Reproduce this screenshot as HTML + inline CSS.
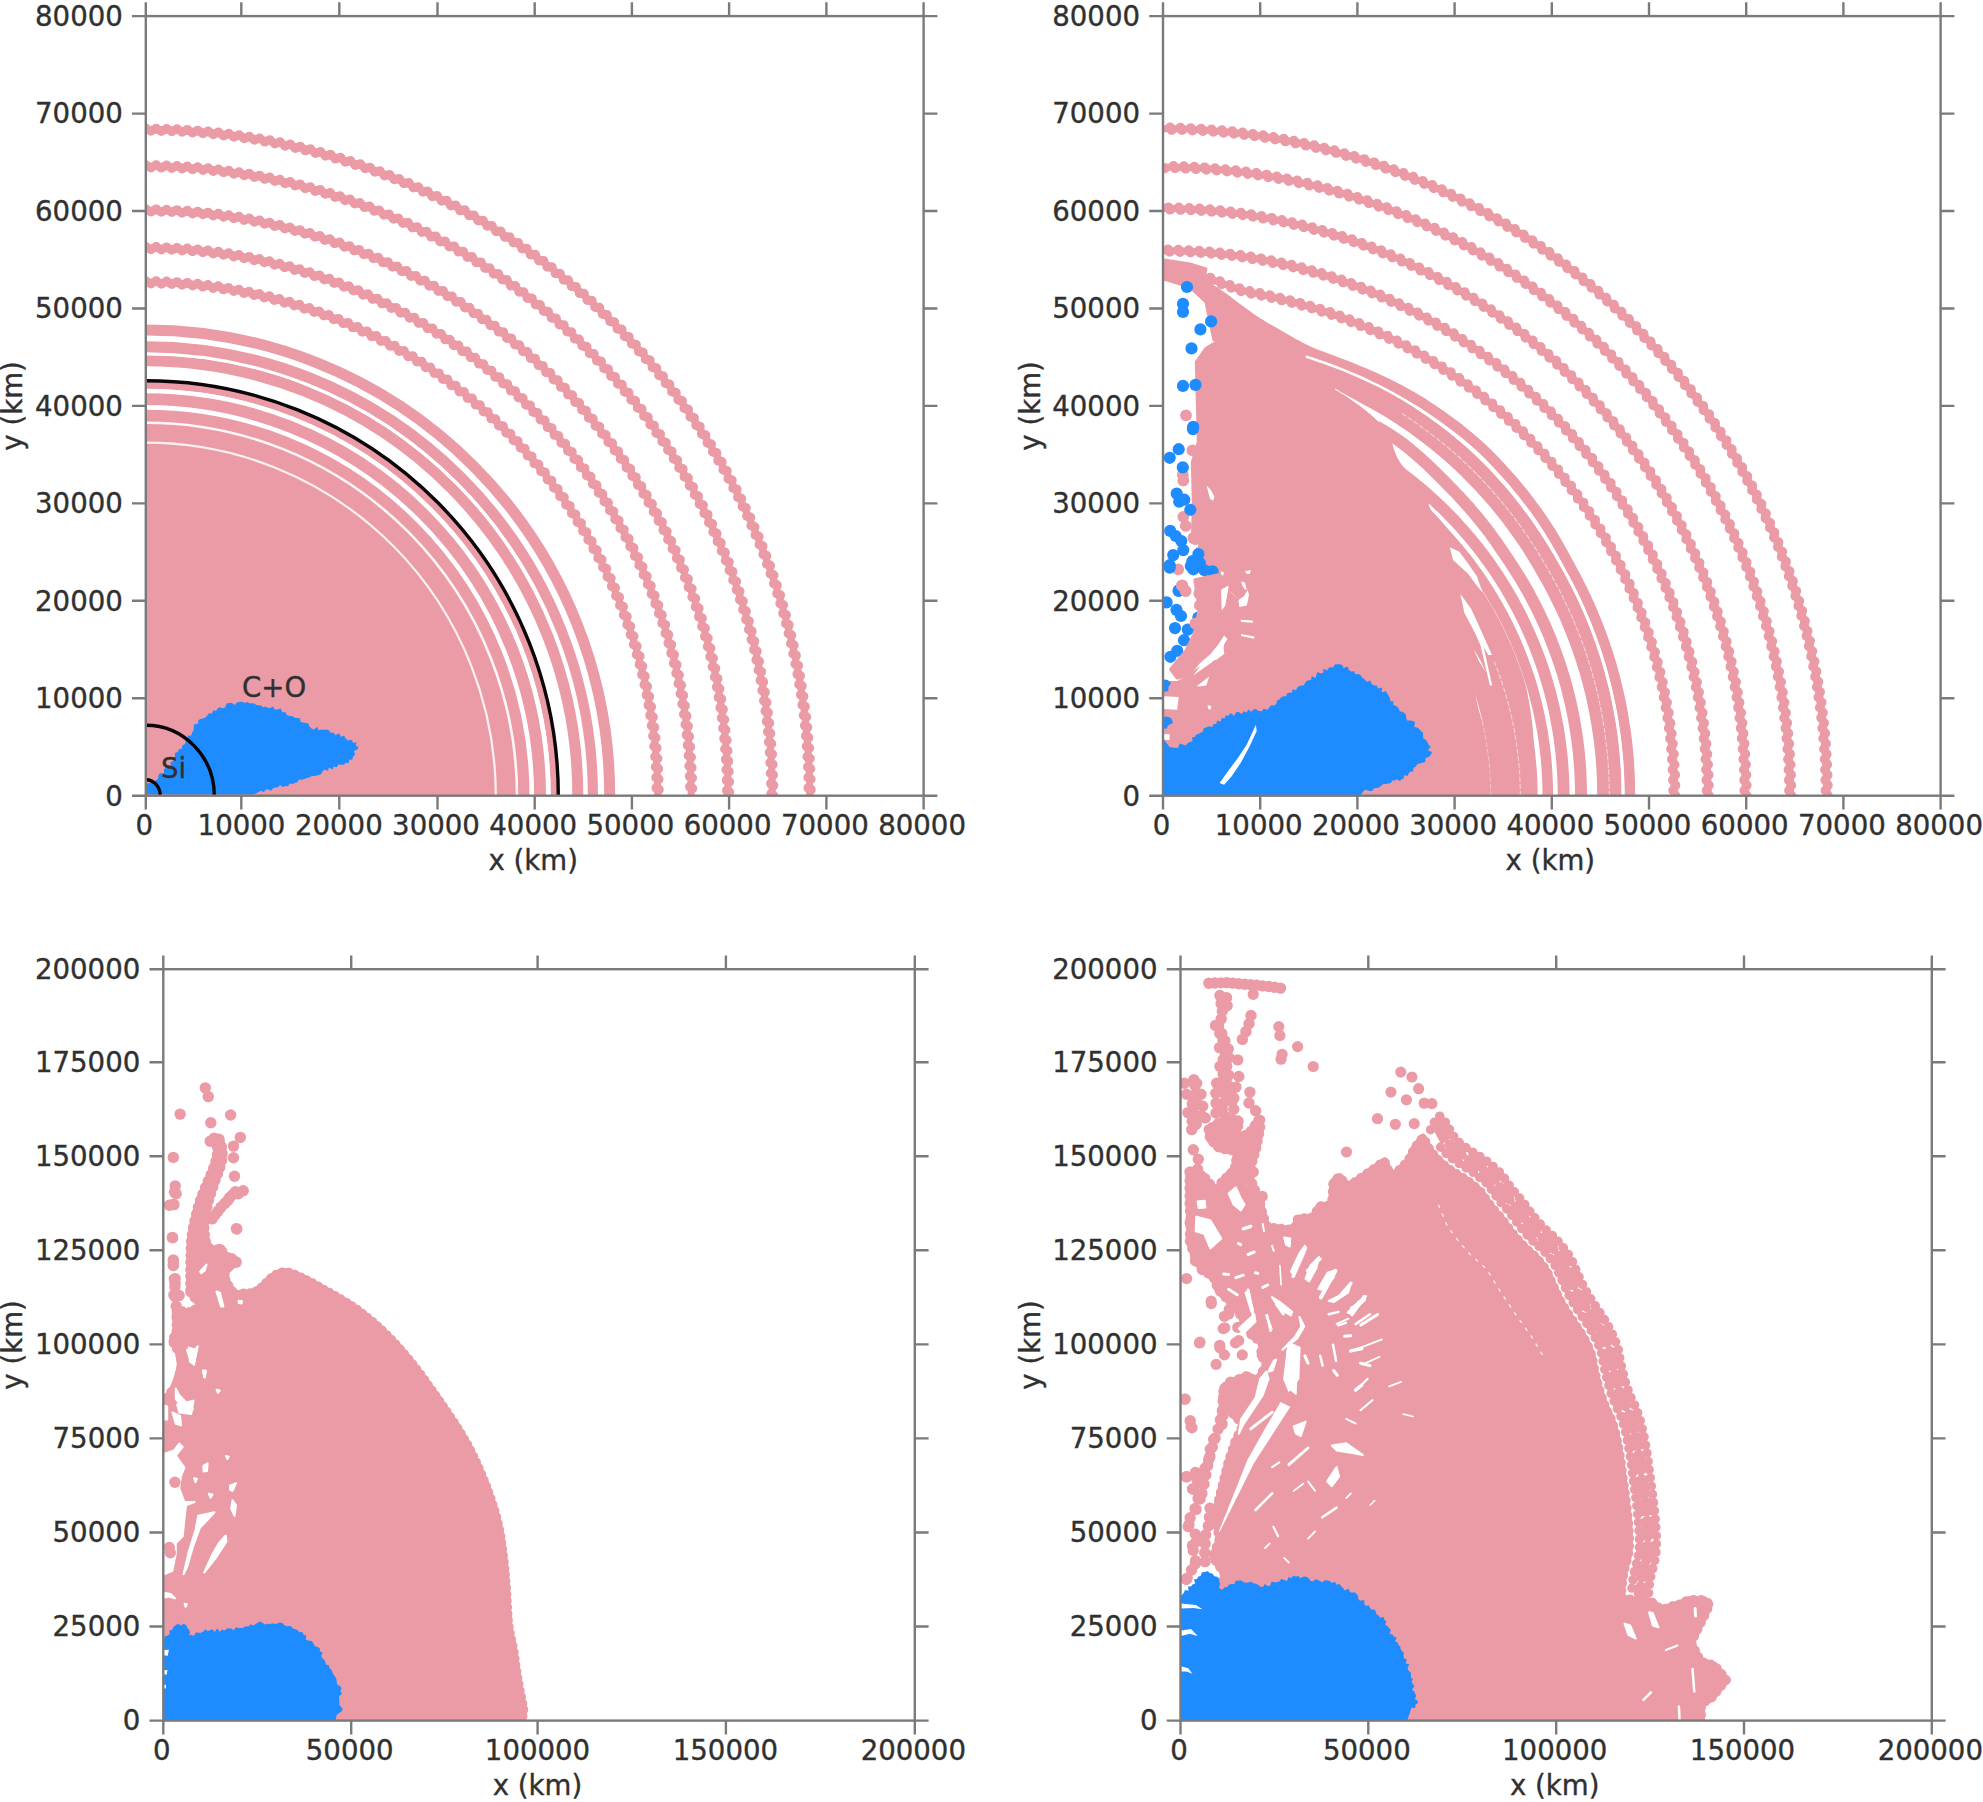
<!DOCTYPE html>
<html lang="en"><head><meta charset="utf-8"><title>Figure</title>
<style>
html,body{margin:0;padding:0;background:#fff;}
svg{display:block}
text{font-family:"DejaVu Sans","Liberation Sans",sans-serif;font-size:27.6px;fill:#303030;stroke:#303030;stroke-width:0.35px;}
</style></head><body>
<svg width="[[(1228.6080586080586, 1193.4310134310135), (1235.934065934066, 1187.3260073260074), (1240.8180708180707, 1198.3150183150183), (1244.4810744810745, 1204.4200244200244), (1240.8180708180707, 1210.5250305250306), (1233.4920634920636, 1204.4200244200244)], [(1197.4725274725274, 1201.3675213675215), (1204.7985347985348, 1200.7570207570207), (1205.4090354090354, 1207.4725274725274), (1198.6935286935286, 1208.083028083028)], [(1196.2515262515262, 1216.6300366300366), (1210.2930402930403, 1220.2930402930403), (1221.2820512820513, 1238.6080586080586), (1210.2930402930403, 1248.3760683760684), (1204.1880341880342, 1233.7240537240536), (1195.6410256410256, 1231.2820512820513)], [(1271.953601953602, 1297.2161172161173), (1279.89010989011, 1302.100122100122), (1292.100122100122, 1311.868131868132), (1290.8791208791208, 1315.5311355311355), (1279.89010989011, 1309.4261294261294)], [(1299.4261294261294, 1316.7521367521367), (1304.3101343101343, 1326.5201465201465), (1296.984126984127, 1338.7301587301588), (1282.3321123321123, 1349.7191697191697), (1294.5421245421246, 1337.5091575091576), (1301.2576312576311, 1326.5201465201465)], [(1284.163614163614, 1237.3870573870574), (1290.2686202686202, 1238.6080586080586), (1289.6581196581196, 1246.5445665445666), (1285.995115995116, 1244.7130647130648)], [(1290.8791208791208, 1271.5750915750916), (1299.4261294261294, 1253.2600732600733), (1304.920634920635, 1245.934065934066), (1301.868131868132, 1255.7020757020757), (1293.3211233211234, 1274.017094017094)], [(1305.5311355311355, 1278.901098901099), (1310.4151404151405, 1265.4700854700855), (1318.962148962149, 1256.923076923077), (1316.5201465201465, 1267.9120879120878), (1309.194139194139, 1281.3431013431014)], [(1318.3516483516482, 1288.6691086691087), (1327.5091575091576, 1272.7960927960928), (1334.835164835165, 1270.3540903540904), (1333.6141636141635, 1277.6800976800978), (1321.4041514041514, 1289.89010989011)], [(1328.7301587301588, 1300.8791208791208), (1340.940170940171, 1294.7741147741149), (1350.7081807081806, 1283.7851037851037), (1348.2661782661783, 1292.3321123321123), (1333.6141636141635, 1302.100122100122)], [(1347.6556776556777, 1312.4786324786326), (1358.034188034188, 1302.100122100122), (1365.970695970696, 1295.995115995116), (1364.1391941391942, 1300.8791208791208), (1350.7081807081806, 1313.6996336996338)], [(1268.2905982905984, 1371.6971916971918), (1273.7851037851037, 1360.7081807081806), (1276.2271062271063, 1359.4871794871794), (1272.5641025641025, 1370.4761904761904)], [(1287.2161172161173, 1350.940170940171), (1296.984126984127, 1348.4981684981685), (1295.7631257631258, 1393.6752136752136), (1288.4371184371184, 1387.5702075702075)], [(1288.8782816229118, 1342.9594272076372), (1299.618138424821, 1347.7326968973748), (1298.4248210023866, 1378.7589498806683), (1288.8782816229118, 1390.692124105012), (1284.1050119331742, 1378.7589498806683), (1286.4916467780429, 1359.6658711217183)], [(1260.2386634844868, 1378.7589498806683), (1266.2052505966587, 1371.599045346062), (1268.5918854415274, 1378.7589498806683), (1262.6252983293557, 1395.4653937947494), (1243.5322195704057, 1424.1050119331742), (1238.7589498806683, 1433.6515513126492), (1241.145584725537, 1419.3317422434368), (1255.4653937947494, 1397.852028639618)], [(1238.7589498806683, 1328.6396181384248), (1254.272076372315, 1314.3198090692124), (1255.4653937947494, 1321.4797136038187), (1243.5322195704057, 1333.4128878281622)], [(1331.837708830549, 1445.584725536993), (1346.1575178997614, 1443.198090692124), (1362.8639618138425, 1455.1312649164677), (1350.9307875894988, 1452.744630071599), (1336.6109785202864, 1450.3579952267303)], [(1327.0644391408114, 1481.3842482100238), (1336.6109785202864, 1467.0644391408114), (1338.997613365155, 1476.6109785202864), (1331.837708830549, 1486.1575178997614)], [(1293.6515513126492, 1426.4916467780429), (1305.584725536993, 1421.7183770883055), (1300.8114558472553, 1436.0381861575179), (1296.0381861575179, 1433.6515513126492)], [(1624.5283018867924, 1623.5849056603774), (1630.188679245283, 1625.4716981132076), (1635.8490566037735, 1638.6792452830189), (1628.301886792453, 1634.9056603773583)], [(1649.0566037735848, 1612.264150943396), (1652.8301886792453, 1613.0188679245284), (1658.4905660377358, 1627.3584905660377), (1652.8301886792453, 1625.4716981132076)]]" height="1802" viewBox="0 0 [[(1228.6080586080586, 1193.4310134310135), (1235.934065934066, 1187.3260073260074), (1240.8180708180707, 1198.3150183150183), (1244.4810744810745, 1204.4200244200244), (1240.8180708180707, 1210.5250305250306), (1233.4920634920636, 1204.4200244200244)], [(1197.4725274725274, 1201.3675213675215), (1204.7985347985348, 1200.7570207570207), (1205.4090354090354, 1207.4725274725274), (1198.6935286935286, 1208.083028083028)], [(1196.2515262515262, 1216.6300366300366), (1210.2930402930403, 1220.2930402930403), (1221.2820512820513, 1238.6080586080586), (1210.2930402930403, 1248.3760683760684), (1204.1880341880342, 1233.7240537240536), (1195.6410256410256, 1231.2820512820513)], [(1271.953601953602, 1297.2161172161173), (1279.89010989011, 1302.100122100122), (1292.100122100122, 1311.868131868132), (1290.8791208791208, 1315.5311355311355), (1279.89010989011, 1309.4261294261294)], [(1299.4261294261294, 1316.7521367521367), (1304.3101343101343, 1326.5201465201465), (1296.984126984127, 1338.7301587301588), (1282.3321123321123, 1349.7191697191697), (1294.5421245421246, 1337.5091575091576), (1301.2576312576311, 1326.5201465201465)], [(1284.163614163614, 1237.3870573870574), (1290.2686202686202, 1238.6080586080586), (1289.6581196581196, 1246.5445665445666), (1285.995115995116, 1244.7130647130648)], [(1290.8791208791208, 1271.5750915750916), (1299.4261294261294, 1253.2600732600733), (1304.920634920635, 1245.934065934066), (1301.868131868132, 1255.7020757020757), (1293.3211233211234, 1274.017094017094)], [(1305.5311355311355, 1278.901098901099), (1310.4151404151405, 1265.4700854700855), (1318.962148962149, 1256.923076923077), (1316.5201465201465, 1267.9120879120878), (1309.194139194139, 1281.3431013431014)], [(1318.3516483516482, 1288.6691086691087), (1327.5091575091576, 1272.7960927960928), (1334.835164835165, 1270.3540903540904), (1333.6141636141635, 1277.6800976800978), (1321.4041514041514, 1289.89010989011)], [(1328.7301587301588, 1300.8791208791208), (1340.940170940171, 1294.7741147741149), (1350.7081807081806, 1283.7851037851037), (1348.2661782661783, 1292.3321123321123), (1333.6141636141635, 1302.100122100122)], [(1347.6556776556777, 1312.4786324786326), (1358.034188034188, 1302.100122100122), (1365.970695970696, 1295.995115995116), (1364.1391941391942, 1300.8791208791208), (1350.7081807081806, 1313.6996336996338)], [(1268.2905982905984, 1371.6971916971918), (1273.7851037851037, 1360.7081807081806), (1276.2271062271063, 1359.4871794871794), (1272.5641025641025, 1370.4761904761904)], [(1287.2161172161173, 1350.940170940171), (1296.984126984127, 1348.4981684981685), (1295.7631257631258, 1393.6752136752136), (1288.4371184371184, 1387.5702075702075)], [(1288.8782816229118, 1342.9594272076372), (1299.618138424821, 1347.7326968973748), (1298.4248210023866, 1378.7589498806683), (1288.8782816229118, 1390.692124105012), (1284.1050119331742, 1378.7589498806683), (1286.4916467780429, 1359.6658711217183)], [(1260.2386634844868, 1378.7589498806683), (1266.2052505966587, 1371.599045346062), (1268.5918854415274, 1378.7589498806683), (1262.6252983293557, 1395.4653937947494), (1243.5322195704057, 1424.1050119331742), (1238.7589498806683, 1433.6515513126492), (1241.145584725537, 1419.3317422434368), (1255.4653937947494, 1397.852028639618)], [(1238.7589498806683, 1328.6396181384248), (1254.272076372315, 1314.3198090692124), (1255.4653937947494, 1321.4797136038187), (1243.5322195704057, 1333.4128878281622)], [(1331.837708830549, 1445.584725536993), (1346.1575178997614, 1443.198090692124), (1362.8639618138425, 1455.1312649164677), (1350.9307875894988, 1452.744630071599), (1336.6109785202864, 1450.3579952267303)], [(1327.0644391408114, 1481.3842482100238), (1336.6109785202864, 1467.0644391408114), (1338.997613365155, 1476.6109785202864), (1331.837708830549, 1486.1575178997614)], [(1293.6515513126492, 1426.4916467780429), (1305.584725536993, 1421.7183770883055), (1300.8114558472553, 1436.0381861575179), (1296.0381861575179, 1433.6515513126492)], [(1624.5283018867924, 1623.5849056603774), (1630.188679245283, 1625.4716981132076), (1635.8490566037735, 1638.6792452830189), (1628.301886792453, 1634.9056603773583)], [(1649.0566037735848, 1612.264150943396), (1652.8301886792453, 1613.0188679245284), (1658.4905660377358, 1627.3584905660377), (1652.8301886792453, 1625.4716981132076)]] 1802">
<rect width="[[(1228.6080586080586, 1193.4310134310135), (1235.934065934066, 1187.3260073260074), (1240.8180708180707, 1198.3150183150183), (1244.4810744810745, 1204.4200244200244), (1240.8180708180707, 1210.5250305250306), (1233.4920634920636, 1204.4200244200244)], [(1197.4725274725274, 1201.3675213675215), (1204.7985347985348, 1200.7570207570207), (1205.4090354090354, 1207.4725274725274), (1198.6935286935286, 1208.083028083028)], [(1196.2515262515262, 1216.6300366300366), (1210.2930402930403, 1220.2930402930403), (1221.2820512820513, 1238.6080586080586), (1210.2930402930403, 1248.3760683760684), (1204.1880341880342, 1233.7240537240536), (1195.6410256410256, 1231.2820512820513)], [(1271.953601953602, 1297.2161172161173), (1279.89010989011, 1302.100122100122), (1292.100122100122, 1311.868131868132), (1290.8791208791208, 1315.5311355311355), (1279.89010989011, 1309.4261294261294)], [(1299.4261294261294, 1316.7521367521367), (1304.3101343101343, 1326.5201465201465), (1296.984126984127, 1338.7301587301588), (1282.3321123321123, 1349.7191697191697), (1294.5421245421246, 1337.5091575091576), (1301.2576312576311, 1326.5201465201465)], [(1284.163614163614, 1237.3870573870574), (1290.2686202686202, 1238.6080586080586), (1289.6581196581196, 1246.5445665445666), (1285.995115995116, 1244.7130647130648)], [(1290.8791208791208, 1271.5750915750916), (1299.4261294261294, 1253.2600732600733), (1304.920634920635, 1245.934065934066), (1301.868131868132, 1255.7020757020757), (1293.3211233211234, 1274.017094017094)], [(1305.5311355311355, 1278.901098901099), (1310.4151404151405, 1265.4700854700855), (1318.962148962149, 1256.923076923077), (1316.5201465201465, 1267.9120879120878), (1309.194139194139, 1281.3431013431014)], [(1318.3516483516482, 1288.6691086691087), (1327.5091575091576, 1272.7960927960928), (1334.835164835165, 1270.3540903540904), (1333.6141636141635, 1277.6800976800978), (1321.4041514041514, 1289.89010989011)], [(1328.7301587301588, 1300.8791208791208), (1340.940170940171, 1294.7741147741149), (1350.7081807081806, 1283.7851037851037), (1348.2661782661783, 1292.3321123321123), (1333.6141636141635, 1302.100122100122)], [(1347.6556776556777, 1312.4786324786326), (1358.034188034188, 1302.100122100122), (1365.970695970696, 1295.995115995116), (1364.1391941391942, 1300.8791208791208), (1350.7081807081806, 1313.6996336996338)], [(1268.2905982905984, 1371.6971916971918), (1273.7851037851037, 1360.7081807081806), (1276.2271062271063, 1359.4871794871794), (1272.5641025641025, 1370.4761904761904)], [(1287.2161172161173, 1350.940170940171), (1296.984126984127, 1348.4981684981685), (1295.7631257631258, 1393.6752136752136), (1288.4371184371184, 1387.5702075702075)], [(1288.8782816229118, 1342.9594272076372), (1299.618138424821, 1347.7326968973748), (1298.4248210023866, 1378.7589498806683), (1288.8782816229118, 1390.692124105012), (1284.1050119331742, 1378.7589498806683), (1286.4916467780429, 1359.6658711217183)], [(1260.2386634844868, 1378.7589498806683), (1266.2052505966587, 1371.599045346062), (1268.5918854415274, 1378.7589498806683), (1262.6252983293557, 1395.4653937947494), (1243.5322195704057, 1424.1050119331742), (1238.7589498806683, 1433.6515513126492), (1241.145584725537, 1419.3317422434368), (1255.4653937947494, 1397.852028639618)], [(1238.7589498806683, 1328.6396181384248), (1254.272076372315, 1314.3198090692124), (1255.4653937947494, 1321.4797136038187), (1243.5322195704057, 1333.4128878281622)], [(1331.837708830549, 1445.584725536993), (1346.1575178997614, 1443.198090692124), (1362.8639618138425, 1455.1312649164677), (1350.9307875894988, 1452.744630071599), (1336.6109785202864, 1450.3579952267303)], [(1327.0644391408114, 1481.3842482100238), (1336.6109785202864, 1467.0644391408114), (1338.997613365155, 1476.6109785202864), (1331.837708830549, 1486.1575178997614)], [(1293.6515513126492, 1426.4916467780429), (1305.584725536993, 1421.7183770883055), (1300.8114558472553, 1436.0381861575179), (1296.0381861575179, 1433.6515513126492)], [(1624.5283018867924, 1623.5849056603774), (1630.188679245283, 1625.4716981132076), (1635.8490566037735, 1638.6792452830189), (1628.301886792453, 1634.9056603773583)], [(1649.0566037735848, 1612.264150943396), (1652.8301886792453, 1613.0188679245284), (1658.4905660377358, 1627.3584905660377), (1652.8301886792453, 1625.4716981132076)]]" height="1802" fill="#fff"/>
<g id="panel1">
<clipPath id="c1"><rect x="145.8" y="16.1" width="777.8" height="779.6"/></clipPath>
<g clip-path="url(#c1)"><path d="M145.8 795.7L145.8 391.20000000000005A402 404.5 0 0 1 547.8 795.7Z" fill="#EB9BA6"/>
<path d="M145.8 384.7A409.3 411.0 0 0 1 555.1 795.7" fill="none" stroke="#EB9BA6" stroke-width="8.8"/>
<path d="M145.8 360.7A432.0 435.0 0 0 1 577.8 795.7" fill="none" stroke="#EB9BA6" stroke-width="11"/>
<path d="M145.8 346.7A446.7 449.0 0 0 1 592.5 795.7" fill="none" stroke="#EB9BA6" stroke-width="11"/>
<path d="M145.8 329.9A463.9 465.8 0 0 1 609.7 795.7" fill="none" stroke="#EB9BA6" stroke-width="11"/>
<path d="M145.8 282.3A511.9 513.4 0 0 1 657.7 795.7" fill="none" stroke="#EB9BA6" stroke-width="7"/>
<path d="M145.8 281.2A513.0 514.5 0 0 1 658.8 795.7" fill="none" stroke="#EB9BA6" stroke-width="10" stroke-linecap="round" stroke-dasharray="0 10.4"/>
<path d="M145.8 283.4A510.8 512.3 0 0 1 656.6 795.7" fill="none" stroke="#EB9BA6" stroke-width="10" stroke-linecap="round" stroke-dasharray="0 10.4" stroke-dashoffset="5.2"/>
<path d="M145.8 248.1A545.4 547.6 0 0 1 691.2 795.7" fill="none" stroke="#EB9BA6" stroke-width="7"/>
<path d="M145.8 247.0A546.5 548.7 0 0 1 692.3 795.7" fill="none" stroke="#EB9BA6" stroke-width="10" stroke-linecap="round" stroke-dasharray="0 10.4"/>
<path d="M145.8 249.2A544.3 546.5 0 0 1 690.1 795.7" fill="none" stroke="#EB9BA6" stroke-width="10" stroke-linecap="round" stroke-dasharray="0 10.4" stroke-dashoffset="5.2"/>
<path d="M145.8 210.4A582.3 585.3 0 0 1 728.1 795.7" fill="none" stroke="#EB9BA6" stroke-width="7"/>
<path d="M145.8 209.3A583.4 586.4 0 0 1 729.2 795.7" fill="none" stroke="#EB9BA6" stroke-width="10" stroke-linecap="round" stroke-dasharray="0 10.4"/>
<path d="M145.8 211.5A581.2 584.2 0 0 1 727.0 795.7" fill="none" stroke="#EB9BA6" stroke-width="10" stroke-linecap="round" stroke-dasharray="0 10.4" stroke-dashoffset="5.2"/>
<path d="M145.8 166.3A626.5 629.4 0 0 1 772.3 795.7" fill="none" stroke="#EB9BA6" stroke-width="7"/>
<path d="M145.8 165.2A627.6 630.5 0 0 1 773.4 795.7" fill="none" stroke="#EB9BA6" stroke-width="10" stroke-linecap="round" stroke-dasharray="0 10.4"/>
<path d="M145.8 167.4A625.4 628.3 0 0 1 771.2 795.7" fill="none" stroke="#EB9BA6" stroke-width="10" stroke-linecap="round" stroke-dasharray="0 10.4" stroke-dashoffset="5.2"/>
<path d="M145.8 129.7A663.9 666.0 0 0 1 809.7 795.7" fill="none" stroke="#EB9BA6" stroke-width="7"/>
<path d="M145.8 128.6A665.0 667.1 0 0 1 810.8 795.7" fill="none" stroke="#EB9BA6" stroke-width="10" stroke-linecap="round" stroke-dasharray="0 10.4"/>
<path d="M145.8 130.8A662.8 664.9 0 0 1 808.6 795.7" fill="none" stroke="#EB9BA6" stroke-width="10" stroke-linecap="round" stroke-dasharray="0 10.4" stroke-dashoffset="5.2"/>
<path d="M145.8 442.7A350.0 353.0 0 0 1 495.8 795.7" fill="none" stroke="#fff" stroke-width="2.2" stroke-opacity="0.85"/>
<path d="M145.8 422.7A371.2 373.0 0 0 1 517.0 795.7" fill="none" stroke="#fff" stroke-width="2.6" stroke-opacity="0.9"/>
<path d="M145.8 407.4A386.0 388.3 0 0 1 531.8 795.7" fill="none" stroke="#fff" stroke-width="4.6" stroke-opacity="1"/>
<path d="M145.8 391.0A402.5 404.7 0 0 1 548.3 795.7" fill="none" stroke="#fff" stroke-width="4.6" stroke-opacity="1"/>
<path d="M145.8 354.2A441.0 441.5 0 0 1 586.8 795.7" fill="none" stroke="#fff" stroke-width="2.2" stroke-opacity="0.9"/>
<path d="M145.4 794.6L145.4 785.3L147.1 783.2L149.8 783.2L151.5 781.5L154.1 781.2L156.3 780.2L158.2 778.6L158.3 775.5L159.8 773.3L164.1 773.4L163.8 769.9L165.4 767.8L167.8 766.5L170.9 765.5L170.5 762.2L173.1 760.9L173.2 758.0L175.1 756.2L174.8 753.0L177.8 752.0L178.7 749.6L181.7 748.4L182.4 745.4L184.9 743.9L186.0 741.1L188.1 739.4L187.5 735.8L191.4 735.4L192.0 732.6L193.6 730.4L193.7 727.4L193.9 724.5L198.3 723.6L198.1 720.5L200.2 719.0L203.0 718.4L205.5 717.5L207.3 715.5L209.0 713.3L212.0 713.6L213.1 710.4L216.1 710.7L217.6 708.2L219.9 707.2L222.8 708.3L225.1 707.4L226.7 703.6L229.2 703.1L231.7 702.8L234.9 705.1L236.8 702.6L240.5 701.8L242.8 701.9L244.9 703.1L247.5 702.1L249.6 703.4L252.0 703.3L254.3 703.6L256.4 704.9L258.7 705.3L261.0 705.4L263.3 707.3L265.8 706.6L268.1 707.9L270.6 707.8L273.1 706.6L274.7 709.6L277.7 709.4L281.0 708.6L282.2 712.3L285.2 712.0L286.8 715.0L289.3 716.0L292.4 715.9L294.5 717.7L297.3 718.1L300.1 718.5L300.6 722.1L303.2 722.6L305.9 723.0L308.5 723.7L309.4 726.6L311.5 728.6L313.8 729.8L317.1 726.7L318.8 730.2L321.5 729.6L324.1 729.8L326.7 729.4L329.0 730.6L331.0 733.1L333.6 732.6L335.4 735.2L339.3 733.3L340.7 736.7L344.2 735.7L345.7 738.7L348.2 740.4L351.4 739.8L353.4 742.9L356.6 742.3L355.7 745.4L358.5 747.1L357.1 749.6L353.9 751.0L355.1 754.8L353.0 756.8L352.3 759.7L349.1 759.5L348.8 762.9L345.7 762.9L343.7 764.8L341.0 764.7L338.4 764.6L336.5 767.2L333.6 766.5L332.6 769.4L328.8 767.6L328.0 770.8L324.6 769.7L322.7 771.1L321.5 773.8L319.3 775.0L316.7 775.4L314.3 775.9L311.7 776.1L309.4 777.4L306.9 778.0L304.5 779.1L302.0 779.8L299.1 779.6L297.3 782.2L294.9 782.9L292.6 784.0L289.8 783.5L288.0 786.2L285.2 785.9L283.0 787.2L280.0 784.9L278.0 787.2L275.5 787.6L273.1 788.3L271.1 790.8L268.4 789.6L265.8 789.4L263.8 792.2L261.0 790.7L253.8 794.6Z" fill="#1E8CFF"/>
<path d="M145.8 380.7A412.5 415.0 0 0 1 558.3 795.7" fill="none" stroke="#0a0508" stroke-width="3.4"/>
<path d="M145.8 725.2A68.5 70.5 0 0 1 214.3 795.7" fill="none" stroke="#0a0508" stroke-width="3.4"/>
<path d="M145.8 779.7A14.5 16.0 0 0 1 160.3 795.7" fill="none" stroke="#0a0508" stroke-width="3.4"/>
<text x="242" y="696.9">C+O</text><text x="161" y="778.3">Si</text></g>
<rect x="145.8" y="16.1" width="777.8" height="779.6" fill="none" stroke="#7a7a7a" stroke-width="2.4"/>
<text x="144.3" y="834.6" text-anchor="middle">0</text>
<text x="241.5" y="834.6" text-anchor="middle">10000</text>
<text x="338.8" y="834.6" text-anchor="middle">20000</text>
<text x="436.0" y="834.6" text-anchor="middle">30000</text>
<text x="533.2" y="834.6" text-anchor="middle">40000</text>
<text x="630.4" y="834.6" text-anchor="middle">50000</text>
<text x="727.6" y="834.6" text-anchor="middle">60000</text>
<text x="824.9" y="834.6" text-anchor="middle">70000</text>
<text x="922.1" y="834.6" text-anchor="middle">80000</text>
<text x="122.8" y="805.5" text-anchor="end">0</text>
<text x="122.8" y="708.0" text-anchor="end">10000</text>
<text x="122.8" y="610.6" text-anchor="end">20000</text>
<text x="122.8" y="513.1" text-anchor="end">30000</text>
<text x="122.8" y="415.7" text-anchor="end">40000</text>
<text x="122.8" y="318.3" text-anchor="end">50000</text>
<text x="122.8" y="220.8" text-anchor="end">60000</text>
<text x="122.8" y="123.4" text-anchor="end">70000</text>
<text x="122.8" y="25.9" text-anchor="end">80000</text>
<path d="M145.8 795.7v13.8M145.8 16.1v-13.8M241.3 795.7v13.8M241.3 16.1v-13.8M339.3 795.7v13.8M339.3 16.1v-13.8M437.5 795.7v13.8M437.5 16.1v-13.8M534.7 795.7v13.8M534.7 16.1v-13.8M631.9 795.7v13.8M631.9 16.1v-13.8M729.1 795.7v13.8M729.1 16.1v-13.8M826.4 795.7v13.8M826.4 16.1v-13.8M923.6 795.7v13.8M923.6 16.1v-13.8M145.8 795.7h-13.8M923.6 795.7h13.8M145.8 698.2h-13.8M923.6 698.2h13.8M145.8 600.8h-13.8M923.6 600.8h13.8M145.8 503.4h-13.8M923.6 503.4h13.8M145.8 405.9h-13.8M923.6 405.9h13.8M145.8 308.5h-13.8M923.6 308.5h13.8M145.8 211.0h-13.8M923.6 211.0h13.8M145.8 113.6h-13.8M923.6 113.6h13.8M145.8 16.1h-13.8M923.6 16.1h13.8" fill="none" stroke="#7a7a7a" stroke-width="2.4"/>
<text x="533.2" y="869.6" text-anchor="middle">x (km)</text>
<text transform="translate(22.1,405.9) rotate(-90)" text-anchor="middle">y (km)</text>
</g>
<g id="panel2">
<clipPath id="c2"><rect x="1163.0" y="16.1" width="777.6" height="779.6"/></clipPath>
<g clip-path="url(#c2)"><path d="M1707.8 795.7L1707.8 790.9L1707.7 786.1L1707.6 781.3L1707.5 776.6L1707.3 771.8L1707.0 767.0L1706.8 762.2L1706.4 757.4L1706.1 752.7L1705.7 747.9L1705.2 743.1L1704.8 738.4L1704.2 733.6L1703.7 728.9L1703.1 724.1L1702.4 719.4L1701.7 714.6L1701.0 709.9L1700.2 705.2L1699.4 700.5L1698.5 695.8L1697.6 691.1L1696.7 686.4L1695.7 681.7L1694.7 677.0L1693.6 672.3L1692.5 667.7L1691.4 663.0L1690.2 658.4L1689.0 653.8L1687.7 649.2L1686.4 644.6L1685.1 640.0L1683.7 635.4L1682.2 630.8L1680.8 626.3L1679.3 621.7L1677.7 617.2L1676.1 612.7L1674.5 608.2L1672.9 603.7L1671.1 599.2L1669.4 594.8L1667.6 590.3L1665.8 585.9L1663.9 581.5L1662.0 577.1L1660.1 572.7L1658.1 568.4L1656.1 564.0L1654.1 559.7L1652.0 555.4L1649.9 551.1L1647.7 546.9L1645.5 542.6L1643.3 538.4L1641.0 534.2L1638.7 530.0L1636.3 525.8L1633.9 521.7L1631.5 517.5L1629.1 513.4L1626.6 509.4L1624.0 505.3L1621.5 501.3L1618.9 497.3L1616.2 493.3L1613.6 489.3L1610.9 485.3L1608.1 481.4L1605.4 477.5L1602.6 473.7L1599.7 469.8L1596.8 466.0L1593.9 462.2L1591.0 458.4L1588.0 454.7L1585.0 451.0L1582.0 447.3L1578.9 443.6L1575.8 440.0L1572.7 436.3L1569.5 432.8L1566.3 429.2L1563.1 425.7L1559.8 422.2L1556.5 418.7L1553.2 415.3L1549.9 411.9L1546.5 408.5L1543.1 405.1L1539.6 401.8L1536.2 398.5L1532.7 395.3L1529.2 392.0L1525.6 388.8L1522.0 385.7L1518.4 382.5L1514.8 379.4L1511.1 376.3L1507.4 373.3L1503.7 370.3L1500.0 367.3L1496.2 364.4L1492.4 361.5L1488.6 358.6L1484.8 355.8L1480.9 353.0L1477.0 350.2L1473.1 347.4L1469.1 344.7L1465.2 342.1L1461.2 339.4L1457.2 336.8L1453.1 334.3L1449.1 331.7L1445.0 329.3L1440.9 326.8L1436.8 324.4L1432.7 322.0L1428.5 319.6L1424.3 317.3L1420.1 315.1L1415.9 312.8L1411.6 310.6L1407.4 308.5L1403.1 306.3L1398.8 304.3L1394.5 302.2L1390.2 300.2L1385.8 298.2L1381.4 296.3L1377.1 294.4L1372.7 292.5L1368.2 290.7L1363.8 288.9L1359.4 287.2L1354.9 285.5L1350.4 283.8L1345.9 282.2L1341.4 280.6L1336.9 279.1L1332.4 277.6L1327.8 276.1L1323.3 274.7L1318.7 273.3L1314.1 272.0L1309.5 270.7L1304.9 269.4L1300.3 268.2L1295.7 267.0L1291.0 265.8L1286.4 264.7L1281.7 263.7L1277.1 262.7L1272.4 261.7L1267.7 260.8L1263.0 259.9L1258.3 259.0L1253.6 258.2L1248.9 257.4L1244.2 256.7L1239.4 256.0L1234.7 255.4L1230.0 254.8L1225.2 254.2L1220.5 253.7L1215.7 253.2L1211.0 252.7L1206.2 252.4L1201.5 252.0L1196.7 251.7L1191.9 251.4L1187.2 251.2L1182.4 251.0L1177.6 250.9L1172.8 250.8L1168.1 250.7L1163.3 250.7" fill="none" stroke="#EB9BA6" stroke-width="7" stroke-linejoin="round"/><path d="M1708.9 795.7L1708.9 790.9L1708.8 786.1L1708.7 781.3L1708.6 776.5L1708.4 771.7L1708.1 766.9L1707.9 762.2L1707.5 757.4L1707.2 752.6L1706.8 747.8L1706.3 743.0L1705.9 738.3L1705.3 733.5L1704.8 728.7L1704.1 724.0L1703.5 719.2L1702.8 714.5L1702.1 709.7L1701.3 705.0L1700.5 700.3L1699.6 695.6L1698.7 690.9L1697.8 686.1L1696.8 681.5L1695.8 676.8L1694.7 672.1L1693.6 667.4L1692.5 662.8L1691.3 658.1L1690.0 653.5L1688.8 648.9L1687.5 644.3L1686.1 639.7L1684.7 635.1L1683.3 630.5L1681.8 625.9L1680.3 621.4L1678.8 616.8L1677.2 612.3L1675.5 607.8L1673.9 603.3L1672.2 598.8L1670.4 594.4L1668.6 589.9L1666.8 585.5L1665.0 581.1L1663.1 576.7L1661.1 572.3L1659.1 567.9L1657.1 563.6L1655.1 559.2L1653.0 554.9L1650.8 550.6L1648.7 546.4L1646.5 542.1L1644.2 537.9L1641.9 533.6L1639.6 529.5L1637.3 525.3L1634.9 521.1L1632.5 517.0L1630.0 512.9L1627.5 508.8L1625.0 504.7L1622.4 500.7L1619.8 496.6L1617.2 492.6L1614.5 488.7L1611.8 484.7L1609.0 480.8L1606.3 476.9L1603.4 473.0L1600.6 469.1L1597.7 465.3L1594.8 461.5L1591.9 457.7L1588.9 454.0L1585.9 450.3L1582.8 446.6L1579.7 442.9L1576.6 439.2L1573.5 435.6L1570.3 432.0L1567.1 428.5L1563.9 424.9L1560.6 421.4L1557.3 418.0L1554.0 414.5L1550.6 411.1L1547.3 407.7L1543.8 404.3L1540.4 401.0L1536.9 397.7L1533.4 394.4L1529.9 391.2L1526.3 388.0L1522.7 384.8L1519.1 381.7L1515.5 378.6L1511.8 375.5L1508.1 372.5L1504.4 369.4L1500.7 366.5L1496.9 363.5L1493.1 360.6L1489.3 357.7L1485.4 354.9L1481.5 352.1L1477.6 349.3L1473.7 346.5L1469.8 343.8L1465.8 341.2L1461.8 338.5L1457.8 335.9L1453.7 333.3L1449.7 330.8L1445.6 328.3L1441.5 325.9L1437.3 323.4L1433.2 321.0L1429.0 318.7L1424.8 316.4L1420.6 314.1L1416.4 311.8L1412.1 309.6L1407.9 307.5L1403.6 305.3L1399.3 303.3L1395.0 301.2L1390.6 299.2L1386.3 297.2L1381.9 295.3L1377.5 293.4L1373.1 291.5L1368.7 289.7L1364.2 287.9L1359.8 286.2L1355.3 284.5L1350.8 282.8L1346.3 281.2L1341.8 279.6L1337.3 278.0L1332.7 276.5L1328.2 275.1L1323.6 273.6L1319.0 272.2L1314.4 270.9L1309.8 269.6L1305.2 268.3L1300.6 267.1L1295.9 265.9L1291.3 264.8L1286.6 263.7L1282.0 262.6L1277.3 261.6L1272.6 260.6L1267.9 259.7L1263.2 258.8L1258.5 257.9L1253.8 257.1L1249.1 256.3L1244.3 255.6L1239.6 254.9L1234.9 254.3L1230.1 253.7L1225.4 253.1L1220.6 252.6L1215.8 252.1L1211.1 251.7L1206.3 251.3L1201.5 250.9L1196.8 250.6L1192.0 250.3L1187.2 250.1L1182.4 249.9L1177.7 249.8L1172.9 249.7L1168.1 249.6L1163.3 249.6" fill="none" stroke="#EB9BA6" stroke-width="10" stroke-linecap="round" stroke-dasharray="0 10.4" stroke-dashoffset="0"/><path d="M1706.7 795.7L1706.7 790.9L1706.6 786.1L1706.5 781.4L1706.4 776.6L1706.2 771.8L1705.9 767.1L1705.7 762.3L1705.3 757.5L1705.0 752.8L1704.6 748.0L1704.1 743.2L1703.7 738.5L1703.1 733.7L1702.6 729.0L1702.0 724.3L1701.3 719.5L1700.6 714.8L1699.9 710.1L1699.1 705.4L1698.3 700.7L1697.5 696.0L1696.6 691.3L1695.6 686.6L1694.6 681.9L1693.6 677.3L1692.6 672.6L1691.5 667.9L1690.3 663.3L1689.1 658.7L1687.9 654.1L1686.6 649.5L1685.3 644.9L1684.0 640.3L1682.6 635.7L1681.2 631.2L1679.7 626.6L1678.2 622.1L1676.7 617.6L1675.1 613.1L1673.5 608.6L1671.8 604.1L1670.1 599.6L1668.4 595.2L1666.6 590.7L1664.8 586.3L1662.9 581.9L1661.0 577.6L1659.1 573.2L1657.1 568.8L1655.1 564.5L1653.1 560.2L1651.0 555.9L1648.9 551.6L1646.7 547.4L1644.5 543.1L1642.3 538.9L1640.0 534.7L1637.7 530.5L1635.4 526.4L1633.0 522.2L1630.6 518.1L1628.1 514.0L1625.6 509.9L1623.1 505.9L1620.5 501.9L1618.0 497.9L1615.3 493.9L1612.7 489.9L1610.0 486.0L1607.2 482.1L1604.5 478.2L1601.7 474.3L1598.8 470.5L1596.0 466.7L1593.1 462.9L1590.1 459.1L1587.2 455.4L1584.2 451.7L1581.1 448.0L1578.1 444.3L1575.0 440.7L1571.8 437.1L1568.7 433.5L1565.5 429.9L1562.3 426.4L1559.0 422.9L1555.7 419.5L1552.4 416.0L1549.1 412.6L1545.7 409.3L1542.3 405.9L1538.9 402.6L1535.4 399.3L1531.9 396.1L1528.4 392.8L1524.9 389.6L1521.3 386.5L1517.7 383.4L1514.1 380.3L1510.4 377.2L1506.7 374.2L1503.0 371.2L1499.3 368.2L1495.5 365.3L1491.7 362.4L1487.9 359.5L1484.1 356.7L1480.2 353.9L1476.4 351.1L1472.4 348.4L1468.5 345.7L1464.6 343.0L1460.6 340.4L1456.6 337.8L1452.6 335.2L1448.5 332.7L1444.4 330.2L1440.4 327.7L1436.2 325.3L1432.1 323.0L1428.0 320.6L1423.8 318.3L1419.6 316.0L1415.4 313.8L1411.1 311.6L1406.9 309.4L1402.6 307.3L1398.3 305.2L1394.0 303.2L1389.7 301.2L1385.4 299.2L1381.0 297.3L1376.6 295.4L1372.2 293.5L1367.8 291.7L1363.4 290.0L1359.0 288.2L1354.5 286.5L1350.0 284.9L1345.6 283.2L1341.1 281.7L1336.6 280.1L1332.0 278.6L1327.5 277.2L1322.9 275.7L1318.4 274.4L1313.8 273.0L1309.2 271.7L1304.6 270.5L1300.0 269.2L1295.4 268.1L1290.8 266.9L1286.1 265.8L1281.5 264.8L1276.8 263.7L1272.2 262.8L1267.5 261.8L1262.8 260.9L1258.1 260.1L1253.4 259.3L1248.7 258.5L1244.0 257.8L1239.3 257.1L1234.6 256.4L1229.8 255.8L1225.1 255.3L1220.4 254.8L1215.6 254.3L1210.9 253.8L1206.1 253.5L1201.4 253.1L1196.6 252.8L1191.9 252.5L1187.1 252.3L1182.4 252.1L1177.6 252.0L1172.8 251.9L1168.1 251.8L1163.3 251.8" fill="none" stroke="#EB9BA6" stroke-width="10" stroke-linecap="round" stroke-dasharray="0 10.4" stroke-dashoffset="5.2"/>
<path d="M1745.5 795.7L1745.5 790.6L1745.5 785.5L1745.4 780.3L1745.2 775.2L1745.1 770.1L1744.8 765.0L1744.6 759.9L1744.2 754.8L1743.9 749.7L1743.5 744.6L1743.0 739.5L1742.5 734.4L1742.0 729.3L1741.4 724.2L1740.8 719.1L1740.1 714.0L1739.4 709.0L1738.7 703.9L1737.9 698.8L1737.0 693.8L1736.1 688.7L1735.2 683.7L1734.2 678.7L1733.2 673.7L1732.1 668.7L1731.0 663.7L1729.8 658.7L1728.6 653.7L1727.4 648.7L1726.1 643.8L1724.8 638.8L1723.4 633.9L1722.0 628.9L1720.5 624.0L1719.0 619.1L1717.5 614.3L1715.9 609.4L1714.3 604.5L1712.6 599.7L1710.9 594.9L1709.1 590.0L1707.3 585.2L1705.5 580.5L1703.6 575.7L1701.6 570.9L1699.7 566.2L1697.7 561.5L1695.6 556.8L1693.5 552.1L1691.4 547.5L1689.2 542.8L1687.0 538.2L1684.7 533.6L1682.4 529.0L1680.1 524.4L1677.7 519.9L1675.3 515.4L1672.9 510.9L1670.4 506.4L1667.8 501.9L1665.3 497.5L1662.6 493.1L1660.0 488.7L1657.3 484.3L1654.6 480.0L1651.8 475.7L1649.0 471.4L1646.2 467.1L1643.3 462.9L1640.4 458.6L1637.4 454.4L1634.4 450.3L1631.4 446.1L1628.3 442.0L1625.3 437.9L1622.1 433.9L1618.9 429.8L1615.7 425.8L1612.5 421.9L1609.2 417.9L1605.9 414.0L1602.6 410.1L1599.2 406.2L1595.8 402.4L1592.3 398.6L1588.9 394.8L1585.3 391.1L1581.8 387.4L1578.2 383.7L1574.6 380.1L1571.0 376.4L1567.3 372.9L1563.6 369.3L1559.9 365.8L1556.1 362.3L1552.3 358.8L1548.5 355.4L1544.6 352.0L1540.7 348.7L1536.8 345.4L1532.9 342.1L1528.9 338.8L1524.9 335.6L1520.9 332.4L1516.8 329.3L1512.7 326.2L1508.6 323.1L1504.5 320.1L1500.3 317.1L1496.1 314.1L1491.9 311.2L1487.6 308.3L1483.4 305.5L1479.1 302.6L1474.8 299.9L1470.4 297.1L1466.0 294.4L1461.7 291.8L1457.2 289.1L1452.8 286.6L1448.3 284.0L1443.9 281.5L1439.4 279.0L1434.8 276.6L1430.3 274.2L1425.7 271.9L1421.1 269.6L1416.5 267.3L1411.9 265.1L1407.2 262.9L1402.6 260.7L1397.9 258.6L1393.2 256.6L1388.5 254.6L1383.7 252.6L1379.0 250.6L1374.2 248.7L1369.4 246.9L1364.6 245.1L1359.8 243.3L1354.9 241.6L1350.1 239.9L1345.2 238.3L1340.3 236.7L1335.4 235.1L1330.5 233.6L1325.6 232.1L1320.6 230.7L1315.7 229.3L1310.7 228.0L1305.8 226.7L1300.8 225.4L1295.8 224.2L1290.8 223.0L1285.8 221.9L1280.7 220.8L1275.7 219.8L1270.6 218.8L1265.6 217.9L1260.5 217.0L1255.5 216.1L1250.4 215.3L1245.3 214.5L1240.2 213.8L1235.1 213.1L1230.0 212.5L1224.9 211.9L1219.8 211.4L1214.7 210.9L1209.5 210.4L1204.4 210.0L1199.3 209.7L1194.1 209.4L1189.0 209.1L1183.9 208.9L1178.7 208.7L1173.6 208.5L1168.4 208.5L1163.3 208.4" fill="none" stroke="#EB9BA6" stroke-width="7" stroke-linejoin="round"/><path d="M1746.6 795.7L1746.6 790.6L1746.6 785.4L1746.5 780.3L1746.3 775.2L1746.2 770.1L1745.9 764.9L1745.7 759.8L1745.3 754.7L1745.0 749.6L1744.6 744.5L1744.1 739.4L1743.6 734.3L1743.1 729.2L1742.5 724.1L1741.9 719.0L1741.2 713.9L1740.5 708.8L1739.7 703.7L1738.9 698.7L1738.1 693.6L1737.2 688.5L1736.3 683.5L1735.3 678.5L1734.2 673.4L1733.2 668.4L1732.1 663.4L1730.9 658.4L1729.7 653.4L1728.5 648.4L1727.2 643.5L1725.8 638.5L1724.5 633.6L1723.0 628.6L1721.6 623.7L1720.1 618.8L1718.5 613.9L1716.9 609.0L1715.3 604.2L1713.6 599.3L1711.9 594.5L1710.1 589.7L1708.3 584.8L1706.5 580.1L1704.6 575.3L1702.7 570.5L1700.7 565.8L1698.7 561.1L1696.6 556.3L1694.5 551.7L1692.4 547.0L1690.2 542.3L1688.0 537.7L1685.7 533.1L1683.4 528.5L1681.1 523.9L1678.7 519.4L1676.3 514.8L1673.8 510.3L1671.3 505.8L1668.8 501.4L1666.2 496.9L1663.6 492.5L1660.9 488.1L1658.2 483.7L1655.5 479.4L1652.7 475.1L1649.9 470.8L1647.1 466.5L1644.2 462.2L1641.3 458.0L1638.3 453.8L1635.3 449.6L1632.3 445.5L1629.2 441.4L1626.1 437.3L1623.0 433.2L1619.8 429.2L1616.6 425.1L1613.3 421.2L1610.1 417.2L1606.8 413.3L1603.4 409.4L1600.0 405.5L1596.6 401.7L1593.1 397.9L1589.7 394.1L1586.1 390.3L1582.6 386.6L1579.0 382.9L1575.4 379.3L1571.7 375.6L1568.1 372.1L1564.4 368.5L1560.6 365.0L1556.8 361.5L1553.0 358.0L1549.2 354.6L1545.3 351.2L1541.4 347.8L1537.5 344.5L1533.6 341.2L1529.6 338.0L1525.6 334.8L1521.5 331.6L1517.5 328.4L1513.4 325.3L1509.3 322.2L1505.1 319.2L1500.9 316.2L1496.7 313.2L1492.5 310.3L1488.3 307.4L1484.0 304.5L1479.7 301.7L1475.3 298.9L1471.0 296.2L1466.6 293.5L1462.2 290.8L1457.8 288.2L1453.4 285.6L1448.9 283.0L1444.4 280.5L1439.9 278.1L1435.3 275.6L1430.8 273.2L1426.2 270.9L1421.6 268.6L1417.0 266.3L1412.4 264.1L1407.7 261.9L1403.0 259.7L1398.3 257.6L1393.6 255.6L1388.9 253.5L1384.1 251.6L1379.4 249.6L1374.6 247.7L1369.8 245.9L1365.0 244.0L1360.1 242.3L1355.3 240.5L1350.4 238.8L1345.5 237.2L1340.6 235.6L1335.7 234.0L1330.8 232.5L1325.9 231.1L1320.9 229.6L1316.0 228.2L1311.0 226.9L1306.0 225.6L1301.0 224.3L1296.0 223.1L1291.0 222.0L1286.0 220.8L1280.9 219.8L1275.9 218.7L1270.8 217.7L1265.8 216.8L1260.7 215.9L1255.6 215.0L1250.5 214.2L1245.5 213.5L1240.4 212.7L1235.2 212.1L1230.1 211.4L1225.0 210.8L1219.9 210.3L1214.8 209.8L1209.6 209.3L1204.5 208.9L1199.4 208.6L1194.2 208.3L1189.1 208.0L1183.9 207.8L1178.8 207.6L1173.6 207.4L1168.5 207.4L1163.3 207.3" fill="none" stroke="#EB9BA6" stroke-width="10" stroke-linecap="round" stroke-dasharray="0 10.4" stroke-dashoffset="0"/><path d="M1744.4 795.7L1744.4 790.6L1744.4 785.5L1744.3 780.4L1744.1 775.3L1744.0 770.2L1743.7 765.1L1743.5 760.0L1743.2 754.9L1742.8 749.8L1742.4 744.7L1741.9 739.6L1741.5 734.5L1740.9 729.4L1740.3 724.3L1739.7 719.3L1739.0 714.2L1738.3 709.1L1737.6 704.1L1736.8 699.0L1735.9 694.0L1735.0 688.9L1734.1 683.9L1733.1 678.9L1732.1 673.9L1731.0 668.9L1729.9 663.9L1728.8 658.9L1727.6 654.0L1726.3 649.0L1725.0 644.0L1723.7 639.1L1722.3 634.2L1720.9 629.3L1719.5 624.4L1718.0 619.5L1716.4 614.6L1714.8 609.7L1713.2 604.9L1711.5 600.1L1709.8 595.2L1708.1 590.4L1706.3 585.6L1704.4 580.9L1702.6 576.1L1700.6 571.4L1698.7 566.6L1696.7 561.9L1694.6 557.2L1692.5 552.6L1690.4 547.9L1688.2 543.3L1686.0 538.7L1683.8 534.1L1681.5 529.5L1679.1 525.0L1676.8 520.4L1674.4 515.9L1671.9 511.4L1669.4 506.9L1666.9 502.5L1664.3 498.1L1661.7 493.7L1659.1 489.3L1656.4 484.9L1653.7 480.6L1650.9 476.3L1648.1 472.0L1645.3 467.7L1642.4 463.5L1639.5 459.3L1636.5 455.1L1633.5 450.9L1630.5 446.8L1627.5 442.7L1624.4 438.6L1621.3 434.6L1618.1 430.5L1614.9 426.5L1611.7 422.6L1608.4 418.6L1605.1 414.7L1601.7 410.8L1598.4 407.0L1595.0 403.1L1591.5 399.3L1588.1 395.6L1584.6 391.8L1581.0 388.1L1577.4 384.5L1573.8 380.8L1570.2 377.2L1566.5 373.6L1562.8 370.1L1559.1 366.6L1555.4 363.1L1551.6 359.7L1547.8 356.2L1543.9 352.9L1540.0 349.5L1536.1 346.2L1532.2 342.9L1528.2 339.7L1524.2 336.5L1520.2 333.3L1516.1 330.2L1512.1 327.1L1508.0 324.0L1503.8 321.0L1499.7 318.0L1495.5 315.0L1491.3 312.1L1487.0 309.2L1482.8 306.4L1478.5 303.6L1474.2 300.8L1469.8 298.1L1465.5 295.4L1461.1 292.7L1456.7 290.1L1452.3 287.5L1447.8 285.0L1443.3 282.5L1438.8 280.0L1434.3 277.6L1429.8 275.2L1425.2 272.9L1420.6 270.6L1416.0 268.3L1411.4 266.1L1406.8 263.9L1402.1 261.7L1397.4 259.6L1392.7 257.6L1388.0 255.6L1383.3 253.6L1378.6 251.7L1373.8 249.8L1369.0 247.9L1364.2 246.1L1359.4 244.3L1354.6 242.6L1349.7 240.9L1344.9 239.3L1340.0 237.7L1335.1 236.1L1330.2 234.6L1325.3 233.2L1320.3 231.7L1315.4 230.4L1310.5 229.0L1305.5 227.7L1300.5 226.5L1295.5 225.3L1290.5 224.1L1285.5 223.0L1280.5 221.9L1275.5 220.9L1270.4 219.9L1265.4 219.0L1260.3 218.1L1255.3 217.2L1250.2 216.4L1245.1 215.6L1240.1 214.9L1235.0 214.2L1229.9 213.6L1224.8 213.0L1219.7 212.5L1214.6 212.0L1209.5 211.5L1204.3 211.1L1199.2 210.8L1194.1 210.5L1189.0 210.2L1183.8 210.0L1178.7 209.8L1173.6 209.6L1168.4 209.6L1163.3 209.5" fill="none" stroke="#EB9BA6" stroke-width="10" stroke-linecap="round" stroke-dasharray="0 10.4" stroke-dashoffset="5.2"/>
<path d="M1790.2 795.7L1790.2 790.2L1790.1 784.7L1790.0 779.2L1789.8 773.7L1789.6 768.2L1789.4 762.7L1789.0 757.1L1788.7 751.6L1788.3 746.2L1787.8 740.7L1787.3 735.2L1786.8 729.7L1786.2 724.2L1785.5 718.7L1784.8 713.3L1784.1 707.8L1783.3 702.4L1782.5 696.9L1781.6 691.5L1780.6 686.0L1779.7 680.6L1778.6 675.2L1777.5 669.8L1776.4 664.4L1775.3 659.0L1774.0 653.6L1772.8 648.3L1771.5 642.9L1770.1 637.6L1768.7 632.3L1767.2 626.9L1765.7 621.6L1764.2 616.3L1762.6 611.1L1761.0 605.8L1759.3 600.6L1757.6 595.3L1755.8 590.1L1754.0 584.9L1752.1 579.7L1750.2 574.6L1748.2 569.4L1746.2 564.3L1744.2 559.2L1742.1 554.1L1740.0 549.0L1737.8 543.9L1735.6 538.9L1733.3 533.9L1731.0 528.9L1728.6 523.9L1726.2 518.9L1723.8 514.0L1721.3 509.1L1718.8 504.2L1716.2 499.3L1713.6 494.4L1710.9 489.6L1708.2 484.8L1705.5 480.0L1702.7 475.3L1699.9 470.5L1697.0 465.8L1694.1 461.2L1691.1 456.5L1688.1 451.9L1685.1 447.3L1682.0 442.7L1678.9 438.1L1675.8 433.6L1672.6 429.1L1669.4 424.7L1666.1 420.2L1662.8 415.8L1659.5 411.4L1656.1 407.1L1652.7 402.8L1649.2 398.5L1645.7 394.2L1642.2 390.0L1638.6 385.8L1635.0 381.6L1631.3 377.5L1627.7 373.4L1623.9 369.3L1620.2 365.3L1616.4 361.3L1612.6 357.3L1608.7 353.4L1604.8 349.5L1600.9 345.6L1597.0 341.8L1593.0 338.0L1589.0 334.2L1584.9 330.5L1580.8 326.8L1576.7 323.2L1572.5 319.6L1568.3 316.0L1564.1 312.4L1559.9 308.9L1555.6 305.5L1551.3 302.0L1547.0 298.6L1542.6 295.3L1538.2 292.0L1533.8 288.7L1529.3 285.4L1524.8 282.2L1520.3 279.1L1515.8 276.0L1511.2 272.9L1506.6 269.8L1502.0 266.8L1497.4 263.9L1492.7 261.0L1488.0 258.1L1483.3 255.2L1478.5 252.4L1473.8 249.7L1469.0 247.0L1464.2 244.3L1459.3 241.7L1454.5 239.1L1449.6 236.6L1444.7 234.1L1439.7 231.6L1434.8 229.2L1429.8 226.8L1424.8 224.5L1419.8 222.2L1414.8 220.0L1409.7 217.8L1404.6 215.6L1399.6 213.5L1394.4 211.5L1389.3 209.5L1384.2 207.5L1379.0 205.6L1373.8 203.7L1368.7 201.9L1363.4 200.1L1358.2 198.4L1353.0 196.7L1347.7 195.0L1342.5 193.4L1337.2 191.9L1331.9 190.3L1326.6 188.9L1321.2 187.5L1315.9 186.1L1310.6 184.8L1305.2 183.5L1299.8 182.3L1294.5 181.1L1289.1 180.0L1283.7 178.9L1278.3 177.8L1272.9 176.9L1267.4 175.9L1262.0 175.0L1256.6 174.2L1251.1 173.4L1245.7 172.6L1240.2 171.9L1234.7 171.3L1229.3 170.7L1223.8 170.1L1218.3 169.6L1212.8 169.1L1207.3 168.7L1201.8 168.3L1196.3 168.0L1190.8 167.8L1185.3 167.5L1179.8 167.4L1174.3 167.2L1168.8 167.2L1163.3 167.1" fill="none" stroke="#EB9BA6" stroke-width="7" stroke-linejoin="round"/><path d="M1791.3 795.7L1791.3 790.2L1791.2 784.7L1791.1 779.1L1790.9 773.6L1790.7 768.1L1790.4 762.6L1790.1 757.1L1789.8 751.6L1789.4 746.1L1788.9 740.6L1788.4 735.1L1787.9 729.6L1787.3 724.1L1786.6 718.6L1785.9 713.1L1785.2 707.7L1784.4 702.2L1783.5 696.7L1782.7 691.3L1781.7 685.8L1780.7 680.4L1779.7 675.0L1778.6 669.6L1777.5 664.2L1776.3 658.8L1775.1 653.4L1773.8 648.0L1772.5 642.7L1771.2 637.3L1769.8 632.0L1768.3 626.6L1766.8 621.3L1765.3 616.0L1763.7 610.7L1762.0 605.5L1760.3 600.2L1758.6 595.0L1756.8 589.8L1755.0 584.5L1753.1 579.3L1751.2 574.2L1749.3 569.0L1747.3 563.9L1745.2 558.7L1743.1 553.6L1741.0 548.5L1738.8 543.5L1736.6 538.4L1734.3 533.4L1732.0 528.4L1729.6 523.4L1727.2 518.4L1724.8 513.5L1722.3 508.6L1719.7 503.6L1717.1 498.8L1714.5 493.9L1711.9 489.1L1709.2 484.3L1706.4 479.5L1703.6 474.7L1700.8 470.0L1697.9 465.3L1695.0 460.6L1692.1 455.9L1689.1 451.3L1686.0 446.7L1683.0 442.1L1679.8 437.5L1676.7 433.0L1673.5 428.5L1670.3 424.0L1667.0 419.6L1663.7 415.2L1660.3 410.8L1656.9 406.4L1653.5 402.1L1650.0 397.8L1646.5 393.5L1643.0 389.3L1639.4 385.1L1635.8 380.9L1632.2 376.8L1628.5 372.7L1624.8 368.6L1621.0 364.6L1617.2 360.5L1613.4 356.6L1609.5 352.6L1605.6 348.7L1601.7 344.8L1597.7 341.0L1593.7 337.2L1589.7 333.4L1585.6 329.7L1581.5 326.0L1577.4 322.3L1573.3 318.7L1569.1 315.1L1564.8 311.6L1560.6 308.1L1556.3 304.6L1552.0 301.2L1547.6 297.8L1543.3 294.4L1538.9 291.1L1534.4 287.8L1530.0 284.5L1525.5 281.3L1521.0 278.2L1516.4 275.0L1511.8 272.0L1507.2 268.9L1502.6 265.9L1498.0 262.9L1493.3 260.0L1488.6 257.1L1483.8 254.3L1479.1 251.5L1474.3 248.7L1469.5 246.0L1464.7 243.3L1459.8 240.7L1455.0 238.1L1450.1 235.6L1445.2 233.1L1440.2 230.6L1435.3 228.2L1430.3 225.8L1425.3 223.5L1420.3 221.2L1415.2 219.0L1410.2 216.8L1405.1 214.6L1400.0 212.5L1394.9 210.5L1389.7 208.4L1384.6 206.5L1379.4 204.6L1374.2 202.7L1369.0 200.8L1363.8 199.0L1358.6 197.3L1353.3 195.6L1348.0 194.0L1342.8 192.4L1337.5 190.8L1332.2 189.3L1326.9 187.8L1321.5 186.4L1316.2 185.0L1310.8 183.7L1305.5 182.4L1300.1 181.2L1294.7 180.0L1289.3 178.9L1283.9 177.8L1278.5 176.8L1273.0 175.8L1267.6 174.8L1262.2 173.9L1256.7 173.1L1251.3 172.3L1245.8 171.5L1240.3 170.8L1234.9 170.2L1229.4 169.6L1223.9 169.0L1218.4 168.5L1212.9 168.0L1207.4 167.6L1201.9 167.2L1196.4 166.9L1190.9 166.7L1185.4 166.4L1179.8 166.3L1174.3 166.1L1168.8 166.1L1163.3 166.0" fill="none" stroke="#EB9BA6" stroke-width="10" stroke-linecap="round" stroke-dasharray="0 10.4" stroke-dashoffset="0"/><path d="M1789.1 795.7L1789.1 790.2L1789.0 784.7L1788.9 779.2L1788.7 773.7L1788.5 768.2L1788.3 762.7L1787.9 757.2L1787.6 751.7L1787.2 746.2L1786.7 740.8L1786.2 735.3L1785.7 729.8L1785.1 724.3L1784.4 718.9L1783.7 713.4L1783.0 708.0L1782.2 702.5L1781.4 697.1L1780.5 691.7L1779.6 686.2L1778.6 680.8L1777.5 675.4L1776.5 670.0L1775.4 664.6L1774.2 659.3L1773.0 653.9L1771.7 648.5L1770.4 643.2L1769.0 637.9L1767.6 632.5L1766.2 627.2L1764.7 621.9L1763.1 616.7L1761.6 611.4L1759.9 606.1L1758.2 600.9L1756.5 595.7L1754.7 590.5L1752.9 585.3L1751.1 580.1L1749.2 574.9L1747.2 569.8L1745.2 564.7L1743.2 559.6L1741.1 554.5L1738.9 549.4L1736.8 544.4L1734.5 539.3L1732.3 534.3L1730.0 529.3L1727.6 524.3L1725.2 519.4L1722.8 514.5L1720.3 509.6L1717.8 504.7L1715.2 499.8L1712.6 495.0L1709.9 490.1L1707.3 485.4L1704.5 480.6L1701.7 475.8L1698.9 471.1L1696.1 466.4L1693.2 461.7L1690.2 457.1L1687.2 452.5L1684.2 447.9L1681.1 443.3L1678.0 438.8L1674.9 434.3L1671.7 429.8L1668.5 425.3L1665.2 420.9L1661.9 416.5L1658.6 412.1L1655.2 407.8L1651.8 403.5L1648.3 399.2L1644.8 394.9L1641.3 390.7L1637.8 386.5L1634.2 382.4L1630.5 378.2L1626.8 374.2L1623.1 370.1L1619.4 366.1L1615.6 362.1L1611.8 358.1L1608.0 354.2L1604.1 350.3L1600.2 346.4L1596.2 342.6L1592.2 338.8L1588.2 335.1L1584.2 331.3L1580.1 327.7L1576.0 324.0L1571.8 320.4L1567.6 316.8L1563.4 313.3L1559.2 309.8L1554.9 306.3L1550.6 302.9L1546.3 299.5L1541.9 296.1L1537.5 292.8L1533.1 289.6L1528.7 286.3L1524.2 283.1L1519.7 280.0L1515.2 276.9L1510.6 273.8L1506.0 270.8L1501.4 267.8L1496.8 264.8L1492.1 261.9L1487.4 259.0L1482.7 256.2L1478.0 253.4L1473.2 250.6L1468.4 247.9L1463.6 245.3L1458.8 242.7L1453.9 240.1L1449.1 237.5L1444.2 235.0L1439.2 232.6L1434.3 230.2L1429.3 227.8L1424.4 225.5L1419.4 223.2L1414.3 221.0L1409.3 218.8L1404.2 216.7L1399.1 214.6L1394.0 212.5L1388.9 210.5L1383.8 208.5L1378.6 206.6L1373.5 204.7L1368.3 202.9L1363.1 201.1L1357.9 199.4L1352.6 197.7L1347.4 196.1L1342.1 194.5L1336.9 192.9L1331.6 191.4L1326.3 190.0L1321.0 188.5L1315.6 187.2L1310.3 185.9L1305.0 184.6L1299.6 183.4L1294.2 182.2L1288.9 181.0L1283.5 180.0L1278.1 178.9L1272.7 177.9L1267.2 177.0L1261.8 176.1L1256.4 175.3L1251.0 174.5L1245.5 173.7L1240.1 173.0L1234.6 172.4L1229.1 171.8L1223.7 171.2L1218.2 170.7L1212.7 170.2L1207.2 169.8L1201.8 169.4L1196.3 169.1L1190.8 168.9L1185.3 168.6L1179.8 168.5L1174.3 168.3L1168.8 168.3L1163.3 168.2" fill="none" stroke="#EB9BA6" stroke-width="10" stroke-linecap="round" stroke-dasharray="0 10.4" stroke-dashoffset="5.2"/>
<path d="M1826.7 795.7L1826.7 789.9L1826.6 784.0L1826.5 778.2L1826.3 772.4L1826.1 766.5L1825.9 760.7L1825.5 754.9L1825.2 749.1L1824.8 743.3L1824.3 737.4L1823.8 731.6L1823.2 725.8L1822.6 720.0L1821.9 714.2L1821.2 708.5L1820.4 702.7L1819.6 696.9L1818.7 691.1L1817.8 685.4L1816.8 679.6L1815.8 673.9L1814.7 668.1L1813.5 662.4L1812.4 656.7L1811.1 651.0L1809.9 645.3L1808.5 639.6L1807.2 634.0L1805.7 628.3L1804.2 622.7L1802.7 617.0L1801.1 611.4L1799.5 605.8L1797.8 600.2L1796.1 594.6L1794.3 589.1L1792.5 583.5L1790.7 578.0L1788.7 572.5L1786.8 567.0L1784.8 561.5L1782.7 556.1L1780.6 550.6L1778.4 545.2L1776.2 539.8L1774.0 534.4L1771.7 529.1L1769.3 523.7L1766.9 518.4L1764.5 513.1L1762.0 507.8L1759.5 502.6L1756.9 497.3L1754.3 492.1L1751.6 486.9L1748.9 481.8L1746.1 476.6L1743.3 471.5L1740.5 466.4L1737.6 461.3L1734.6 456.3L1731.7 451.3L1728.6 446.3L1725.6 441.3L1722.4 436.4L1719.3 431.5L1716.1 426.6L1712.8 421.7L1709.6 416.9L1706.2 412.1L1702.9 407.4L1699.4 402.6L1696.0 397.9L1692.5 393.2L1689.0 388.6L1685.4 384.0L1681.8 379.4L1678.1 374.8L1674.4 370.3L1670.7 365.8L1666.9 361.4L1663.1 357.0L1659.2 352.6L1655.3 348.2L1651.4 343.9L1647.5 339.6L1643.4 335.4L1639.4 331.2L1635.3 327.0L1631.2 322.9L1627.1 318.8L1622.9 314.7L1618.7 310.7L1614.4 306.7L1610.1 302.7L1605.8 298.8L1601.4 294.9L1597.0 291.1L1592.6 287.3L1588.1 283.5L1583.6 279.8L1579.1 276.1L1574.6 272.4L1570.0 268.8L1565.3 265.3L1560.7 261.7L1556.0 258.3L1551.3 254.8L1546.5 251.4L1541.8 248.0L1537.0 244.7L1532.1 241.5L1527.3 238.2L1522.4 235.0L1517.5 231.9L1512.5 228.8L1507.5 225.7L1502.5 222.7L1497.5 219.7L1492.5 216.8L1487.4 213.9L1482.3 211.1L1477.2 208.3L1472.0 205.5L1466.8 202.8L1461.6 200.2L1456.4 197.6L1451.2 195.0L1445.9 192.5L1440.6 190.0L1435.3 187.6L1430.0 185.2L1424.6 182.9L1419.2 180.6L1413.8 178.3L1408.4 176.2L1403.0 174.0L1397.5 171.9L1392.1 169.9L1386.6 167.9L1381.1 165.9L1375.6 164.0L1370.0 162.2L1364.5 160.4L1358.9 158.6L1353.3 156.9L1347.7 155.2L1342.1 153.6L1336.5 152.1L1330.8 150.5L1325.2 149.1L1319.5 147.7L1313.8 146.3L1308.1 145.0L1302.4 143.7L1296.7 142.5L1291.0 141.4L1285.3 140.3L1279.5 139.2L1273.8 138.2L1268.0 137.2L1262.2 136.3L1256.5 135.5L1250.7 134.6L1244.9 133.9L1239.1 133.2L1233.3 132.5L1227.5 131.9L1221.6 131.4L1215.8 130.9L1210.0 130.4L1204.2 130.0L1198.3 129.7L1192.5 129.4L1186.7 129.1L1180.8 128.9L1175.0 128.8L1169.1 128.7L1163.3 128.7" fill="none" stroke="#EB9BA6" stroke-width="7" stroke-linejoin="round"/><path d="M1827.8 795.7L1827.8 789.9L1827.7 784.0L1827.6 778.2L1827.4 772.3L1827.2 766.5L1827.0 760.7L1826.6 754.8L1826.3 749.0L1825.9 743.2L1825.4 737.4L1824.9 731.5L1824.3 725.7L1823.7 719.9L1823.0 714.1L1822.3 708.3L1821.5 702.5L1820.7 696.7L1819.8 691.0L1818.8 685.2L1817.9 679.4L1816.8 673.7L1815.8 667.9L1814.6 662.2L1813.4 656.5L1812.2 650.8L1810.9 645.1L1809.6 639.4L1808.2 633.7L1806.8 628.0L1805.3 622.4L1803.8 616.7L1802.2 611.1L1800.6 605.5L1798.9 599.9L1797.2 594.3L1795.4 588.7L1793.6 583.2L1791.7 577.7L1789.8 572.1L1787.8 566.6L1785.8 561.1L1783.7 555.7L1781.6 550.2L1779.4 544.8L1777.2 539.4L1775.0 534.0L1772.7 528.6L1770.3 523.3L1767.9 517.9L1765.5 512.6L1763.0 507.3L1760.5 502.1L1757.9 496.8L1755.2 491.6L1752.6 486.4L1749.9 481.2L1747.1 476.1L1744.3 471.0L1741.4 465.9L1738.5 460.8L1735.6 455.7L1732.6 450.7L1729.6 445.7L1726.5 440.7L1723.4 435.8L1720.2 430.9L1717.0 426.0L1713.7 421.1L1710.5 416.3L1707.1 411.5L1703.7 406.7L1700.3 402.0L1696.9 397.3L1693.4 392.6L1689.8 387.9L1686.2 383.3L1682.6 378.7L1679.0 374.2L1675.3 369.6L1671.5 365.1L1667.7 360.7L1663.9 356.2L1660.1 351.9L1656.2 347.5L1652.2 343.2L1648.3 338.9L1644.2 334.6L1640.2 330.4L1636.1 326.2L1632.0 322.1L1627.8 318.0L1623.6 313.9L1619.4 309.8L1615.1 305.8L1610.8 301.9L1606.5 298.0L1602.1 294.1L1597.7 290.2L1593.3 286.4L1588.8 282.6L1584.3 278.9L1579.8 275.2L1575.2 271.6L1570.6 268.0L1566.0 264.4L1561.3 260.9L1556.7 257.4L1551.9 253.9L1547.2 250.5L1542.4 247.1L1537.6 243.8L1532.7 240.5L1527.9 237.3L1523.0 234.1L1518.0 231.0L1513.1 227.8L1508.1 224.8L1503.1 221.8L1498.1 218.8L1493.0 215.9L1487.9 213.0L1482.8 210.1L1477.7 207.3L1472.5 204.6L1467.3 201.9L1462.1 199.2L1456.9 196.6L1451.6 194.0L1446.4 191.5L1441.1 189.0L1435.7 186.6L1430.4 184.2L1425.0 181.9L1419.7 179.6L1414.3 177.3L1408.8 175.1L1403.4 173.0L1397.9 170.9L1392.5 168.8L1387.0 166.8L1381.4 164.9L1375.9 163.0L1370.4 161.1L1364.8 159.3L1359.2 157.5L1353.6 155.8L1348.0 154.2L1342.4 152.6L1336.8 151.0L1331.1 149.5L1325.5 148.0L1319.8 146.6L1314.1 145.2L1308.4 143.9L1302.7 142.7L1296.9 141.4L1291.2 140.3L1285.5 139.2L1279.7 138.1L1274.0 137.1L1268.2 136.1L1262.4 135.2L1256.6 134.4L1250.8 133.6L1245.0 132.8L1239.2 132.1L1233.4 131.4L1227.6 130.8L1221.7 130.3L1215.9 129.8L1210.1 129.3L1204.2 128.9L1198.4 128.6L1192.6 128.3L1186.7 128.0L1180.9 127.8L1175.0 127.7L1169.2 127.6L1163.3 127.6" fill="none" stroke="#EB9BA6" stroke-width="10" stroke-linecap="round" stroke-dasharray="0 10.4" stroke-dashoffset="0"/><path d="M1825.6 795.7L1825.6 789.9L1825.5 784.1L1825.4 778.2L1825.2 772.4L1825.0 766.6L1824.8 760.8L1824.4 755.0L1824.1 749.2L1823.7 743.3L1823.2 737.5L1822.7 731.7L1822.1 725.9L1821.5 720.2L1820.8 714.4L1820.1 708.6L1819.3 702.8L1818.5 697.1L1817.6 691.3L1816.7 685.6L1815.7 679.8L1814.7 674.1L1813.6 668.4L1812.5 662.6L1811.3 656.9L1810.1 651.2L1808.8 645.6L1807.5 639.9L1806.1 634.2L1804.7 628.6L1803.2 622.9L1801.7 617.3L1800.1 611.7L1798.5 606.1L1796.8 600.5L1795.1 595.0L1793.3 589.4L1791.5 583.9L1789.6 578.4L1787.7 572.9L1785.7 567.4L1783.7 561.9L1781.7 556.5L1779.6 551.0L1777.4 545.6L1775.2 540.2L1773.0 534.9L1770.7 529.5L1768.3 524.2L1765.9 518.9L1763.5 513.6L1761.0 508.3L1758.5 503.0L1755.9 497.8L1753.3 492.6L1750.6 487.4L1747.9 482.3L1745.2 477.1L1742.4 472.0L1739.5 466.9L1736.6 461.9L1733.7 456.9L1730.7 451.8L1727.7 446.9L1724.6 441.9L1721.5 437.0L1718.4 432.1L1715.2 427.2L1711.9 422.4L1708.6 417.5L1705.3 412.8L1702.0 408.0L1698.6 403.3L1695.1 398.6L1691.6 393.9L1688.1 389.3L1684.5 384.7L1680.9 380.1L1677.3 375.5L1673.6 371.0L1669.8 366.6L1666.1 362.1L1662.3 357.7L1658.4 353.3L1654.5 349.0L1650.6 344.7L1646.7 340.4L1642.7 336.1L1638.6 331.9L1634.5 327.8L1630.4 323.6L1626.3 319.5L1622.1 315.5L1617.9 311.5L1613.7 307.5L1609.4 303.5L1605.0 299.6L1600.7 295.7L1596.3 291.9L1591.9 288.1L1587.4 284.3L1582.9 280.6L1578.4 276.9L1573.9 273.3L1569.3 269.7L1564.7 266.1L1560.0 262.6L1555.4 259.1L1550.6 255.7L1545.9 252.3L1541.1 249.0L1536.3 245.6L1531.5 242.4L1526.7 239.1L1521.8 236.0L1516.9 232.8L1511.9 229.7L1507.0 226.7L1502.0 223.7L1497.0 220.7L1491.9 217.8L1486.8 214.9L1481.8 212.1L1476.6 209.3L1471.5 206.5L1466.3 203.8L1461.1 201.2L1455.9 198.6L1450.7 196.0L1445.4 193.5L1440.1 191.0L1434.8 188.6L1429.5 186.2L1424.2 183.9L1418.8 181.6L1413.4 179.4L1408.0 177.2L1402.6 175.0L1397.2 172.9L1391.7 170.9L1386.2 168.9L1380.7 167.0L1375.2 165.1L1369.7 163.2L1364.1 161.4L1358.6 159.6L1353.0 157.9L1347.4 156.3L1341.8 154.7L1336.2 153.1L1330.6 151.6L1324.9 150.2L1319.3 148.7L1313.6 147.4L1307.9 146.1L1302.2 144.8L1296.5 143.6L1290.8 142.4L1285.1 141.3L1279.3 140.3L1273.6 139.3L1267.8 138.3L1262.1 137.4L1256.3 136.5L1250.5 135.7L1244.7 135.0L1239.0 134.3L1233.2 133.6L1227.4 133.0L1221.6 132.5L1215.7 132.0L1209.9 131.5L1204.1 131.1L1198.3 130.8L1192.5 130.5L1186.6 130.2L1180.8 130.0L1175.0 129.9L1169.1 129.8L1163.3 129.8" fill="none" stroke="#EB9BA6" stroke-width="10" stroke-linecap="round" stroke-dasharray="0 10.4" stroke-dashoffset="5.2"/>
<path d="M1674.4 795.7L1674.4 791.2L1674.3 786.7L1674.2 782.2L1674.1 777.7L1673.9 773.2L1673.7 768.8L1673.4 764.3L1673.1 759.8L1672.8 755.3L1672.4 750.8L1672.0 746.4L1671.5 741.9L1671.1 737.4L1670.5 733.0L1670.0 728.5L1669.3 724.1L1668.7 719.6L1668.0 715.2L1667.3 710.7L1666.5 706.3L1665.7 701.9L1664.9 697.5L1664.0 693.1L1663.1 688.7L1662.1 684.3L1661.1 679.9L1660.1 675.5L1659.0 671.2L1657.9 666.8L1656.7 662.5L1655.6 658.2L1654.3 653.8L1653.1 649.5L1651.8 645.2L1650.4 640.9L1649.0 636.7L1647.6 632.4L1646.2 628.1L1644.7 623.9L1643.2 619.7L1641.6 615.5L1640.0 611.3L1638.4 607.1L1636.7 602.9L1635.0 598.8L1633.3 594.6L1631.5 590.5L1629.7 586.4L1627.8 582.3L1625.9 578.2L1624.0 574.2L1622.0 570.1L1620.0 566.1L1618.0 562.1L1615.9 558.1L1613.8 554.2L1611.7 550.2L1609.5 546.3L1607.3 542.4L1605.1 538.5L1602.8 534.6L1600.5 530.8L1598.1 526.9L1595.7 523.1L1593.3 519.4L1590.9 515.6L1588.4 511.9L1585.9 508.1L1583.3 504.4L1580.7 500.8L1578.1 497.1L1575.5 493.5L1572.8 489.9L1570.1 486.3L1567.4 482.8L1564.6 479.2L1561.8 475.7L1559.0 472.3L1556.1 468.8L1553.2 465.4L1550.3 462.0L1547.3 458.6L1544.4 455.2L1541.3 451.9L1538.3 448.6L1535.2 445.3L1532.1 442.1L1529.0 438.9L1525.9 435.7L1522.7 432.5L1519.5 429.4L1516.2 426.3L1513.0 423.2L1509.7 420.2L1506.4 417.2L1503.0 414.2L1499.7 411.2L1496.3 408.3L1492.9 405.4L1489.4 402.5L1486.0 399.7L1482.5 396.9L1478.9 394.1L1475.4 391.3L1471.8 388.6L1468.3 385.9L1464.6 383.3L1461.0 380.7L1457.3 378.1L1453.7 375.5L1450.0 373.0L1446.2 370.5L1442.5 368.1L1438.7 365.6L1434.9 363.2L1431.1 360.9L1427.3 358.6L1423.5 356.3L1419.6 354.0L1415.7 351.8L1411.8 349.6L1407.9 347.5L1403.9 345.3L1400.0 343.3L1396.0 341.2L1392.0 339.2L1388.0 337.2L1383.9 335.3L1379.9 333.4L1375.8 331.5L1371.8 329.7L1367.7 327.9L1363.5 326.1L1359.4 324.4L1355.3 322.7L1351.1 321.0L1346.9 319.4L1342.8 317.8L1338.6 316.3L1334.3 314.8L1330.1 313.3L1325.9 311.9L1321.6 310.5L1317.4 309.1L1313.1 307.8L1308.8 306.5L1304.5 305.3L1300.2 304.1L1295.9 302.9L1291.6 301.7L1287.2 300.6L1282.9 299.5L1278.6 298.5L1274.2 297.4L1269.9 296.4L1265.5 295.5L1261.1 294.5L1256.7 293.6L1252.3 292.8L1248.0 291.8L1243.6 290.7L1239.3 289.4L1234.9 287.9L1230.6 286.4L1226.3 284.8L1221.9 283.2L1217.6 281.6L1213.2 279.9L1208.8 278.2L1204.3 276.5L1199.9 274.8L1195.4 273.3L1190.9 271.8L1186.3 270.5L1181.8 269.3L1177.2 268.3L1172.6 267.2L1167.9 266.4L1163.3 265.9" fill="none" stroke="#EB9BA6" stroke-width="7" stroke-linejoin="round"/><path d="M1675.5 795.7L1675.5 791.2L1675.4 786.7L1675.3 782.2L1675.2 777.7L1675.0 773.2L1674.8 768.7L1674.5 764.2L1674.2 759.7L1673.9 755.2L1673.5 750.7L1673.1 746.3L1672.6 741.8L1672.1 737.3L1671.6 732.8L1671.0 728.4L1670.4 723.9L1669.8 719.4L1669.1 715.0L1668.4 710.6L1667.6 706.1L1666.8 701.7L1665.9 697.3L1665.1 692.9L1664.1 688.4L1663.2 684.0L1662.2 679.7L1661.1 675.3L1660.1 670.9L1659.0 666.5L1657.8 662.2L1656.6 657.9L1655.4 653.5L1654.1 649.2L1652.8 644.9L1651.5 640.6L1650.1 636.3L1648.7 632.0L1647.2 627.8L1645.7 623.5L1644.2 619.3L1642.6 615.1L1641.0 610.9L1639.4 606.7L1637.7 602.5L1636.0 598.3L1634.3 594.2L1632.5 590.1L1630.7 586.0L1628.8 581.9L1626.9 577.8L1625.0 573.7L1623.0 569.7L1621.0 565.6L1619.0 561.6L1616.9 557.6L1614.8 553.6L1612.7 549.7L1610.5 545.7L1608.3 541.8L1606.0 537.9L1603.7 534.0L1601.4 530.2L1599.1 526.4L1596.7 522.5L1594.3 518.8L1591.8 515.0L1589.3 511.2L1586.8 507.5L1584.2 503.8L1581.6 500.1L1579.0 496.5L1576.4 492.9L1573.7 489.2L1571.0 485.7L1568.2 482.1L1565.5 478.6L1562.6 475.0L1559.8 471.6L1556.9 468.1L1554.0 464.7L1551.1 461.2L1548.2 457.9L1545.2 454.5L1542.2 451.2L1539.1 447.9L1536.0 444.6L1532.9 441.3L1529.8 438.1L1526.6 434.9L1523.5 431.7L1520.2 428.6L1517.0 425.5L1513.7 422.4L1510.4 419.4L1507.1 416.3L1503.8 413.3L1500.4 410.4L1497.0 407.4L1493.6 404.5L1490.1 401.7L1486.6 398.8L1483.1 396.0L1479.6 393.2L1476.1 390.5L1472.5 387.7L1468.9 385.1L1465.3 382.4L1461.6 379.8L1458.0 377.2L1454.3 374.6L1450.6 372.1L1446.9 369.6L1443.1 367.1L1439.3 364.7L1435.5 362.3L1431.7 360.0L1427.9 357.6L1424.0 355.3L1420.1 353.1L1416.3 350.8L1412.3 348.6L1408.4 346.5L1404.5 344.4L1400.5 342.3L1396.5 340.2L1392.5 338.2L1388.5 336.2L1384.4 334.3L1380.4 332.4L1376.3 330.5L1372.2 328.6L1368.1 326.8L1364.0 325.1L1359.8 323.3L1355.7 321.7L1351.5 320.0L1347.3 318.4L1343.1 316.8L1338.9 315.2L1334.7 313.7L1330.5 312.3L1326.2 310.8L1322.0 309.4L1317.7 308.1L1313.4 306.7L1309.1 305.5L1304.8 304.2L1300.5 303.0L1296.2 301.8L1291.9 300.7L1287.5 299.6L1283.2 298.5L1278.8 297.4L1274.5 296.4L1270.1 295.3L1265.7 294.4L1261.3 293.4L1256.9 292.6L1252.5 291.7L1248.1 290.7L1243.8 289.6L1239.4 288.3L1235.1 286.9L1230.8 285.3L1226.4 283.7L1222.0 282.1L1217.7 280.5L1213.3 278.8L1208.8 277.1L1204.4 275.4L1199.9 273.7L1195.4 272.2L1190.9 270.7L1186.4 269.4L1181.8 268.2L1177.2 267.2L1172.6 266.1L1167.9 265.3L1163.3 264.8" fill="none" stroke="#EB9BA6" stroke-width="10" stroke-linecap="round" stroke-dasharray="0 10.4" stroke-dashoffset="0"/><path d="M1673.3 795.7L1673.3 791.2L1673.2 786.7L1673.1 782.3L1673.0 777.8L1672.8 773.3L1672.6 768.8L1672.3 764.3L1672.0 759.9L1671.7 755.4L1671.3 750.9L1670.9 746.5L1670.5 742.0L1670.0 737.5L1669.4 733.1L1668.9 728.7L1668.3 724.2L1667.6 719.8L1666.9 715.3L1666.2 710.9L1665.4 706.5L1664.6 702.1L1663.8 697.7L1662.9 693.3L1662.0 688.9L1661.0 684.5L1660.0 680.2L1659.0 675.8L1657.9 671.4L1656.8 667.1L1655.7 662.8L1654.5 658.4L1653.3 654.1L1652.0 649.8L1650.7 645.5L1649.4 641.3L1648.0 637.0L1646.6 632.7L1645.1 628.5L1643.7 624.3L1642.1 620.1L1640.6 615.9L1639.0 611.7L1637.4 607.5L1635.7 603.3L1634.0 599.2L1632.2 595.1L1630.5 591.0L1628.6 586.9L1626.8 582.8L1624.9 578.7L1623.0 574.7L1621.0 570.6L1619.0 566.6L1617.0 562.6L1615.0 558.6L1612.9 554.7L1610.7 550.7L1608.6 546.8L1606.4 542.9L1604.1 539.0L1601.9 535.2L1599.5 531.3L1597.2 527.5L1594.8 523.7L1592.4 519.9L1590.0 516.2L1587.5 512.5L1585.0 508.8L1582.4 505.1L1579.8 501.4L1577.2 497.8L1574.6 494.2L1571.9 490.6L1569.2 487.0L1566.5 483.4L1563.7 479.9L1560.9 476.4L1558.1 473.0L1555.3 469.5L1552.4 466.1L1549.4 462.7L1546.5 459.3L1543.5 456.0L1540.5 452.7L1537.5 449.4L1534.4 446.1L1531.3 442.9L1528.2 439.7L1525.1 436.5L1521.9 433.3L1518.7 430.2L1515.5 427.1L1512.2 424.0L1508.9 421.0L1505.6 418.0L1502.3 415.0L1498.9 412.0L1495.6 409.1L1492.2 406.2L1488.7 403.4L1485.3 400.5L1481.8 397.7L1478.3 394.9L1474.7 392.2L1471.2 389.5L1467.6 386.8L1464.0 384.2L1460.4 381.6L1456.7 379.0L1453.0 376.4L1449.3 373.9L1445.6 371.4L1441.9 369.0L1438.1 366.6L1434.4 364.2L1430.6 361.8L1426.7 359.5L1422.9 357.2L1419.0 355.0L1415.2 352.8L1411.3 350.6L1407.3 348.4L1403.4 346.3L1399.5 344.2L1395.5 342.2L1391.5 340.2L1387.5 338.2L1383.5 336.3L1379.4 334.4L1375.4 332.5L1371.3 330.7L1367.2 328.9L1363.1 327.1L1359.0 325.4L1354.9 323.7L1350.7 322.0L1346.5 320.4L1342.4 318.8L1338.2 317.3L1334.0 315.8L1329.8 314.3L1325.5 312.9L1321.3 311.5L1317.0 310.2L1312.8 308.8L1308.5 307.6L1304.2 306.3L1299.9 305.1L1295.6 303.9L1291.3 302.8L1287.0 301.7L1282.6 300.6L1278.3 299.5L1274.0 298.5L1269.6 297.5L1265.3 296.5L1260.9 295.6L1256.5 294.7L1252.1 293.9L1247.8 292.9L1243.4 291.8L1239.1 290.5L1234.8 289.0L1230.5 287.4L1226.1 285.9L1221.8 284.3L1217.4 282.7L1213.1 281.0L1208.7 279.3L1204.2 277.6L1199.8 275.9L1195.3 274.4L1190.8 272.9L1186.3 271.6L1181.7 270.4L1177.1 269.4L1172.5 268.3L1167.9 267.5L1163.3 267.0" fill="none" stroke="#EB9BA6" stroke-width="10" stroke-linecap="round" stroke-dasharray="0 10.4" stroke-dashoffset="5.2"/>
<path d="M1537.6 795.7L1537.6 793.5L1537.6 791.3L1537.5 789.1L1537.5 786.9L1537.4 784.7L1537.4 782.5L1537.3 780.3L1537.2 778.1L1537.1 775.9L1537.0 773.7L1536.8 771.5L1536.7 769.3L1536.5 767.1L1536.3 764.9L1536.1 762.7L1535.9 760.5L1535.7 758.3L1535.5 756.1L1535.3 753.9L1535.0 751.7L1534.8 749.5L1534.5 747.4L1534.2 745.2L1534.0 743.0L1533.8 740.8L1533.6 738.6L1533.4 736.4L1533.3 734.2L1533.1 732.0L1532.9 729.8L1532.6 727.6L1532.4 725.3L1532.1 723.1L1531.9 720.9L1531.6 718.7L1531.3 716.5L1531.0 714.3L1530.7 712.1L1530.4 709.9L1530.0 707.7L1529.7 705.5L1529.3 703.3L1528.9 701.1L1528.5 698.9L1528.1 696.7L1527.7 694.6L1527.3 692.4L1526.8 690.2L1526.3 688.0L1525.8 685.8L1525.2 683.7L1524.6 681.5L1524.0 679.4L1523.3 677.3L1522.6 675.2L1521.9 673.0L1521.1 670.9L1520.4 668.8L1519.7 666.7L1518.9 664.6L1518.1 662.5L1517.3 660.5L1516.5 658.4L1515.7 656.3L1514.9 654.2L1514.1 652.2L1513.2 650.1L1512.4 648.0L1511.5 646.0L1510.6 643.9L1509.7 641.9L1508.8 639.9L1507.9 637.8L1506.9 635.8L1506.0 633.8L1505.0 631.8L1504.1 629.8L1503.1 627.8L1502.1 625.8L1501.1 623.8L1500.1 621.8L1499.1 619.8L1498.0 617.8L1497.0 615.9L1495.9 613.9L1494.8 612.0L1493.8 610.0L1492.7 608.1L1491.6 606.1L1490.4 604.2L1489.3 602.3L1488.2 600.4L1487.0 598.5L1485.9 596.6L1484.7 594.7L1483.5 592.8L1482.3 590.9L1481.1 589.0L1479.9 587.1L1478.6 585.3L1477.4 583.4L1476.2 581.6L1474.9 579.8L1473.6 577.9L1472.3 576.1L1471.0 574.3L1469.7 572.5L1468.4 570.7L1467.1 568.9L1465.8 567.1L1464.4 565.3L1463.1 563.6L1461.7 561.8L1460.3 560.0L1458.9 558.3L1457.5 556.6L1456.1 554.8L1454.8 553.1L1453.4 551.3L1452.2 549.4L1450.9 547.6L1449.9 545.5L1449.1 543.2L1448.6 540.6L1448.4 537.8L1448.3 534.8L1447.9 532.1L1447.2 529.6L1446.3 527.4L1445.0 525.4L1443.5 523.7L1441.9 522.0L1440.4 520.3L1438.9 518.5L1437.3 516.8L1435.8 515.2L1434.2 513.5L1432.6 511.8L1431.0 510.1L1429.8 508.1L1429.0 505.5L1428.6 502.5L1428.6 499.1L1428.8 495.3L1428.5 492.0L1427.8 489.2L1426.7 486.9L1425.1 485.0L1423.3 483.5L1421.5 481.9L1419.7 480.4L1417.8 478.8L1416.0 477.3L1414.2 475.8L1412.3 474.3L1410.4 472.8L1408.5 471.4L1406.7 469.9L1404.8 468.3L1403.2 466.6L1401.6 464.7L1400.1 462.6L1398.8 460.3L1397.5 457.9L1396.3 455.5L1395.2 452.8L1394.2 449.9L1393.3 446.9L1392.4 443.6L1391.7 440.3L1390.7 437.2L1389.5 434.3L1388.1 431.8L1386.5 429.6L1384.7 427.7L1382.9 425.9L1381.0 424.1L1379.1 422.4L1377.2 420.6L1375.3 418.8L1373.4 417.1L1371.4 415.3L1369.4 413.6L1367.5 411.9L1365.4 410.3L1363.4 408.7L1361.3 407.1L1359.2 405.5L1357.1 404.0L1355.0 402.4L1352.9 400.9L1350.8 399.4L1348.6 397.9L1346.5 396.5L1344.3 395.1L1342.0 393.7L1339.8 392.4L1337.6 391.1L1335.3 389.9L1333.2 360.9L1326.5 358.5L1319.9 356.1L1313.3 353.5L1306.8 350.6L1300.4 347.5L1294.0 344.0L1287.6 340.3L1281.2 336.7L1274.7 332.9L1268.1 329.2L1261.6 325.3L1255.0 321.1L1248.3 316.6L1241.7 311.7L1234.9 306.7L1228.0 301.4L1221.0 296.3L1213.9 291.5L1206.5 287.6L1199.0 284.7L1213.0 300.9L1213.0 313.0L1215.0 341.2L1204.9 347.3L1194.8 361.4L1195.8 401.7L1196.8 442.1L1190.8 462.2L1191.8 502.6L1190.8 542.9L1195.9 546.1L1196.4 556.2L1190.3 561.2L1202.4 566.2L1215.6 571.3L1220.6 581.4L1238.8 600.0L1201.4 564.5L1213.5 575.1L1222.6 587.2L1225.6 609.9L1228.7 632.6L1213.5 653.8L1199.9 662.9L1187.8 675.0L1177.2 681.0L1163.3 681.0L1163.3 794.9Z" fill="#EB9BA6"/>
<path d="M1547.8 795.7L1547.8 791.9L1547.7 788.1L1547.6 784.4L1547.5 780.6L1547.3 776.8L1547.1 773.1L1546.9 769.3L1546.6 765.5L1546.3 761.8L1546.0 758.0L1545.6 754.2L1545.1 750.5L1544.7 746.7L1544.2 743.0L1543.6 739.3L1543.1 735.5L1542.5 731.8L1541.8 728.1L1541.1 724.4L1540.4 720.7L1539.7 717.0L1538.9 713.3L1538.1 709.6L1537.2 705.9L1536.3 702.2L1535.4 698.6L1534.4 694.9L1533.4 691.3L1532.4 687.7L1531.3 684.0L1530.2 680.4L1529.0 676.8L1527.8 673.2L1526.6 669.7L1525.4 666.1L1524.1 662.6L1522.8 659.0L1521.4 655.5L1520.0 652.0L1518.6 648.5L1517.1 645.0L1515.7 641.5L1514.1 638.1L1512.6 634.6L1511.0 631.2L1509.3 627.8L1507.7 624.4L1506.0 621.0L1504.3 617.7L1502.5 614.3L1500.7 611.0L1498.9 607.7L1497.0 604.4L1495.1 601.2L1493.2 597.9L1491.3 594.7L1489.3 591.5L1487.3 588.3L1485.2 585.1L1483.2 582.0L1481.0 578.8L1478.9 575.7L1476.7 572.6L1474.5 569.6L1472.3 566.5L1470.1 563.5L1467.8 560.5L1465.5 557.5L1463.1 554.5L1460.7 551.6L1458.3 548.7L1455.9 545.8L1453.4 543.0L1450.9 540.1L1448.4 537.3L1445.9 534.5L1443.3 531.8L1440.7 529.0L1438.1 526.3L1435.4 523.6L1432.8 521.0L1430.1 518.3L1427.3 515.7L1424.6 513.1L1421.8 510.6L1419.0 508.1L1416.2 505.6L1413.3 503.1L1410.5 500.7" fill="none" stroke="#EB9BA6" stroke-width="10.6" stroke-linejoin="round"/>
<path d="M1563.6 795.7L1563.6 791.3L1563.5 786.9L1563.4 782.5L1563.2 778.1L1563.0 773.7L1562.7 769.3L1562.4 764.9L1562.1 760.5L1561.6 756.1L1561.2 751.8L1560.7 747.4L1560.1 743.0L1559.5 738.6L1558.9 734.3L1558.2 729.9L1557.4 725.6L1556.6 721.3L1555.8 717.0L1554.9 712.6L1554.0 708.3L1553.0 704.0L1552.0 699.8L1550.9 695.5L1549.8 691.2L1548.6 687.0L1547.4 682.8L1546.1 678.5L1544.8 674.3L1543.5 670.1L1542.1 666.0L1540.6 661.8L1539.1 657.7L1537.6 653.5L1536.0 649.4L1534.4 645.3L1532.7 641.3L1531.0 637.2L1529.2 633.2L1527.4 629.2L1525.6 625.2L1523.7 621.2L1521.8 617.2L1519.8 613.3L1517.8 609.4L1515.7 605.5L1513.6 601.6L1511.5 597.8L1509.3 594.0L1507.0 590.2L1504.8 586.4L1502.4 582.7L1500.1 579.0L1497.7 575.3L1495.3 571.6L1492.8 568.0L1490.3 564.4L1487.7 560.8L1485.1 557.2L1482.5 553.7L1479.8 550.2L1477.1 546.7L1474.3 543.3L1471.6 539.9L1468.7 536.5L1465.9 533.2L1463.0 529.9L1460.0 526.6L1457.1 523.3L1454.1 520.1L1451.0 516.9L1448.0 513.8L1444.9 510.7L1441.7 507.6L1438.5 504.5L1435.3 501.5L1432.1 498.6L1428.8 495.6L1425.5 492.7L1422.2 489.8L1418.8 487.0L1415.4 484.2L1412.0 481.5L1408.5 478.8L1405.0 476.1L1401.5 473.4L1398.0 470.8L1394.4 468.3L1390.8 465.8L1387.1 463.3" fill="none" stroke="#EB9BA6" stroke-width="11.8" stroke-linejoin="round"/>
<path d="M1581.0 795.7L1581.0 790.8L1580.9 785.9L1580.7 780.9L1580.5 776.0L1580.3 771.1L1580.0 766.2L1579.6 761.3L1579.2 756.4L1578.7 751.5L1578.1 746.6L1577.5 741.7L1576.8 736.8L1576.1 731.9L1575.3 727.1L1574.5 722.2L1573.6 717.4L1572.7 712.6L1571.7 707.7L1570.6 702.9L1569.5 698.1L1568.3 693.4L1567.1 688.6L1565.8 683.8L1564.5 679.1L1563.1 674.4L1561.6 669.7L1560.1 665.0L1558.5 660.3L1556.9 655.7L1555.2 651.1L1553.5 646.4L1551.7 641.9L1549.9 637.3L1548.0 632.7L1546.1 628.2L1544.1 623.7L1542.0 619.2L1539.9 614.8L1537.8 610.4L1535.6 606.0L1533.3 601.6L1531.0 597.2L1528.7 592.9L1526.3 588.6L1523.8 584.4L1521.3 580.1L1518.7 575.9L1516.1 571.8L1513.5 567.6L1510.8 563.5L1508.1 559.4L1505.3 555.3L1502.6 551.2L1499.8 547.2L1497.0 543.1L1494.1 539.1L1491.2 535.1L1488.3 531.1L1485.3 527.2L1482.2 523.3L1479.2 519.5L1476.0 515.6L1472.8 511.9L1469.6 508.1L1466.3 504.4L1463.0 500.7L1459.7 497.1L1456.3 493.5L1452.8 489.9L1449.3 486.4L1445.9 482.8L1442.4 479.3L1438.8 475.8L1435.3 472.3L1431.7 468.8L1428.1 465.3L1424.5 461.9L1420.8 458.6L1417.0 455.3L1413.2 452.0L1409.4 448.7L1405.5 445.6L1401.5 442.6L1397.4 439.7L1393.3 436.9L1389.0 434.2L1384.8 431.5L1380.5 428.9L1376.2 426.4" fill="none" stroke="#EB9BA6" stroke-width="12" stroke-linejoin="round"/>
<path d="M1603.3 795.7L1603.2 788.6L1603.1 781.5L1602.8 774.4L1602.4 767.4L1601.9 760.3L1601.3 753.2L1600.5 746.2L1599.7 739.2L1598.7 732.1L1597.6 725.1L1596.4 718.1L1595.1 711.2L1593.7 704.2L1592.2 697.3L1590.6 690.4L1588.8 683.5L1587.0 676.7L1585.0 669.9L1582.9 663.1L1580.7 656.4L1578.4 649.7L1576.1 643.0L1573.5 636.4L1570.9 629.8L1568.2 623.2L1565.4 616.7L1562.5 610.3L1559.4 603.9L1556.3 597.5L1553.1 591.2L1549.8 585.0L1546.4 578.7L1542.9 572.6L1539.4 566.4L1535.7 560.3L1532.1 554.3L1528.3 548.3L1524.4 542.3L1520.4 536.5L1516.3 530.7L1512.1 524.9L1507.8 519.2L1503.5 513.6L1499.0 508.1L1494.5 502.6L1489.8 497.2L1485.1 491.9L1480.3 486.6L1475.4 481.5L1470.4 476.4L1465.4 471.3L1460.2 466.4L1455.0 461.6L1449.7 456.8L1444.3 452.1L1438.8 447.5L1433.3 443.0L1427.7 438.6L1422.0 434.3L1416.2 430.1L1410.4 425.9L1404.5 421.9L1398.5 418.0L1392.5 414.1L1386.4 410.4L1380.2 406.8L1374.0 403.3L1367.7 399.8L1361.4 396.4L1355.1 393.0L1348.8 389.5L1342.6 385.9L1336.4 382.1L1330.2 378.2L1324.0 374.1L1317.8 369.9L1311.6 365.7L1305.3 361.4L1299.0 357.1L1292.6 352.6L1286.1 348.2L1279.6 343.7L1273.0 339.1L1266.3 334.6L1259.5 329.9L1252.6 325.3L1245.6 320.6L1238.4 316.7L1230.9 313.6" fill="none" stroke="#EB9BA6" stroke-width="12.2" stroke-linejoin="round"/>
<path d="M1615.3 795.7L1615.2 788.4L1615.1 781.1L1614.8 773.9L1614.4 766.6L1613.8 759.3L1613.2 752.1L1612.4 744.8L1611.6 737.6L1610.6 730.4L1609.5 723.2L1608.2 716.0L1606.9 708.9L1605.5 701.7L1603.9 694.6L1602.2 687.5L1600.4 680.5L1598.5 673.5L1596.5 666.5L1594.4 659.5L1592.1 652.6L1589.8 645.7L1587.3 638.8L1584.7 632.0L1582.1 625.3L1579.3 618.5L1576.4 611.9L1573.4 605.2L1570.3 598.7L1567.0 592.1L1563.7 585.7L1560.3 579.2L1556.8 572.8L1553.3 566.5L1549.6 560.2L1545.9 553.9L1542.1 547.7L1538.2 541.5L1534.3 535.4L1530.2 529.4L1526.0 523.4L1521.7 517.5L1517.3 511.6L1512.8 505.9L1508.3 500.2L1503.6 494.5L1498.9 489.0L1494.0 483.5L1489.1 478.1L1484.1 472.8L1478.9 467.5L1473.7 462.4L1468.4 457.3L1463.0 452.4L1457.5 447.6L1451.9 442.9L1446.2 438.2L1440.4 433.7L1434.6 429.3L1428.7 424.9L1422.7 420.7L1416.7 416.6L1410.6 412.5L1404.5 408.4L1398.3 404.5L1392.1 400.5L1385.8 396.7L1379.5 392.9L1373.1 389.3L1366.7 385.7L1360.2 382.3L1353.7 378.9L1347.1 375.5L1340.5 372.2L1333.9 368.8L1327.3 365.5L1320.6 362.3L1313.9 358.9L1307.3 355.4L1300.6 351.9L1293.9 348.2L1287.2 344.4L1280.4 340.5L1273.6 336.4L1266.8 332.0L1260.0 327.3L1253.1 322.4L1246.1 317.4L1238.9 313.2L1231.5 309.9" fill="none" stroke="#EB9BA6" stroke-width="12.4" stroke-linejoin="round"/>
<path d="M1629.9 795.7L1629.8 788.6L1629.7 781.5L1629.4 774.4L1629.0 767.4L1628.6 760.3L1628.0 753.2L1627.3 746.2L1626.5 739.1L1625.6 732.1L1624.5 725.1L1623.4 718.1L1622.2 711.1L1620.9 704.2L1619.4 697.2L1617.9 690.3L1616.2 683.4L1614.5 676.6L1612.6 669.7L1610.7 662.9L1608.6 656.1L1606.4 649.4L1604.2 642.7L1601.8 636.0L1599.3 629.4L1596.8 622.8L1594.1 616.2L1591.3 609.7L1588.5 603.2L1585.5 596.8L1582.5 590.4L1579.3 584.0L1576.1 577.7L1572.7 571.5L1569.4 565.2L1566.0 559.0L1562.6 552.8L1559.1 546.6L1555.6 540.4L1551.9 534.3L1548.2 528.3L1544.3 522.3L1540.3 516.4L1536.2 510.6L1531.9 504.9L1527.6 499.2L1523.2 493.6L1518.7 488.1L1514.2 482.6L1509.5 477.2L1504.8 471.9L1499.9 466.6L1495.0 461.4L1490.1 456.3L1485.0 451.3L1479.8 446.4L1474.4 441.6L1469.0 437.0L1463.5 432.5L1457.9 428.0L1452.2 423.7L1446.4 419.5L1440.6 415.3L1434.8 411.3L1428.8 407.3L1422.9 403.4L1416.8 399.7L1410.7 396.1L1404.4 392.6L1398.2 389.2L1391.8 386.0L1385.4 382.8L1379.0 379.8L1372.6 376.9L1366.1 374.0L1359.5 371.3L1353.0 368.6L1346.4 365.9L1339.8 363.4L1333.2 360.9L1326.5 358.5L1319.9 356.1L1313.3 353.5L1306.8 350.6L1300.4 347.5L1294.0 344.0L1287.6 340.3L1281.2 336.7L1274.7 332.9L1268.1 329.2L1261.6 325.3L1255.0 321.1L1248.3 316.6L1241.7 311.7L1234.9 306.7L1228.0 301.4L1221.0 296.3L1213.9 291.5L1206.5 287.6L1199.0 284.7" fill="none" stroke="#EB9BA6" stroke-width="10.6" stroke-linejoin="round"/>
<path d="M1164.0 260.0L1190.0 264.0L1205.9 269.0L1203.9 278.0L1215.9 292.0L1219.9 309.9L1214.9 319.9L1213.9 339.9L1205.9 301.9L1193.0 290.0L1180.0 284.0L1164.0 279.0Z" fill="#EB9BA6" stroke="#EB9BA6" stroke-width="3" stroke-linejoin="round"/>
<path d="M1449.8 547.2L1459.3 551.7L1468.1 563.6L1476.9 576.2L1482.6 592.6L1476.9 585.7L1468.1 573.7L1453.0 560.0Z" fill="#fff"/>
<path d="M1460.5 593.9L1471.2 609.0L1479.4 626.7L1492.0 655.0L1488.3 655.0L1474.4 631.7L1464.3 612.8Z" fill="#fff"/>
<path d="M1459.7 594.8L1472.5 619.8L1483.1 644.7L1492.2 685.6L1489.9 685.6L1480.5 645.5L1470.3 622.0Z" fill="#fff"/>
<path d="M1473.6 649.3L1480.1 659.8L1486.1 672.7L1478.6 660.6Z" fill="#fff"/>
<path d="M1475.1 693.1L1479.6 709.8L1484.2 726.4L1478.6 709.8Z" fill="#fff"/>
<path d="M1623.1 795.7L1623.1 789.2L1622.9 782.7L1622.7 776.2L1622.4 769.7L1622.0 763.2L1621.5 756.7L1620.9 750.3L1620.2 743.8L1619.4 737.3L1618.5 730.9L1617.6 724.5L1616.5 718.0L1615.4 711.6L1614.1 705.2L1612.8 698.9L1611.4 692.5L1609.9 686.2L1608.3 679.9L1606.7 673.6L1604.9 667.4L1603.0 661.1L1601.1 654.9L1599.1 648.7L1597.0 642.6L1594.8 636.5L1592.5 630.4L1590.1 624.3L1587.6 618.3L1585.1 612.3L1582.5 606.4L1579.8 600.5L1577.0 594.6L1574.1 588.8L1571.1 583.0L1568.1 577.2L1565.0 571.5L1561.8 565.8L1558.6 560.2L1555.4 554.5L1552.1 548.9L1548.7 543.4L1545.3 537.9L1541.7 532.4L1538.1 527.0L1534.4 521.6L1530.6 516.3L1526.8 511.0L1522.9 505.8L1518.9 500.6L1514.8 495.5L1510.6 490.5L1506.4 485.5L1502.1 480.6L1497.8 475.7L1493.4 470.9L1488.9 466.1L1484.3 461.4L1479.6 456.8L1474.9 452.3L1470.1 447.9L1465.1 443.6L1460.1 439.4L1455.1 435.2L1449.9 431.2L1444.7 427.2L1439.5 423.2L1434.2 419.4L1428.9 415.6L1423.5 411.9L1418.0 408.3L1412.5 404.8L1406.9 401.4L1401.3 398.1L1395.6 394.8L1389.9 391.7L1384.1 388.7L1378.3 385.7L1372.4 382.8L1366.5 380.0L1360.6 377.3L1354.6 374.7L1348.6 372.1L1342.6 369.6L1336.5 367.3L1330.4 365.0L1324.3 362.8L1318.1 360.7L1311.9 358.6L1305.7 356.6" fill="none" stroke="#fff" stroke-width="2.6" stroke-opacity="0.95" stroke-dasharray="none"/>
<path d="M1609.3 795.7L1609.3 790.6L1609.2 785.5L1609.0 780.5L1608.8 775.4L1608.6 770.3L1608.3 765.2L1607.9 760.2L1607.5 755.1L1607.0 750.0L1606.4 745.0L1605.8 739.9L1605.2 734.9L1604.4 729.9L1603.7 724.9L1602.8 719.8L1601.9 714.8L1601.0 709.9L1600.0 704.9L1598.9 699.9L1597.8 694.9L1596.6 690.0L1595.4 685.1L1594.1 680.2L1592.8 675.3L1591.4 670.4L1589.9 665.5L1588.4 660.6L1586.9 655.8L1585.3 651.0L1583.6 646.2L1581.9 641.4L1580.1 636.7L1578.3 631.9L1576.4 627.2L1574.4 622.5L1572.4 617.8L1570.4 613.2L1568.3 608.6L1566.1 604.0L1563.9 599.4L1561.7 594.8L1559.4 590.3L1557.0 585.8L1554.6 581.3L1552.2 576.9L1549.7 572.4L1547.2 568.0L1544.6 563.6L1542.1 559.2L1539.5 554.9L1536.8 550.5L1534.1 546.2L1531.3 542.0L1528.5 537.7L1525.6 533.5L1522.7 529.3L1519.8 525.2L1516.7 521.1L1513.7 517.0L1510.6 513.0L1507.4 509.0L1504.2 505.0L1501.0 501.1L1497.7 497.2L1494.4 493.3L1491.0 489.5L1487.6 485.7L1484.1 481.9L1480.6 478.2L1477.1 474.5L1473.5 470.9L1469.8 467.3L1466.2 463.8L1462.4 460.3L1458.7 456.8L1454.8 453.4L1451.0 450.1L1447.1 446.8L1443.1 443.5L1439.2 440.3L1435.1 437.1L1431.1 434.0L1427.0 430.9L1422.9 427.9L1418.7 424.9L1414.5 422.0L1410.3 419.1L1406.0 416.2L1401.7 413.5" fill="none" stroke="#fff" stroke-width="1.2" stroke-opacity="0.5" stroke-dasharray="5 2"/>
<path d="M1520.3 795.7L1520.3 794.2L1520.3 792.6L1520.3 791.1L1520.2 789.5L1520.2 788.0L1520.2 786.4L1520.1 784.9L1520.1 783.4L1520.0 781.8L1520.0 780.3L1519.9 778.7L1519.8 777.2L1519.7 775.7L1519.6 774.1L1519.6 772.6L1519.4 771.0L1519.3 769.5L1519.2 768.0L1519.1 766.4L1519.0 764.9L1518.8 763.3L1518.7 761.8L1518.5 760.3L1518.4 758.7L1518.2 757.2L1518.1 755.7L1517.9 754.1L1517.7 752.6L1517.5 751.1L1517.3 749.5L1517.1 748.0L1516.9 746.5L1516.7 745.0L1516.5 743.4L1516.2 741.9L1516.0 740.4L1515.8 738.9L1515.5 737.3L1515.3 735.8L1515.0 734.3L1514.7 732.8L1514.5 731.3L1514.2 729.7L1513.9 728.2L1513.6 726.7L1513.3 725.2L1513.0 723.7L1512.7 722.2L1512.4 720.7L1512.0 719.2L1511.7 717.6L1511.4 716.1L1511.0 714.6L1510.7 713.1L1510.3 711.6L1509.9 710.1L1509.6 708.6L1509.2 707.1L1508.8 705.7L1508.4 704.2L1508.0 702.7L1507.6 701.2L1507.2 699.7L1506.8 698.2L1506.4 696.7L1505.9 695.2L1505.5 693.8L1505.0 692.3L1504.6 690.8L1504.1 689.3L1503.7 687.9L1503.2 686.4L1502.7 684.9L1502.3 683.5L1501.8 682.0L1501.3 680.5L1500.8 679.1L1500.3 677.6L1499.8 676.2L1499.2 674.7L1498.7 673.3L1498.2 671.8L1497.7 670.4L1497.1 668.9L1496.6 667.5L1496.0 666.0L1495.4 664.6L1494.9 663.2L1494.3 661.7" fill="none" stroke="#fff" stroke-width="1.2" stroke-opacity="0.5" stroke-dasharray="5 2"/>
<path d="M1490.7 795.7L1490.7 794.8L1490.7 793.9L1490.7 793.0L1490.7 792.1L1490.7 791.2L1490.7 790.3L1490.6 789.4L1490.6 788.5L1490.6 787.6L1490.6 786.7L1490.6 785.8L1490.5 784.9L1490.5 784.0L1490.5 783.1L1490.4 782.2L1490.4 781.3L1490.3 780.4L1490.3 779.5L1490.3 778.6L1490.2 777.7L1490.2 776.8L1490.1 775.9L1490.0 775.0L1490.0 774.1L1489.9 773.2L1489.9 772.3L1489.8 771.4L1489.7 770.5L1489.7 769.6L1489.6 768.7L1489.5 767.8L1489.4 766.9L1489.4 766.0L1489.3 765.1L1489.2 764.2L1489.1 763.3L1489.0 762.4L1488.9 761.5L1488.8 760.7L1488.7 759.8L1488.6 758.9L1488.5 758.0L1488.4 757.1L1488.3 756.2L1488.2 755.3L1488.1 754.4L1488.0 753.5L1487.9 752.6L1487.7 751.7L1487.6 750.8L1487.5 749.9L1487.4 749.0L1487.2 748.1L1487.1 747.3L1487.0 746.4L1486.8 745.5L1486.7 744.6L1486.6 743.7L1486.4 742.8L1486.3 741.9L1486.1 741.0L1486.0 740.1L1485.8 739.3L1485.7 738.4L1485.5 737.5L1485.3 736.6L1485.2 735.7L1485.0 734.8L1484.8 733.9L1484.7 733.1L1484.5 732.2L1484.3 731.3L1484.1 730.4L1484.0 729.5L1483.8 728.6L1483.6 727.8L1483.4 726.9L1483.2 726.0L1483.0 725.1L1482.8 724.2L1482.6 723.4L1482.4 722.5L1482.2 721.6L1482.0 720.7L1481.8 719.9L1481.6 719.0L1481.4 718.1L1481.2 717.2L1481.0 716.4" fill="none" stroke="#fff" stroke-width="1" stroke-opacity="0.4" stroke-dasharray="5 2"/>
<g fill="#EB9BA6"><circle cx="1186.0" cy="415.3" r="5.9"/><circle cx="1182.8" cy="475.0" r="5.9"/><circle cx="1183.3" cy="480.5" r="5.9"/><circle cx="1183.3" cy="516.8" r="5.9"/><circle cx="1185.8" cy="525.9" r="5.9"/><circle cx="1192.4" cy="450.3" r="5.9"/><circle cx="1193.4" cy="538.0" r="5.9"/><circle cx="1178.2" cy="569.3" r="5.9"/><circle cx="1182.3" cy="585.4" r="5.9"/><circle cx="1199.4" cy="593.5" r="5.9"/><circle cx="1206.5" cy="590.4" r="5.9"/></g>
<g fill="#1E8CFF"><circle cx="1187.0" cy="287.0" r="6.1"/><circle cx="1183.0" cy="303.9" r="6.1"/><circle cx="1183.0" cy="311.9" r="6.1"/><circle cx="1200.4" cy="329.4" r="6.1"/><circle cx="1211.1" cy="321.4" r="6.1"/><circle cx="1191.5" cy="348.4" r="6.1"/><circle cx="1183.0" cy="385.9" r="6.1"/><circle cx="1195.5" cy="384.9" r="6.1"/><circle cx="1193.2" cy="426.8" r="6.1"/><circle cx="1192.9" cy="429.1" r="6.1"/><circle cx="1178.7" cy="449.2" r="6.1"/><circle cx="1169.7" cy="457.8" r="6.1"/><circle cx="1182.8" cy="467.4" r="6.1"/><circle cx="1176.7" cy="493.6" r="6.1"/><circle cx="1179.2" cy="501.7" r="6.1"/><circle cx="1184.3" cy="499.7" r="6.1"/><circle cx="1190.3" cy="509.8" r="6.1"/><circle cx="1170.2" cy="530.9" r="6.1"/><circle cx="1175.7" cy="536.0" r="6.1"/><circle cx="1181.3" cy="541.0" r="6.1"/><circle cx="1183.3" cy="550.1" r="6.1"/><circle cx="1173.2" cy="555.1" r="6.1"/><circle cx="1169.7" cy="565.2" r="6.1"/><circle cx="1192.4" cy="561.2" r="6.1"/><circle cx="1198.4" cy="554.1" r="6.1"/><circle cx="1193.4" cy="569.3" r="6.1"/><circle cx="1204.5" cy="570.3" r="6.1"/><circle cx="1212.5" cy="571.3" r="6.1"/><circle cx="1204.5" cy="583.4" r="6.1"/><circle cx="1211.5" cy="580.4" r="6.1"/><circle cx="1178.7" cy="590.4" r="6.1"/></g>
<g fill="#1E8CFF"><circle cx="1169.7" cy="567.6" r="6.1"/><circle cx="1190.8" cy="566.1" r="6.1"/><circle cx="1199.9" cy="563.0" r="6.1"/><circle cx="1178.7" cy="591.0" r="6.1"/><circle cx="1203.0" cy="584.2" r="6.1"/><circle cx="1213.5" cy="576.6" r="6.1"/><circle cx="1166.6" cy="602.4" r="6.1"/><circle cx="1176.5" cy="609.9" r="6.1"/><circle cx="1181.0" cy="616.0" r="6.1"/><circle cx="1198.4" cy="617.5" r="6.1"/><circle cx="1175.0" cy="628.1" r="6.1"/><circle cx="1187.8" cy="629.6" r="6.1"/><circle cx="1184.0" cy="640.2" r="6.1"/><circle cx="1170.4" cy="656.8" r="6.1"/><circle cx="1177.2" cy="650.8" r="6.1"/><circle cx="1211.3" cy="603.1" r="6.1"/><circle cx="1212.0" cy="622.8" r="6.1"/><circle cx="1165.1" cy="685.6" r="6.1"/><circle cx="1166.6" cy="722.6" r="6.1"/></g>
<g fill="#EB9BA6"><circle cx="1181.8" cy="585.7" r="5.9"/><circle cx="1185.6" cy="591.0" r="5.9"/><circle cx="1199.9" cy="593.3" r="5.9"/><circle cx="1214.3" cy="603.9" r="5.9"/><circle cx="1216.6" cy="613.0" r="5.9"/><circle cx="1195.4" cy="623.5" r="5.9"/><circle cx="1199.9" cy="605.4" r="5.9"/><circle cx="1209.8" cy="623.5" r="5.9"/><circle cx="1189.3" cy="656.8" r="5.9"/><circle cx="1180.3" cy="664.4" r="5.9"/><circle cx="1195.4" cy="650.8" r="5.9"/><circle cx="1203.0" cy="644.7" r="5.9"/><circle cx="1210.5" cy="635.6" r="5.9"/><circle cx="1174.2" cy="688.6" r="5.9"/><circle cx="1184.8" cy="690.1" r="5.9"/><circle cx="1171.2" cy="711.3" r="5.9"/><circle cx="1180.3" cy="717.3" r="5.9"/><circle cx="1172.7" cy="729.4" r="5.9"/><circle cx="1168.2" cy="740.0" r="5.9"/><circle cx="1189.3" cy="696.2" r="5.9"/><circle cx="1199.9" cy="700.7" r="5.9"/><circle cx="1195.4" cy="711.3" r="5.9"/><circle cx="1207.5" cy="711.3" r="5.9"/><circle cx="1184.8" cy="729.4" r="5.9"/><circle cx="1195.4" cy="723.4" r="5.9"/></g>
<path d="M1195.3 580.2L1219.6 575.0L1228.4 586.6L1230.5 630.8L1224.2 651.9L1203.1 669.2L1177.4 677.6L1171.1 669.2L1185.8 651.9L1195.3 632.9L1199.5 609.8L1197.4 592.9Z" fill="#EB9BA6" stroke="#EB9BA6" stroke-width="4" stroke-linejoin="round"/>
<path d="M1221.1 589.7L1228.4 585.5L1225.3 605.5L1221.7 610.2Z" fill="#fff"/>
<path d="M1213.3 654.5L1225.3 637.2L1223.2 650.2L1211.6 662.5L1193.2 675.5L1202.7 662.9Z" fill="#fff"/>
<path d="M1238.5 600.1L1243.8 596.3L1247.6 590.3L1249.1 594.8L1246.8 605.4L1239.3 606.9Z" fill="#fff"/>
<path d="M1242.6 581.2L1245.0 582.7L1246.8 590.3L1244.6 588.0Z" fill="#fff"/>
<path d="M1246.8 570.9L1250.6 570.3L1249.8 573.9L1247.1 573.6Z" fill="#fff"/>
<path d="M1222.6 588.7L1228.7 586.5L1226.4 598.6L1223.1 600.5Z" fill="#fff"/>
<path d="M1240.8 619.8L1252.9 620.5L1252.6 622.8L1241.1 622.0Z" fill="#fff"/>
<path d="M1240.8 634.1L1254.4 636.4L1254.1 638.7L1241.1 635.9Z" fill="#fff"/>
<path d="M1224.1 635.6L1227.5 639.0L1222.9 646.2L1224.4 653.8L1216.6 659.8L1207.5 661.7L1195.4 669.2L1192.4 672.3L1199.9 663.2L1210.5 654.1L1218.1 644.7Z" fill="#fff"/>
<path d="M1196.9 685.9L1209.3 676.5L1206.3 685.6L1198.7 686.6Z" fill="#fff"/>
<path d="M1163.3 696.2L1178.7 696.9L1177.2 709.8L1163.3 709.0Z" fill="#fff"/>
<path d="M1163.3 734.0L1169.7 734.3L1169.4 740.0L1163.3 739.7Z" fill="#fff"/>
<path d="M1207.5 705.2L1211.3 706.0L1210.5 709.8L1208.2 709.0Z" fill="#fff"/>
<path d="M1206.5 485.6L1210.5 489.6L1214.5 496.7L1213.0 500.7L1210.0 498.7Z" fill="#fff"/>
<path d="M1244.8 571.3L1250.9 570.3L1247.3 574.3Z" fill="#fff"/>
<path d="M1240.8 581.4L1244.3 583.4L1245.8 590.4L1242.8 586.4Z" fill="#fff"/>
<path d="M1220.6 571.3L1224.1 572.3L1223.1 575.8L1221.1 574.8Z" fill="#fff"/>
<path d="M1194.4 545.1L1198.4 544.6L1197.9 547.6L1194.9 547.3Z" fill="#fff"/>
<path d="M1163.3 794.9L1163.3 738.5L1164.8 740.7L1166.4 742.9L1168.1 744.9L1169.5 747.1L1172.7 747.6L1175.5 747.8L1178.2 747.8L1179.7 743.4L1182.7 744.4L1185.8 745.6L1187.8 743.1L1190.0 742.0L1192.4 741.3L1192.1 737.3L1194.8 736.9L1196.0 734.7L1198.4 734.0L1200.7 732.7L1202.9 731.4L1203.8 728.0L1206.4 727.4L1208.7 726.2L1212.3 727.0L1213.5 724.1L1216.2 723.9L1217.2 720.5L1220.6 721.7L1221.5 718.1L1224.6 718.6L1225.8 715.6L1228.7 715.8L1230.6 713.1L1234.2 715.8L1235.9 712.4L1238.4 711.7L1241.9 714.0L1243.8 711.3L1246.5 712.4L1248.5 709.5L1251.4 711.8L1253.5 709.6L1255.9 709.0L1258.7 710.9L1262.0 711.3L1263.5 708.7L1267.5 709.8L1269.2 707.4L1271.0 705.2L1274.2 705.6L1276.2 704.1L1277.1 700.6L1279.4 699.5L1281.1 697.5L1283.2 696.2L1286.2 696.2L1287.0 693.3L1289.5 692.8L1292.1 692.5L1292.5 689.2L1296.0 690.2L1297.1 687.7L1298.9 686.2L1301.3 685.6L1303.9 685.3L1305.0 682.9L1306.5 681.0L1308.8 680.2L1311.2 679.7L1311.6 676.1L1315.7 677.9L1316.4 675.0L1317.4 672.1L1321.0 673.6L1323.2 672.8L1323.5 668.7L1327.1 670.4L1328.5 668.2L1330.7 667.1L1333.1 667.5L1334.9 664.6L1337.2 664.3L1339.6 664.3L1342.1 665.1L1343.7 668.1L1347.5 666.4L1348.9 669.7L1351.0 671.6L1354.2 671.2L1355.2 674.3L1358.9 674.0L1361.0 675.7L1362.6 677.9L1364.8 679.5L1366.7 681.8L1370.4 680.5L1371.6 684.1L1374.0 685.5L1376.9 685.6L1378.0 688.5L1382.2 687.6L1381.7 692.3L1386.1 691.3L1387.5 693.9L1389.0 696.2L1390.0 698.3L1390.2 700.9L1393.6 701.4L1392.9 704.7L1395.5 705.7L1397.6 707.1L1398.9 709.0L1399.6 711.3L1402.3 711.8L1404.3 713.0L1405.9 714.7L1406.2 717.9L1407.1 720.4L1410.2 720.4L1413.0 721.1L1415.1 722.6L1414.1 727.1L1417.2 727.5L1419.3 728.9L1420.8 731.0L1423.0 732.7L1423.0 735.7L1423.4 738.4L1426.0 739.9L1427.4 742.1L1428.4 744.6L1430.8 746.8L1427.8 750.2L1432.0 752.1L1430.6 755.2L1428.6 757.1L1425.5 757.9L1425.4 762.0L1422.3 762.7L1419.7 763.5L1417.1 764.2L1415.9 766.8L1413.5 767.8L1413.2 771.6L1410.2 771.8L1408.6 773.5L1407.6 775.9L1404.0 775.2L1403.7 778.5L1401.5 779.5L1399.6 780.9L1396.9 779.3L1394.8 780.4L1392.4 780.4L1390.6 783.1L1388.3 783.4L1386.0 783.9L1383.2 783.9L1381.2 785.8L1379.1 787.4L1376.5 787.9L1373.9 788.4L1372.1 790.9L1369.3 791.0L1365.8 789.7L1363.4 790.9L1361.8 793.7L1360.3 794.9Z" fill="#1E8CFF"/>
<path d="M1255.9 724.9L1256.7 731.0L1249.8 746.1L1240.8 762.7L1231.7 776.3L1224.1 784.7L1219.6 783.1L1228.7 770.3L1237.7 758.2L1246.8 744.6L1254.4 727.9Z" fill="#fff"/></g>
<rect x="1163.0" y="16.1" width="777.6" height="779.6" fill="none" stroke="#7a7a7a" stroke-width="2.4"/>
<text x="1161.5" y="834.6" text-anchor="middle">0</text>
<text x="1258.7" y="834.6" text-anchor="middle">10000</text>
<text x="1355.9" y="834.6" text-anchor="middle">20000</text>
<text x="1453.1" y="834.6" text-anchor="middle">30000</text>
<text x="1550.3" y="834.6" text-anchor="middle">40000</text>
<text x="1647.5" y="834.6" text-anchor="middle">50000</text>
<text x="1744.7" y="834.6" text-anchor="middle">60000</text>
<text x="1841.9" y="834.6" text-anchor="middle">70000</text>
<text x="1939.1" y="834.6" text-anchor="middle">80000</text>
<text x="1140.0" y="805.5" text-anchor="end">0</text>
<text x="1140.0" y="708.0" text-anchor="end">10000</text>
<text x="1140.0" y="610.6" text-anchor="end">20000</text>
<text x="1140.0" y="513.1" text-anchor="end">30000</text>
<text x="1140.0" y="415.7" text-anchor="end">40000</text>
<text x="1140.0" y="318.3" text-anchor="end">50000</text>
<text x="1140.0" y="220.8" text-anchor="end">60000</text>
<text x="1140.0" y="123.4" text-anchor="end">70000</text>
<text x="1140.0" y="25.9" text-anchor="end">80000</text>
<path d="M1163.0 795.7v13.8M1163.0 16.1v-13.8M1260.2 795.7v13.8M1260.2 16.1v-13.8M1357.4 795.7v13.8M1357.4 16.1v-13.8M1454.6 795.7v13.8M1454.6 16.1v-13.8M1551.8 795.7v13.8M1551.8 16.1v-13.8M1649.0 795.7v13.8M1649.0 16.1v-13.8M1746.2 795.7v13.8M1746.2 16.1v-13.8M1843.4 795.7v13.8M1843.4 16.1v-13.8M1940.6 795.7v13.8M1940.6 16.1v-13.8M1163.0 795.7h-13.8M1940.6 795.7h13.8M1163.0 698.2h-13.8M1940.6 698.2h13.8M1163.0 600.8h-13.8M1940.6 600.8h13.8M1163.0 503.4h-13.8M1940.6 503.4h13.8M1163.0 405.9h-13.8M1940.6 405.9h13.8M1163.0 308.5h-13.8M1940.6 308.5h13.8M1163.0 211.0h-13.8M1940.6 211.0h13.8M1163.0 113.6h-13.8M1940.6 113.6h13.8M1163.0 16.1h-13.8M1940.6 16.1h13.8" fill="none" stroke="#7a7a7a" stroke-width="2.4"/>
<text x="1550.3" y="869.6" text-anchor="middle">x (km)</text>
<text transform="translate(1039.7,405.9) rotate(-90)" text-anchor="middle">y (km)</text>
</g>
<g id="panel3">
<clipPath id="c3"><rect x="163.3" y="969.2" width="751.5" height="751.4"/></clipPath>
<g clip-path="url(#c3)"><path d="M167.8 1397.6L167.7 1717.6L522.4 1717.6L523.4 1709.0L523.3 1708.8L523.0 1706.9L522.4 1704.2L521.7 1700.5L521.7 1700.5L520.9 1696.3L520.9 1696.3L519.9 1691.5L519.9 1691.5L518.9 1686.1L518.9 1686.1L517.8 1680.2L517.8 1680.2L516.8 1674.3L516.8 1674.2L515.9 1668.3L515.9 1668.3L515.0 1662.4L515.0 1662.3L514.3 1656.5L513.5 1651.1L512.6 1646.1L511.6 1641.5L510.5 1637.1L510.5 1636.9L509.6 1632.5L509.5 1632.4L508.8 1627.9L508.8 1627.8L508.2 1623.4L508.2 1623.2L507.8 1618.8L507.8 1618.7L507.5 1613.6L507.5 1613.5L507.1 1607.6L507.1 1607.6L506.7 1601.0L506.7 1601.0L506.4 1593.6L505.9 1586.3L505.3 1579.0L504.7 1571.7L504.0 1564.4L503.2 1557.1L502.2 1549.9L501.2 1542.6L500.2 1535.3L498.8 1528.1L497.2 1520.9L495.3 1513.7L493.1 1506.5L490.8 1499.2L488.2 1492.0L485.5 1484.7L482.6 1477.5L479.5 1470.2L476.2 1462.9L472.8 1455.6L469.2 1448.4L465.0 1440.8L460.3 1432.9L455.0 1424.5L449.2 1415.7L443.0 1406.6L436.4 1397.1L429.4 1387.2L422.1 1376.9L414.8 1367.3L407.6 1358.2L400.3 1349.7L393.0 1341.7L385.8 1334.3L378.6 1327.4L371.4 1321.1L364.2 1315.3L357.3 1310.1L350.7 1305.5L344.5 1301.6L338.6 1298.2L332.9 1294.9L327.6 1291.9L322.6 1289.1L318.0 1286.4L313.4 1283.9L308.8 1281.5L304.1 1279.1L299.6 1276.8L295.6 1275.0L292.0 1273.7L289.1 1272.7L286.7 1272.3L284.4 1272.2L282.2 1272.4L279.9 1273.0L277.5 1273.9L275.1 1275.3L272.5 1277.0L269.9 1279.3L267.1 1282.1L267.1 1282.1L264.4 1284.6L264.4 1284.7L262.1 1286.9L262.0 1287.0L259.9 1288.8L259.8 1288.9L258.1 1290.3L257.7 1290.6L257.3 1290.9L255.1 1292.0L254.8 1292.2L254.3 1292.3L251.9 1293.0L251.5 1293.1L251.2 1293.2L248.3 1293.5L247.8 1293.6L240.5 1293.6L187.4 1312.5L187.0 1312.6L186.6 1312.7L186.1 1312.7L185.7 1312.7L185.2 1312.7L184.8 1312.6L184.4 1312.5L183.9 1312.3L183.5 1312.1L183.2 1311.8L182.8 1311.5L182.5 1311.2L182.4 1311.1L176.6 1311.1L176.6 1329.9L176.6 1330.3L176.6 1330.7L176.5 1331.1L176.3 1331.5L172.5 1341.1L178.3 1350.9L178.5 1351.2L178.7 1351.6L178.8 1352.0L178.9 1352.4L179.0 1352.9L180.1 1370.4L180.1 1370.8L180.1 1371.2L180.0 1371.6L180.0 1371.9L179.8 1372.3L175.2 1384.0L175.0 1384.3L169.2 1396.0L169.0 1396.4L168.7 1396.7L168.4 1397.1L168.1 1397.4Z" fill="#EB9BA6" stroke="#EB9BA6" stroke-width="7.8" stroke-linejoin="round"/><path d="M167.8 1397.6L167.7 1717.6L522.4 1717.6L523.4 1709.0L523.3 1708.8L523.0 1706.9L522.4 1704.2L521.7 1700.5L521.7 1700.5L520.9 1696.3L520.9 1696.3L519.9 1691.5L519.9 1691.5L518.9 1686.1L518.9 1686.1L517.8 1680.2L517.8 1680.2L516.8 1674.3L516.8 1674.2L515.9 1668.3L515.9 1668.3L515.0 1662.4L515.0 1662.3L514.3 1656.5L513.5 1651.1L512.6 1646.1L511.6 1641.5L510.5 1637.1L510.5 1636.9L509.6 1632.5L509.5 1632.4L508.8 1627.9L508.8 1627.8L508.2 1623.4L508.2 1623.2L507.8 1618.8L507.8 1618.7L507.5 1613.6L507.5 1613.5L507.1 1607.6L507.1 1607.6L506.7 1601.0L506.7 1601.0L506.4 1593.6L505.9 1586.3L505.3 1579.0L504.7 1571.7L504.0 1564.4L503.2 1557.1L502.2 1549.9L501.2 1542.6L500.2 1535.3L498.8 1528.1L497.2 1520.9L495.3 1513.7L493.1 1506.5L490.8 1499.2L488.2 1492.0L485.5 1484.7L482.6 1477.5L479.5 1470.2L476.2 1462.9L472.8 1455.6L469.2 1448.4L465.0 1440.8L460.3 1432.9L455.0 1424.5L449.2 1415.7L443.0 1406.6L436.4 1397.1L429.4 1387.2L422.1 1376.9L414.8 1367.3L407.6 1358.2L400.3 1349.7L393.0 1341.7L385.8 1334.3L378.6 1327.4L371.4 1321.1L364.2 1315.3L357.3 1310.1L350.7 1305.5L344.5 1301.6L338.6 1298.2L332.9 1294.9L327.6 1291.9L322.6 1289.1L318.0 1286.4L313.4 1283.9L308.8 1281.5L304.1 1279.1L299.6 1276.8L295.6 1275.0L292.0 1273.7L289.1 1272.7L286.7 1272.3L284.4 1272.2L282.2 1272.4L279.9 1273.0L277.5 1273.9L275.1 1275.3L272.5 1277.0L269.9 1279.3L267.1 1282.1L267.1 1282.1L264.4 1284.6L264.4 1284.7L262.1 1286.9L262.0 1287.0L259.9 1288.8L259.8 1288.9L258.1 1290.3L257.7 1290.6L257.3 1290.9L255.1 1292.0L254.8 1292.2L254.3 1292.3L251.9 1293.0L251.5 1293.1L251.2 1293.2L248.3 1293.5L247.8 1293.6L240.5 1293.6L187.4 1312.5L187.0 1312.6L186.6 1312.7L186.1 1312.7L185.7 1312.7L185.2 1312.7L184.8 1312.6L184.4 1312.5L183.9 1312.3L183.5 1312.1L183.2 1311.8L182.8 1311.5L182.5 1311.2L182.4 1311.1L176.6 1311.1L176.6 1329.9L176.6 1330.3L176.6 1330.7L176.5 1331.1L176.3 1331.5L172.5 1341.1L178.3 1350.9L178.5 1351.2L178.7 1351.6L178.8 1352.0L178.9 1352.4L179.0 1352.9L180.1 1370.4L180.1 1370.8L180.1 1371.2L180.0 1371.6L180.0 1371.9L179.8 1372.3L175.2 1384.0L175.0 1384.3L169.2 1396.0L169.0 1396.4L168.7 1396.7L168.4 1397.1L168.1 1397.4Z" fill="none" stroke="#EB9BA6" stroke-width="10" stroke-linecap="round" stroke-dasharray="0 6.5"/>
<path d="M190.4 1292.1L201.9 1305.7L226.6 1305.7L235.1 1302.5L234.0 1296.8L231.9 1291.0L229.4 1287.7L229.1 1287.1L226.6 1282.8L226.4 1282.3L224.5 1277.4L224.3 1277.0L224.2 1276.5L224.2 1276.0L224.1 1275.6L224.2 1275.1L224.3 1274.6L225.2 1270.8L225.4 1270.3L225.5 1269.9L225.7 1269.5L226.0 1269.2L226.3 1268.8L226.6 1268.5L226.9 1268.2L230.5 1265.5L232.9 1263.2L233.1 1262.9L233.0 1262.9L228.1 1259.6L227.9 1259.5L222.6 1255.6L222.4 1255.5L217.9 1251.8L214.4 1249.9L211.0 1249.0L210.6 1248.9L210.2 1248.7L209.8 1248.5L209.4 1248.3L209.1 1248.0L208.8 1247.6L208.5 1247.3L208.2 1246.9L208.0 1246.5L205.6 1241.2L205.4 1240.7L205.3 1240.3L205.2 1239.8L204.3 1230.1L204.2 1229.7L204.2 1229.4L204.7 1219.7L204.8 1219.3L204.8 1219.0L206.8 1209.3L206.8 1209.1L209.2 1199.4L209.3 1199.2L212.2 1189.5L212.3 1189.3L215.7 1179.6L215.7 1179.4L219.5 1169.9L221.8 1161.7L222.7 1154.7L222.2 1148.1L220.6 1142.1L218.7 1139.6L216.1 1138.8L215.0 1139.0L214.9 1139.0L214.9 1139.4L216.8 1142.7L217.0 1143.1L217.1 1143.5L217.3 1143.9L217.3 1144.3L217.4 1144.7L217.6 1151.3L217.6 1151.7L217.6 1152.1L217.5 1152.4L215.6 1161.2L215.4 1161.6L212.5 1170.4L212.4 1170.8L208.5 1179.5L204.6 1188.6L200.8 1198.1L197.5 1208.5L194.7 1219.9L192.5 1230.4L191.1 1239.7L190.4 1260.8Z" fill="#EB9BA6" stroke="#EB9BA6" stroke-width="8.3" stroke-linejoin="round"/><path d="M190.4 1292.1L201.9 1305.7L226.6 1305.7L235.1 1302.5L234.0 1296.8L231.9 1291.0L229.4 1287.7L229.1 1287.1L226.6 1282.8L226.4 1282.3L224.5 1277.4L224.3 1277.0L224.2 1276.5L224.2 1276.0L224.1 1275.6L224.2 1275.1L224.3 1274.6L225.2 1270.8L225.4 1270.3L225.5 1269.9L225.7 1269.5L226.0 1269.2L226.3 1268.8L226.6 1268.5L226.9 1268.2L230.5 1265.5L232.9 1263.2L233.1 1262.9L233.0 1262.9L228.1 1259.6L227.9 1259.5L222.6 1255.6L222.4 1255.5L217.9 1251.8L214.4 1249.9L211.0 1249.0L210.6 1248.9L210.2 1248.7L209.8 1248.5L209.4 1248.3L209.1 1248.0L208.8 1247.6L208.5 1247.3L208.2 1246.9L208.0 1246.5L205.6 1241.2L205.4 1240.7L205.3 1240.3L205.2 1239.8L204.3 1230.1L204.2 1229.7L204.2 1229.4L204.7 1219.7L204.8 1219.3L204.8 1219.0L206.8 1209.3L206.8 1209.1L209.2 1199.4L209.3 1199.2L212.2 1189.5L212.3 1189.3L215.7 1179.6L215.7 1179.4L219.5 1169.9L221.8 1161.7L222.7 1154.7L222.2 1148.1L220.6 1142.1L218.7 1139.6L216.1 1138.8L215.0 1139.0L214.9 1139.0L214.9 1139.4L216.8 1142.7L217.0 1143.1L217.1 1143.5L217.3 1143.9L217.3 1144.3L217.4 1144.7L217.6 1151.3L217.6 1151.7L217.6 1152.1L217.5 1152.4L215.6 1161.2L215.4 1161.6L212.5 1170.4L212.4 1170.8L208.5 1179.5L204.6 1188.6L200.8 1198.1L197.5 1208.5L194.7 1219.9L192.5 1230.4L191.1 1239.7L190.4 1260.8Z" fill="none" stroke="#EB9BA6" stroke-width="10.5" stroke-linecap="round" stroke-dasharray="0 7"/>
<g fill="#EB9BA6"><circle cx="212.1" cy="1218.9" r="5.7"/><circle cx="218.0" cy="1211.2" r="5.7"/><circle cx="224.8" cy="1203.4" r="5.7"/><circle cx="229.6" cy="1197.6" r="5.7"/><circle cx="235.4" cy="1191.7" r="5.7"/><circle cx="243.2" cy="1190.8" r="5.7"/><circle cx="238.3" cy="1193.7" r="5.7"/><circle cx="215.0" cy="1215.0" r="5.7"/><circle cx="220.9" cy="1207.3" r="5.7"/><circle cx="227.7" cy="1200.5" r="5.7"/><circle cx="232.5" cy="1194.7" r="5.7"/><circle cx="205.3" cy="1087.9" r="5.7"/><circle cx="208.3" cy="1096.6" r="5.7"/><circle cx="180.1" cy="1114.1" r="5.7"/><circle cx="230.6" cy="1115.0" r="5.7"/><circle cx="210.8" cy="1122.8" r="5.7"/><circle cx="240.3" cy="1137.4" r="5.7"/><circle cx="214.1" cy="1138.3" r="5.7"/><circle cx="218.9" cy="1139.3" r="5.7"/><circle cx="210.2" cy="1141.3" r="5.7"/><circle cx="217.0" cy="1145.1" r="5.7"/><circle cx="233.5" cy="1146.1" r="5.7"/><circle cx="173.3" cy="1157.4" r="5.7"/><circle cx="233.5" cy="1157.8" r="5.7"/><circle cx="234.5" cy="1176.2" r="5.7"/><circle cx="175.2" cy="1185.9" r="5.7"/><circle cx="176.2" cy="1193.7" r="5.7"/><circle cx="173.3" cy="1204.4" r="5.7"/><circle cx="169.4" cy="1205.3" r="5.7"/><circle cx="236.4" cy="1228.6" r="5.7"/><circle cx="172.3" cy="1237.4" r="5.7"/><circle cx="173.3" cy="1260.7" r="5.7"/><circle cx="173.3" cy="1265.5" r="5.7"/><circle cx="174.3" cy="1279.1" r="5.7"/><circle cx="174.9" cy="1286.9" r="5.7"/><circle cx="175.2" cy="1296.6" r="5.7"/><circle cx="176.2" cy="1306.3" r="5.7"/><circle cx="177.2" cy="1316.0" r="5.7"/><circle cx="218.0" cy="1250.0" r="5.7"/><circle cx="221.8" cy="1251.9" r="5.7"/><circle cx="227.7" cy="1257.8" r="5.7"/><circle cx="235.4" cy="1261.7" r="5.7"/><circle cx="231.6" cy="1263.6" r="5.7"/><circle cx="214.1" cy="1253.9" r="5.7"/><circle cx="174.5" cy="1192.3" r="5.7"/><circle cx="173.9" cy="1204.6" r="5.7"/><circle cx="172.7" cy="1237.8" r="5.7"/><circle cx="173.3" cy="1259.9" r="5.7"/><circle cx="173.3" cy="1264.6" r="5.7"/><circle cx="175.1" cy="1278.6" r="5.7"/><circle cx="175.1" cy="1283.2" r="5.7"/><circle cx="173.9" cy="1294.9" r="5.7"/><circle cx="176.8" cy="1294.9" r="5.7"/><circle cx="179.1" cy="1295.5" r="5.7"/><circle cx="236.8" cy="1229.0" r="5.7"/><circle cx="219.9" cy="1249.4" r="5.7"/><circle cx="231.6" cy="1258.8" r="5.7"/><circle cx="236.2" cy="1262.3" r="5.7"/><circle cx="215.3" cy="1252.9" r="5.7"/><circle cx="174.9" cy="1482.2" r="5.7"/><circle cx="168.9" cy="1546.7" r="5.7"/><circle cx="169.8" cy="1551.8" r="5.7"/></g>
<path d="M200.1 1271.6L206.5 1264.6L204.8 1270.4L201.3 1273.3Z" fill="#fff" stroke="#fff" stroke-width="2" stroke-linejoin="round"/>
<path d="M216.4 1291.4L219.9 1292.6L223.4 1306.6L221.1 1306.6Z" fill="#fff" stroke="#fff" stroke-width="2" stroke-linejoin="round"/>
<path d="M238.6 1300.7L242.1 1301.3L241.5 1303.6L238.8 1303.1Z" fill="#fff" stroke="#fff" stroke-width="2" stroke-linejoin="round"/>
<path d="M185.0 1301.9L187.3 1302.5L186.1 1307.1Z" fill="#fff" stroke="#fff" stroke-width="2" stroke-linejoin="round"/>
<path d="M188.5 1350.8L192.2 1353.8L197.8 1346.2L195.7 1355.5L194.1 1362.5L191.5 1361.3L191.0 1355.5Z" fill="#fff" stroke="#fff" stroke-width="2" stroke-linejoin="round"/>
<path d="M203.0 1370.7L205.9 1370.4L204.8 1377.6Z" fill="#fff" stroke="#fff" stroke-width="2" stroke-linejoin="round"/>
<path d="M217.4 1390.0L219.7 1390.7L218.2 1392.2Z" fill="#fff" stroke="#fff" stroke-width="2" stroke-linejoin="round"/>
<path d="M164.6 1352.4L174.1 1354.1L175.8 1364.4L172.4 1378.2L168.9 1386.7L164.6 1388.5Z" fill="#fff" stroke="#fff" stroke-width="2" stroke-linejoin="round"/>
<path d="M175.8 1388.5L179.2 1395.3L193.0 1409.1L189.6 1412.5L181.0 1405.7L175.8 1398.8Z" fill="#fff" stroke="#fff" stroke-width="2" stroke-linejoin="round"/>
<path d="M172.4 1412.5L180.1 1416.0L181.0 1425.4L175.8 1423.7Z" fill="#fff" stroke="#fff" stroke-width="2" stroke-linejoin="round"/>
<path d="M164.6 1405.7L167.2 1406.5L167.2 1419.4L164.6 1419.4Z" fill="#fff" stroke="#fff" stroke-width="2" stroke-linejoin="round"/>
<path d="M164.6 1453.8L174.1 1450.4L179.2 1443.5L182.7 1446.9L175.8 1455.5L184.4 1467.6L181.0 1476.2L179.2 1488.2L184.4 1502.0L194.7 1502.0L186.1 1505.4L184.4 1519.2L182.7 1536.4L175.8 1543.2L175.8 1553.6L172.4 1570.8L164.6 1574.2Z" fill="#fff" stroke="#fff" stroke-width="2" stroke-linejoin="round"/>
<path d="M198.2 1515.7L214.5 1512.3L206.7 1520.9L199.9 1527.8L193.0 1546.7L187.0 1567.3L183.5 1574.2L188.7 1551.8L195.6 1529.5Z" fill="#fff" stroke="#fff" stroke-width="2" stroke-linejoin="round"/>
<path d="M225.7 1535.5L226.5 1541.5L215.3 1558.7L204.2 1572.5L211.9 1555.3L218.8 1543.2Z" fill="#fff" stroke="#fff" stroke-width="2" stroke-linejoin="round"/>
<path d="M187.0 1349.8L192.1 1354.1L197.3 1347.2L193.9 1362.7L190.4 1361.0Z" fill="#fff" stroke="#fff" stroke-width="2" stroke-linejoin="round"/>
<path d="M203.0 1370.4L205.7 1372.1L204.3 1377.3Z" fill="#fff" stroke="#fff" stroke-width="2" stroke-linejoin="round"/>
<path d="M216.6 1389.7L219.5 1390.2L217.9 1392.8Z" fill="#fff" stroke="#fff" stroke-width="2" stroke-linejoin="round"/>
<path d="M226.0 1455.9L228.8 1456.6L227.4 1459.0Z" fill="#fff" stroke="#fff" stroke-width="2" stroke-linejoin="round"/>
<path d="M203.3 1465.9L207.6 1463.3L207.1 1471.0L203.7 1471.4Z" fill="#fff" stroke="#fff" stroke-width="2" stroke-linejoin="round"/>
<path d="M194.2 1478.2L197.1 1478.9L195.4 1482.2Z" fill="#fff" stroke="#fff" stroke-width="2" stroke-linejoin="round"/>
<path d="M230.0 1485.6L236.0 1483.1L232.5 1490.8L230.1 1489.9Z" fill="#fff" stroke="#fff" stroke-width="2" stroke-linejoin="round"/>
<path d="M208.8 1493.7L212.6 1494.4L210.5 1497.7Z" fill="#fff" stroke="#fff" stroke-width="2" stroke-linejoin="round"/>
<path d="M232.5 1500.2L236.0 1505.4L234.6 1515.7L231.2 1508.8Z" fill="#fff" stroke="#fff" stroke-width="2" stroke-linejoin="round"/>
<path d="M184.6 1603.8L186.8 1604.3L185.6 1606.9Z" fill="#fff" stroke="#fff" stroke-width="2" stroke-linejoin="round"/>
<path d="M164.6 1593.1L170.6 1594.0L174.9 1598.3L168.9 1596.6L164.6 1597.4Z" fill="#fff" stroke="#fff" stroke-width="2" stroke-linejoin="round"/>
<path d="M188.8 1347.6L196.5 1350.0L194.1 1364.7L190.0 1361.8Z" fill="#fff" stroke="#fff" stroke-width="2" stroke-linejoin="round"/>
<path d="M177.1 1404.4L193.5 1400.6L191.2 1414.1L179.4 1412.4Z" fill="#fff" stroke="#fff" stroke-width="2" stroke-linejoin="round"/>
<g fill="#EB9BA6"><circle cx="174.9" cy="1482.2" r="5.7"/><circle cx="169.3" cy="1547.5" r="5.7"/><circle cx="170.3" cy="1552.7" r="5.7"/></g>
<path d="M162.6 1722.0L162.6 1640.7L163.8 1638.5L165.0 1636.3L167.7 1635.6L169.6 1634.0L169.3 1630.6L172.3 1629.7L173.3 1627.3L175.2 1625.6L178.1 1623.8L180.9 1625.6L183.7 1623.7L186.6 1625.6L187.4 1628.0L189.5 1630.2L190.0 1632.7L189.1 1635.6L191.3 1634.8L193.9 1635.9L195.6 1632.7L197.9 1632.5L200.4 1633.1L203.3 1631.6L205.5 1629.3L207.7 1631.3L210.2 1630.0L212.6 1629.4L214.8 1631.9L217.4 1628.3L219.6 1631.7L222.1 1629.6L224.4 1630.6L226.4 1628.8L228.7 1628.3L231.2 1628.6L233.9 1630.2L235.7 1627.2L238.3 1628.1L240.8 1628.0L243.4 1627.8L245.7 1626.3L248.4 1626.6L250.6 1624.3L253.4 1625.6L257.2 1623.0L259.9 1621.5L262.3 1622.4L264.7 1624.5L267.3 1623.8L269.8 1624.3L272.2 1623.3L274.8 1624.1L277.3 1623.4L279.8 1622.5L282.4 1623.0L284.4 1625.3L287.1 1626.3L290.4 1625.9L292.5 1628.1L294.9 1629.3L297.5 1630.1L299.5 1632.3L302.5 1631.9L303.4 1634.6L306.4 1635.8L305.7 1639.6L308.9 1640.7L311.9 1641.0L313.5 1643.6L314.9 1646.3L317.7 1647.0L320.0 1648.5L319.8 1651.2L322.5 1652.5L321.3 1655.7L322.0 1658.0L324.0 1659.6L325.3 1661.8L325.8 1664.5L329.1 1665.2L329.4 1668.1L331.5 1669.7L332.5 1672.4L333.8 1674.9L335.5 1677.2L336.6 1679.8L336.7 1682.6L337.6 1685.1L340.5 1686.3L341.6 1688.6L340.4 1691.0L342.1 1694.1L339.0 1696.0L339.1 1698.7L339.5 1701.4L339.2 1704.4L340.7 1706.7L342.9 1708.8L341.4 1711.5L339.0 1713.3L336.6 1715.1L335.3 1722.0Z" fill="#1E8CFF"/>
<path d="M163.2 1650.1L168.9 1649.8L167.7 1655.8L163.2 1655.2Z" fill="#fff"/>
<path d="M163.2 1670.3L167.4 1669.9L166.6 1674.7L163.2 1674.1Z" fill="#fff"/>
<path d="M163.2 1685.1L166.1 1684.8L165.9 1688.6L163.2 1688.3Z" fill="#fff"/></g>
<rect x="163.3" y="969.2" width="751.5" height="751.4" fill="none" stroke="#7a7a7a" stroke-width="2.4"/>
<text x="161.8" y="1759.5" text-anchor="middle">0</text>
<text x="349.7" y="1759.5" text-anchor="middle">50000</text>
<text x="537.5" y="1759.5" text-anchor="middle">100000</text>
<text x="725.4" y="1759.5" text-anchor="middle">150000</text>
<text x="913.3" y="1759.5" text-anchor="middle">200000</text>
<text x="140.3" y="1730.4" text-anchor="end">0</text>
<text x="140.3" y="1636.3" text-anchor="end">25000</text>
<text x="140.3" y="1542.3" text-anchor="end">50000</text>
<text x="140.3" y="1448.2" text-anchor="end">75000</text>
<text x="140.3" y="1354.2" text-anchor="end">100000</text>
<text x="140.3" y="1260.1" text-anchor="end">125000</text>
<text x="140.3" y="1166.1" text-anchor="end">150000</text>
<text x="140.3" y="1072.0" text-anchor="end">175000</text>
<text x="140.3" y="979.0" text-anchor="end">200000</text>
<path d="M163.3 1720.6v13.8M163.3 969.2v-13.8M351.2 1720.6v13.8M351.2 969.2v-13.8M537.6 1720.6v13.8M537.6 969.2v-13.8M725.9 1720.6v13.8M725.9 969.2v-13.8M914.8 1720.6v13.8M914.8 969.2v-13.8M163.3 1720.6h-13.8M914.8 1720.6h13.8M163.3 1626.5h-13.8M914.8 1626.5h13.8M163.3 1532.5h-13.8M914.8 1532.5h13.8M163.3 1438.4h-13.8M914.8 1438.4h13.8M163.3 1344.4h-13.8M914.8 1344.4h13.8M163.3 1250.3h-13.8M914.8 1250.3h13.8M163.3 1156.3h-13.8M914.8 1156.3h13.8M163.3 1062.2h-13.8M914.8 1062.2h13.8M163.3 969.2h-13.8M914.8 969.2h13.8" fill="none" stroke="#7a7a7a" stroke-width="2.4"/>
<text x="537.5" y="1794.5" text-anchor="middle">x (km)</text>
<text transform="translate(22.2,1344.9) rotate(-90)" text-anchor="middle">y (km)</text>
</g>
<g id="panel4">
<clipPath id="c4"><rect x="1180.5" y="969.2" width="751.3" height="751.4"/></clipPath>
<g clip-path="url(#c4)"><path d="M1262.2 1211.6L1262.2 1211.4L1260.0 1202.2L1252.7 1183.1L1248.4 1191.7L1248.2 1192.1L1247.9 1192.5L1247.6 1192.8L1247.3 1193.1L1246.9 1193.4L1246.6 1193.6L1246.2 1193.8L1245.8 1194.0L1245.3 1194.1L1244.9 1194.2L1227.2 1196.4L1226.7 1196.5L1226.3 1196.4L1225.8 1196.4L1225.4 1196.3L1224.9 1196.1L1224.5 1196.0L1224.1 1195.7L1223.8 1195.5L1212.7 1186.6L1212.3 1186.3L1212.0 1186.0L1202.5 1174.5L1189.0 1176.0L1189.2 1179.9L1189.2 1180.0L1189.2 1204.3L1190.4 1222.4L1190.4 1223.0L1189.2 1240.5L1193.7 1254.0L1200.5 1267.5L1213.1 1277.9L1213.5 1278.1L1213.7 1278.5L1214.0 1278.8L1214.2 1279.1L1214.4 1279.5L1214.6 1279.9L1217.9 1289.9L1234.2 1306.2L1234.5 1306.6L1234.8 1306.9L1242.1 1317.9L1242.3 1318.3L1251.6 1335.6L1260.3 1341.1L1260.6 1341.3L1261.0 1341.6L1261.3 1341.9L1261.5 1342.3L1261.8 1342.7L1262.0 1343.1L1262.1 1343.5L1262.3 1343.9L1262.3 1344.4L1262.4 1344.8L1262.3 1345.3L1262.3 1345.7L1260.3 1355.6L1264.9 1360.1L1265.1 1360.4L1265.4 1360.7L1265.6 1361.1L1265.8 1361.5L1266.0 1361.9L1266.1 1362.3L1266.1 1362.8L1266.2 1363.2L1266.2 1363.6L1266.1 1364.1L1266.0 1364.5L1265.9 1364.9L1265.7 1365.3L1259.5 1377.5L1259.3 1377.9L1259.0 1378.2L1258.7 1378.6L1258.4 1378.9L1258.0 1379.1L1257.6 1379.4L1257.2 1379.6L1256.8 1379.7L1256.4 1379.8L1255.9 1379.9L1255.5 1379.9L1255.0 1379.9L1254.6 1379.8L1254.2 1379.7L1253.7 1379.6L1253.3 1379.4L1252.9 1379.1L1247.6 1375.5L1228.4 1383.6L1224.3 1393.7L1225.2 1403.3L1235.0 1416.4L1244.3 1425.7L1244.6 1426.0L1244.9 1426.4L1245.1 1426.8L1245.3 1427.2L1245.5 1427.6L1245.6 1428.1L1245.6 1428.5L1245.6 1429.0L1245.6 1429.4L1243.2 1448.5L1243.1 1449.1L1238.4 1468.2L1233.6 1487.2L1233.5 1487.6L1233.3 1488.0L1233.1 1488.4L1223.7 1504.9L1216.0 1522.4L1219.3 1537.7L1219.4 1538.1L1219.4 1538.6L1219.4 1539.0L1219.3 1539.4L1219.2 1539.8L1219.1 1540.2L1212.8 1557.1L1223.3 1571.8L1223.6 1572.2L1223.8 1572.6L1223.9 1573.0L1224.0 1573.4L1224.1 1573.8L1224.2 1574.3L1224.2 1574.7L1224.1 1575.1L1224.0 1575.6L1186.3 1724.1L1701.2 1721.0L1701.2 1706.6L1701.2 1706.1L1701.3 1705.7L1701.4 1705.2L1701.5 1704.8L1701.7 1704.4L1702.0 1704.0L1702.3 1703.6L1702.6 1703.3L1703.0 1703.0L1703.3 1702.7L1712.1 1697.5L1719.1 1688.7L1719.2 1688.6L1726.3 1680.0L1722.9 1675.4L1714.4 1665.3L1702.5 1661.9L1702.1 1661.7L1701.7 1661.5L1701.3 1661.3L1700.9 1661.0L1700.6 1660.7L1700.2 1660.3L1700.0 1660.0L1699.7 1659.6L1692.2 1644.5L1692.0 1644.0L1691.9 1643.6L1691.8 1643.1L1691.7 1642.7L1691.7 1642.2L1691.8 1641.8L1691.9 1641.3L1692.0 1640.9L1692.2 1640.4L1699.7 1625.3L1705.3 1614.1L1709.6 1604.2L1704.1 1599.8L1689.5 1599.8L1684.0 1601.8L1684.0 1602.0L1683.7 1602.4L1683.5 1602.7L1683.2 1603.1L1682.8 1603.4L1682.5 1603.6L1682.1 1603.9L1681.7 1604.0L1681.3 1604.2L1680.9 1604.3L1680.4 1604.4L1680.0 1604.4L1679.5 1604.4L1677.8 1604.2L1675.2 1605.2L1675.0 1605.2L1663.7 1609.0L1663.3 1609.1L1662.8 1609.2L1662.4 1609.2L1661.9 1609.2L1661.5 1609.1L1661.0 1609.0L1660.6 1608.9L1660.2 1608.7L1659.8 1608.5L1659.5 1608.2L1651.1 1601.5L1625.2 1598.9L1624.8 1598.9L1624.4 1598.8L1623.9 1598.6L1623.5 1598.4L1623.2 1598.2L1622.8 1597.9L1622.5 1597.6L1622.2 1597.3L1621.9 1596.9L1621.7 1596.6L1621.5 1596.2L1621.4 1595.8L1621.3 1595.3L1621.2 1594.9L1621.2 1594.4L1621.2 1594.0L1621.3 1592.8L1621.5 1590.5L1621.9 1586.9L1622.4 1582.2L1622.4 1582.1L1622.5 1580.8L1622.6 1580.7L1623.3 1575.9L1623.3 1575.8L1623.5 1574.5L1623.5 1574.4L1624.5 1569.7L1624.5 1569.6L1624.8 1568.3L1624.8 1568.2L1626.0 1563.5L1626.0 1563.4L1626.4 1562.2L1626.4 1562.1L1627.5 1558.4L1628.2 1555.4L1628.7 1552.1L1629.1 1548.5L1629.3 1544.4L1629.3 1539.4L1629.1 1533.4L1628.7 1526.5L1628.0 1518.6L1627.2 1510.9L1626.4 1503.8L1625.6 1497.2L1624.7 1490.8L1624.7 1490.8L1624.6 1490.7L1624.6 1490.7L1623.7 1483.8L1623.7 1483.8L1623.7 1483.7L1623.7 1483.7L1622.7 1476.6L1622.7 1476.6L1622.7 1476.5L1622.7 1476.5L1621.8 1469.2L1621.8 1469.2L1621.7 1469.0L1621.7 1469.0L1620.9 1461.9L1619.8 1454.9L1618.5 1447.6L1617.0 1440.1L1615.3 1432.6L1613.7 1426.4L1611.9 1421.2L1610.2 1416.9L1607.9 1412.3L1607.8 1412.2L1607.1 1410.6L1607.0 1410.5L1604.4 1404.4L1604.4 1404.3L1603.8 1402.8L1603.8 1402.7L1601.4 1396.1L1601.4 1396.0L1600.9 1394.6L1600.9 1394.5L1598.8 1387.4L1598.8 1387.3L1598.4 1386.1L1598.4 1386.0L1596.5 1378.5L1596.5 1378.4L1596.4 1378.1L1596.4 1378.1L1594.9 1371.8L1594.9 1371.7L1594.8 1371.2L1594.8 1371.1L1593.7 1366.1L1593.7 1366.0L1593.5 1365.1L1593.5 1365.0L1592.8 1361.2L1592.8 1361.1L1592.5 1359.3L1592.5 1359.2L1592.3 1357.8L1592.2 1357.3L1591.9 1356.0L1591.3 1354.2L1590.4 1351.7L1589.3 1349.0L1588.0 1346.2L1586.7 1343.4L1585.4 1340.7L1583.9 1338.0L1582.2 1335.1L1580.2 1331.9L1577.8 1328.3L1575.1 1324.3L1569.8 1316.3L1567.1 1312.3L1567.1 1312.2L1566.4 1311.2L1566.4 1311.1L1563.8 1306.9L1563.8 1306.8L1563.2 1305.9L1563.2 1305.8L1560.7 1301.3L1560.7 1301.3L1560.2 1300.3L1560.1 1300.2L1557.8 1295.6L1557.8 1295.5L1557.3 1294.6L1557.3 1294.5L1555.1 1289.6L1555.1 1289.6L1555.0 1289.5L1555.0 1289.5L1553.0 1285.1L1553.0 1285.1L1553.0 1284.9L1553.0 1284.9L1551.2 1280.9L1551.2 1280.9L1551.1 1280.8L1551.1 1280.8L1549.6 1277.2L1549.6 1277.2L1549.5 1277.0L1549.5 1277.0L1548.4 1274.5L1547.6 1272.8L1546.7 1271.2L1545.8 1269.7L1544.8 1268.2L1543.4 1266.2L1541.8 1264.1L1539.9 1261.8L1537.9 1259.4L1536.0 1257.4L1534.3 1255.7L1532.7 1254.2L1530.6 1252.5L1530.5 1252.4L1529.6 1251.6L1529.5 1251.5L1526.8 1249.1L1526.7 1249.0L1525.9 1248.2L1525.8 1248.1L1523.1 1245.4L1523.1 1245.4L1522.3 1244.6L1522.3 1244.5L1519.6 1241.6L1519.5 1241.6L1518.9 1240.8L1518.8 1240.8L1516.2 1237.6L1516.1 1237.6L1515.8 1237.2L1515.7 1237.1L1513.2 1234.0L1513.1 1234.0L1512.8 1233.5L1512.7 1233.5L1510.3 1230.4L1510.3 1230.3L1509.9 1229.9L1509.9 1229.8L1507.5 1226.7L1507.5 1226.7L1507.1 1226.2L1507.1 1226.1L1505.1 1223.4L1503.2 1220.8L1501.0 1218.1L1498.6 1215.2L1495.7 1211.9L1495.7 1211.9L1495.1 1211.2L1495.0 1211.1L1492.0 1207.5L1492.0 1207.4L1491.4 1206.7L1491.4 1206.6L1488.5 1202.9L1488.5 1202.8L1487.9 1202.1L1487.9 1202.0L1485.1 1198.1L1485.1 1198.1L1484.6 1197.4L1484.5 1197.3L1482.4 1194.0L1480.8 1192.0L1479.7 1190.6L1478.9 1189.8L1477.4 1188.6L1474.9 1186.6L1472.6 1184.7L1470.4 1182.9L1468.8 1181.6L1467.5 1180.7L1465.9 1179.6L1463.9 1178.4L1461.2 1176.8L1461.2 1176.8L1460.3 1176.3L1460.3 1176.3L1457.0 1174.3L1457.0 1174.2L1456.2 1173.7L1456.2 1173.7L1452.8 1171.5L1452.8 1171.4L1452.1 1171.0L1452.1 1171.0L1448.6 1168.5L1448.6 1168.5L1448.0 1168.1L1448.0 1168.0L1444.4 1165.4L1444.2 1165.2L1442.0 1163.4L1441.8 1163.2L1438.7 1160.3L1438.6 1160.1L1436.4 1157.9L1436.2 1157.7L1433.6 1154.6L1433.4 1154.4L1431.4 1151.8L1431.2 1151.6L1429.0 1148.2L1428.9 1148.0L1427.2 1145.1L1427.0 1144.8L1425.6 1141.9L1424.4 1139.8L1423.2 1137.8L1422.9 1137.4L1414.6 1147.8L1408.2 1160.7L1408.0 1161.1L1407.7 1161.5L1407.4 1161.8L1396.3 1172.9L1395.9 1173.2L1395.6 1173.5L1395.2 1173.7L1394.8 1173.9L1394.4 1174.1L1394.0 1174.2L1393.5 1174.2L1393.1 1174.3L1392.7 1174.2L1392.2 1174.2L1391.8 1174.1L1391.4 1173.9L1391.0 1173.7L1390.6 1173.5L1390.3 1173.3L1389.9 1173.0L1389.6 1172.6L1389.4 1172.3L1389.1 1171.9L1388.9 1171.5L1384.5 1161.1L1373.5 1169.0L1373.5 1169.0L1351.3 1184.5L1350.9 1184.8L1350.5 1185.0L1350.0 1185.1L1349.6 1185.3L1349.1 1185.3L1348.7 1185.4L1348.2 1185.3L1347.8 1185.3L1347.3 1185.2L1346.9 1185.0L1346.5 1184.8L1346.1 1184.6L1345.8 1184.3L1345.4 1184.0L1345.1 1183.6L1339.8 1176.8L1338.0 1177.8L1333.1 1182.1L1332.0 1201.0L1332.0 1201.5L1331.9 1201.9L1331.7 1202.3L1331.5 1202.8L1331.3 1203.1L1331.1 1203.5L1330.8 1203.9L1330.4 1204.2L1330.1 1204.4L1329.7 1204.7L1329.3 1204.9L1328.9 1205.0L1328.5 1205.2L1328.0 1205.2L1319.3 1206.2L1314.3 1215.2L1314.1 1215.5L1313.8 1215.9L1313.5 1216.2L1313.2 1216.5L1312.8 1216.8L1312.5 1217.0L1312.1 1217.2L1311.6 1217.3L1311.2 1217.4L1310.8 1217.5L1297.9 1218.4L1295.1 1226.6L1295.0 1227.0L1294.8 1227.4L1294.6 1227.8L1294.3 1228.1L1294.0 1228.4L1293.7 1228.7L1293.3 1229.0L1292.9 1229.2L1292.5 1229.4L1292.1 1229.5L1291.7 1229.6L1291.2 1229.7L1290.8 1229.7L1290.4 1229.6L1269.6 1227.2L1269.2 1227.1L1268.7 1227.0L1268.3 1226.9L1267.9 1226.7L1267.6 1226.4L1267.2 1226.2L1266.9 1225.9L1266.6 1225.5L1266.3 1225.2L1266.1 1224.8L1265.9 1224.4L1265.8 1224.0Z" fill="#EB9BA6" stroke="#EB9BA6" stroke-width="7.3999999999999995" stroke-linejoin="round"/><path d="M1262.2 1211.6L1262.2 1211.4L1260.0 1202.2L1252.7 1183.1L1248.4 1191.7L1248.2 1192.1L1247.9 1192.5L1247.6 1192.8L1247.3 1193.1L1246.9 1193.4L1246.6 1193.6L1246.2 1193.8L1245.8 1194.0L1245.3 1194.1L1244.9 1194.2L1227.2 1196.4L1226.7 1196.5L1226.3 1196.4L1225.8 1196.4L1225.4 1196.3L1224.9 1196.1L1224.5 1196.0L1224.1 1195.7L1223.8 1195.5L1212.7 1186.6L1212.3 1186.3L1212.0 1186.0L1202.5 1174.5L1189.0 1176.0L1189.2 1179.9L1189.2 1180.0L1189.2 1204.3L1190.4 1222.4L1190.4 1223.0L1189.2 1240.5L1193.7 1254.0L1200.5 1267.5L1213.1 1277.9L1213.5 1278.1L1213.7 1278.5L1214.0 1278.8L1214.2 1279.1L1214.4 1279.5L1214.6 1279.9L1217.9 1289.9L1234.2 1306.2L1234.5 1306.6L1234.8 1306.9L1242.1 1317.9L1242.3 1318.3L1251.6 1335.6L1260.3 1341.1L1260.6 1341.3L1261.0 1341.6L1261.3 1341.9L1261.5 1342.3L1261.8 1342.7L1262.0 1343.1L1262.1 1343.5L1262.3 1343.9L1262.3 1344.4L1262.4 1344.8L1262.3 1345.3L1262.3 1345.7L1260.3 1355.6L1264.9 1360.1L1265.1 1360.4L1265.4 1360.7L1265.6 1361.1L1265.8 1361.5L1266.0 1361.9L1266.1 1362.3L1266.1 1362.8L1266.2 1363.2L1266.2 1363.6L1266.1 1364.1L1266.0 1364.5L1265.9 1364.9L1265.7 1365.3L1259.5 1377.5L1259.3 1377.9L1259.0 1378.2L1258.7 1378.6L1258.4 1378.9L1258.0 1379.1L1257.6 1379.4L1257.2 1379.6L1256.8 1379.7L1256.4 1379.8L1255.9 1379.9L1255.5 1379.9L1255.0 1379.9L1254.6 1379.8L1254.2 1379.7L1253.7 1379.6L1253.3 1379.4L1252.9 1379.1L1247.6 1375.5L1228.4 1383.6L1224.3 1393.7L1225.2 1403.3L1235.0 1416.4L1244.3 1425.7L1244.6 1426.0L1244.9 1426.4L1245.1 1426.8L1245.3 1427.2L1245.5 1427.6L1245.6 1428.1L1245.6 1428.5L1245.6 1429.0L1245.6 1429.4L1243.2 1448.5L1243.1 1449.1L1238.4 1468.2L1233.6 1487.2L1233.5 1487.6L1233.3 1488.0L1233.1 1488.4L1223.7 1504.9L1216.0 1522.4L1219.3 1537.7L1219.4 1538.1L1219.4 1538.6L1219.4 1539.0L1219.3 1539.4L1219.2 1539.8L1219.1 1540.2L1212.8 1557.1L1223.3 1571.8L1223.6 1572.2L1223.8 1572.6L1223.9 1573.0L1224.0 1573.4L1224.1 1573.8L1224.2 1574.3L1224.2 1574.7L1224.1 1575.1L1224.0 1575.6L1186.3 1724.1L1701.2 1721.0L1701.2 1706.6L1701.2 1706.1L1701.3 1705.7L1701.4 1705.2L1701.5 1704.8L1701.7 1704.4L1702.0 1704.0L1702.3 1703.6L1702.6 1703.3L1703.0 1703.0L1703.3 1702.7L1712.1 1697.5L1719.1 1688.7L1719.2 1688.6L1726.3 1680.0L1722.9 1675.4L1714.4 1665.3L1702.5 1661.9L1702.1 1661.7L1701.7 1661.5L1701.3 1661.3L1700.9 1661.0L1700.6 1660.7L1700.2 1660.3L1700.0 1660.0L1699.7 1659.6L1692.2 1644.5L1692.0 1644.0L1691.9 1643.6L1691.8 1643.1L1691.7 1642.7L1691.7 1642.2L1691.8 1641.8L1691.9 1641.3L1692.0 1640.9L1692.2 1640.4L1699.7 1625.3L1705.3 1614.1L1709.6 1604.2L1704.1 1599.8L1689.5 1599.8L1684.0 1601.8L1684.0 1602.0L1683.7 1602.4L1683.5 1602.7L1683.2 1603.1L1682.8 1603.4L1682.5 1603.6L1682.1 1603.9L1681.7 1604.0L1681.3 1604.2L1680.9 1604.3L1680.4 1604.4L1680.0 1604.4L1679.5 1604.4L1677.8 1604.2L1675.2 1605.2L1675.0 1605.2L1663.7 1609.0L1663.3 1609.1L1662.8 1609.2L1662.4 1609.2L1661.9 1609.2L1661.5 1609.1L1661.0 1609.0L1660.6 1608.9L1660.2 1608.7L1659.8 1608.5L1659.5 1608.2L1651.1 1601.5L1625.2 1598.9L1624.8 1598.9L1624.4 1598.8L1623.9 1598.6L1623.5 1598.4L1623.2 1598.2L1622.8 1597.9L1622.5 1597.6L1622.2 1597.3L1621.9 1596.9L1621.7 1596.6L1621.5 1596.2L1621.4 1595.8L1621.3 1595.3L1621.2 1594.9L1621.2 1594.4L1621.2 1594.0L1621.3 1592.8L1621.5 1590.5L1621.9 1586.9L1622.4 1582.2L1622.4 1582.1L1622.5 1580.8L1622.6 1580.7L1623.3 1575.9L1623.3 1575.8L1623.5 1574.5L1623.5 1574.4L1624.5 1569.7L1624.5 1569.6L1624.8 1568.3L1624.8 1568.2L1626.0 1563.5L1626.0 1563.4L1626.4 1562.2L1626.4 1562.1L1627.5 1558.4L1628.2 1555.4L1628.7 1552.1L1629.1 1548.5L1629.3 1544.4L1629.3 1539.4L1629.1 1533.4L1628.7 1526.5L1628.0 1518.6L1627.2 1510.9L1626.4 1503.8L1625.6 1497.2L1624.7 1490.8L1624.7 1490.8L1624.6 1490.7L1624.6 1490.7L1623.7 1483.8L1623.7 1483.8L1623.7 1483.7L1623.7 1483.7L1622.7 1476.6L1622.7 1476.6L1622.7 1476.5L1622.7 1476.5L1621.8 1469.2L1621.8 1469.2L1621.7 1469.0L1621.7 1469.0L1620.9 1461.9L1619.8 1454.9L1618.5 1447.6L1617.0 1440.1L1615.3 1432.6L1613.7 1426.4L1611.9 1421.2L1610.2 1416.9L1607.9 1412.3L1607.8 1412.2L1607.1 1410.6L1607.0 1410.5L1604.4 1404.4L1604.4 1404.3L1603.8 1402.8L1603.8 1402.7L1601.4 1396.1L1601.4 1396.0L1600.9 1394.6L1600.9 1394.5L1598.8 1387.4L1598.8 1387.3L1598.4 1386.1L1598.4 1386.0L1596.5 1378.5L1596.5 1378.4L1596.4 1378.1L1596.4 1378.1L1594.9 1371.8L1594.9 1371.7L1594.8 1371.2L1594.8 1371.1L1593.7 1366.1L1593.7 1366.0L1593.5 1365.1L1593.5 1365.0L1592.8 1361.2L1592.8 1361.1L1592.5 1359.3L1592.5 1359.2L1592.3 1357.8L1592.2 1357.3L1591.9 1356.0L1591.3 1354.2L1590.4 1351.7L1589.3 1349.0L1588.0 1346.2L1586.7 1343.4L1585.4 1340.7L1583.9 1338.0L1582.2 1335.1L1580.2 1331.9L1577.8 1328.3L1575.1 1324.3L1569.8 1316.3L1567.1 1312.3L1567.1 1312.2L1566.4 1311.2L1566.4 1311.1L1563.8 1306.9L1563.8 1306.8L1563.2 1305.9L1563.2 1305.8L1560.7 1301.3L1560.7 1301.3L1560.2 1300.3L1560.1 1300.2L1557.8 1295.6L1557.8 1295.5L1557.3 1294.6L1557.3 1294.5L1555.1 1289.6L1555.1 1289.6L1555.0 1289.5L1555.0 1289.5L1553.0 1285.1L1553.0 1285.1L1553.0 1284.9L1553.0 1284.9L1551.2 1280.9L1551.2 1280.9L1551.1 1280.8L1551.1 1280.8L1549.6 1277.2L1549.6 1277.2L1549.5 1277.0L1549.5 1277.0L1548.4 1274.5L1547.6 1272.8L1546.7 1271.2L1545.8 1269.7L1544.8 1268.2L1543.4 1266.2L1541.8 1264.1L1539.9 1261.8L1537.9 1259.4L1536.0 1257.4L1534.3 1255.7L1532.7 1254.2L1530.6 1252.5L1530.5 1252.4L1529.6 1251.6L1529.5 1251.5L1526.8 1249.1L1526.7 1249.0L1525.9 1248.2L1525.8 1248.1L1523.1 1245.4L1523.1 1245.4L1522.3 1244.6L1522.3 1244.5L1519.6 1241.6L1519.5 1241.6L1518.9 1240.8L1518.8 1240.8L1516.2 1237.6L1516.1 1237.6L1515.8 1237.2L1515.7 1237.1L1513.2 1234.0L1513.1 1234.0L1512.8 1233.5L1512.7 1233.5L1510.3 1230.4L1510.3 1230.3L1509.9 1229.9L1509.9 1229.8L1507.5 1226.7L1507.5 1226.7L1507.1 1226.2L1507.1 1226.1L1505.1 1223.4L1503.2 1220.8L1501.0 1218.1L1498.6 1215.2L1495.7 1211.9L1495.7 1211.9L1495.1 1211.2L1495.0 1211.1L1492.0 1207.5L1492.0 1207.4L1491.4 1206.7L1491.4 1206.6L1488.5 1202.9L1488.5 1202.8L1487.9 1202.1L1487.9 1202.0L1485.1 1198.1L1485.1 1198.1L1484.6 1197.4L1484.5 1197.3L1482.4 1194.0L1480.8 1192.0L1479.7 1190.6L1478.9 1189.8L1477.4 1188.6L1474.9 1186.6L1472.6 1184.7L1470.4 1182.9L1468.8 1181.6L1467.5 1180.7L1465.9 1179.6L1463.9 1178.4L1461.2 1176.8L1461.2 1176.8L1460.3 1176.3L1460.3 1176.3L1457.0 1174.3L1457.0 1174.2L1456.2 1173.7L1456.2 1173.7L1452.8 1171.5L1452.8 1171.4L1452.1 1171.0L1452.1 1171.0L1448.6 1168.5L1448.6 1168.5L1448.0 1168.1L1448.0 1168.0L1444.4 1165.4L1444.2 1165.2L1442.0 1163.4L1441.8 1163.2L1438.7 1160.3L1438.6 1160.1L1436.4 1157.9L1436.2 1157.7L1433.6 1154.6L1433.4 1154.4L1431.4 1151.8L1431.2 1151.6L1429.0 1148.2L1428.9 1148.0L1427.2 1145.1L1427.0 1144.8L1425.6 1141.9L1424.4 1139.8L1423.2 1137.8L1422.9 1137.4L1414.6 1147.8L1408.2 1160.7L1408.0 1161.1L1407.7 1161.5L1407.4 1161.8L1396.3 1172.9L1395.9 1173.2L1395.6 1173.5L1395.2 1173.7L1394.8 1173.9L1394.4 1174.1L1394.0 1174.2L1393.5 1174.2L1393.1 1174.3L1392.7 1174.2L1392.2 1174.2L1391.8 1174.1L1391.4 1173.9L1391.0 1173.7L1390.6 1173.5L1390.3 1173.3L1389.9 1173.0L1389.6 1172.6L1389.4 1172.3L1389.1 1171.9L1388.9 1171.5L1384.5 1161.1L1373.5 1169.0L1373.5 1169.0L1351.3 1184.5L1350.9 1184.8L1350.5 1185.0L1350.0 1185.1L1349.6 1185.3L1349.1 1185.3L1348.7 1185.4L1348.2 1185.3L1347.8 1185.3L1347.3 1185.2L1346.9 1185.0L1346.5 1184.8L1346.1 1184.6L1345.8 1184.3L1345.4 1184.0L1345.1 1183.6L1339.8 1176.8L1338.0 1177.8L1333.1 1182.1L1332.0 1201.0L1332.0 1201.5L1331.9 1201.9L1331.7 1202.3L1331.5 1202.8L1331.3 1203.1L1331.1 1203.5L1330.8 1203.9L1330.4 1204.2L1330.1 1204.4L1329.7 1204.7L1329.3 1204.9L1328.9 1205.0L1328.5 1205.2L1328.0 1205.2L1319.3 1206.2L1314.3 1215.2L1314.1 1215.5L1313.8 1215.9L1313.5 1216.2L1313.2 1216.5L1312.8 1216.8L1312.5 1217.0L1312.1 1217.2L1311.6 1217.3L1311.2 1217.4L1310.8 1217.5L1297.9 1218.4L1295.1 1226.6L1295.0 1227.0L1294.8 1227.4L1294.6 1227.8L1294.3 1228.1L1294.0 1228.4L1293.7 1228.7L1293.3 1229.0L1292.9 1229.2L1292.5 1229.4L1292.1 1229.5L1291.7 1229.6L1291.2 1229.7L1290.8 1229.7L1290.4 1229.6L1269.6 1227.2L1269.2 1227.1L1268.7 1227.0L1268.3 1226.9L1267.9 1226.7L1267.6 1226.4L1267.2 1226.2L1266.9 1225.9L1266.6 1225.5L1266.3 1225.2L1266.1 1224.8L1265.9 1224.4L1265.8 1224.0Z" fill="none" stroke="#EB9BA6" stroke-width="9.6" stroke-linecap="round" stroke-dasharray="0 7.6"/>
<path d="M1438.2 1133.5L1439.4 1131.0L1440.1 1129.7L1440.4 1130.3L1442.0 1133.2L1443.7 1136.5L1444.5 1137.9L1446.7 1141.2L1447.7 1142.5L1450.4 1145.6L1451.4 1146.7L1454.5 1149.6L1455.6 1150.5L1459.1 1153.1L1459.4 1153.3L1462.8 1155.8L1463.2 1156.0L1466.5 1158.2L1466.8 1158.5L1470.1 1160.5L1470.5 1160.7L1473.4 1162.4L1475.9 1163.9L1478.1 1165.4L1480.1 1166.8L1482.1 1168.4L1484.3 1170.2L1486.7 1172.2L1489.2 1174.3L1491.4 1176.1L1493.3 1178.0L1495.4 1180.4L1497.6 1183.3L1500.0 1187.0L1500.3 1187.3L1503.0 1191.2L1503.3 1191.6L1506.2 1195.3L1506.4 1195.7L1509.4 1199.3L1509.7 1199.7L1512.7 1203.1L1515.4 1206.3L1517.9 1209.4L1520.1 1212.3L1522.2 1215.3L1522.4 1215.5L1524.7 1218.7L1524.9 1218.9L1527.4 1222.0L1527.5 1222.2L1530.1 1225.3L1530.3 1225.5L1532.9 1228.7L1533.3 1229.0L1535.9 1231.9L1536.3 1232.3L1539.0 1234.9L1539.4 1235.3L1542.0 1237.8L1542.5 1238.2L1544.9 1240.2L1547.2 1242.3L1549.4 1244.5L1551.8 1247.0L1554.2 1249.8L1556.4 1252.6L1558.4 1255.1L1560.1 1257.6L1561.6 1259.8L1562.9 1262.0L1564.2 1264.4L1565.4 1266.8L1566.6 1269.7L1566.6 1269.8L1568.2 1273.3L1568.2 1273.4L1570.0 1277.4L1570.0 1277.4L1572.0 1281.9L1572.0 1281.9L1574.2 1286.8L1574.5 1287.2L1576.8 1291.9L1577.0 1292.4L1579.5 1296.8L1579.7 1297.3L1582.3 1301.5L1582.6 1302.0L1585.3 1306.0L1590.6 1314.0L1593.3 1318.0L1595.8 1321.8L1598.1 1325.4L1600.1 1328.8L1601.9 1332.1L1603.5 1335.3L1605.0 1338.5L1606.4 1341.8L1607.7 1345.0L1608.9 1348.1L1609.7 1350.8L1610.4 1353.1L1610.7 1355.0L1611.0 1357.0L1611.1 1357.9L1611.8 1361.7L1611.9 1362.2L1613.0 1367.2L1613.0 1367.5L1614.5 1373.8L1614.6 1374.0L1616.4 1381.5L1616.6 1382.1L1618.7 1389.2L1618.9 1389.8L1621.3 1396.4L1621.6 1397.1L1624.2 1403.3L1624.5 1404.0L1627.1 1409.2L1629.4 1414.7L1631.5 1421.0L1633.4 1428.2L1635.2 1436.2L1636.8 1444.2L1638.2 1451.9L1639.3 1459.4L1640.2 1466.7L1640.2 1466.8L1641.2 1474.1L1641.2 1474.2L1642.1 1481.2L1642.1 1481.3L1643.1 1488.1L1643.1 1488.2L1644.0 1494.7L1644.9 1501.6L1645.7 1508.9L1646.5 1516.8L1647.2 1525.1L1647.7 1532.5L1647.9 1539.1L1647.9 1544.9L1647.6 1549.9L1647.1 1554.6L1646.4 1559.0L1645.5 1563.1L1644.2 1567.4L1644.0 1568.0L1642.9 1572.7L1642.7 1573.4L1641.8 1578.1L1641.7 1578.7L1641.0 1583.4L1640.9 1584.1L1640.4 1588.8L1640.0 1592.3L1639.8 1594.7L1639.7 1595.9" fill="none" stroke="#EB9BA6" stroke-width="12" stroke-dasharray="17 5"/>
<path d="M1430.6 1129.7L1431.9 1127.2L1433.1 1124.7L1434.7 1121.6L1436.1 1119.4L1437.6 1117.7L1438.9 1116.6L1439.8 1116.2L1440.0 1116.2L1440.5 1116.4L1441.9 1117.6L1443.8 1120.1L1445.8 1123.0L1447.7 1126.0L1449.5 1129.3L1451.2 1132.7L1451.5 1133.2L1453.8 1136.6L1454.1 1137.0L1456.8 1140.1L1457.1 1140.5L1460.2 1143.4L1460.6 1143.7L1464.2 1146.4L1464.3 1146.4L1467.7 1148.9L1467.8 1149.0L1471.2 1151.2L1471.3 1151.3L1474.5 1153.3L1474.7 1153.4L1477.7 1155.1L1480.5 1156.8L1483.0 1158.5L1485.2 1160.1L1487.4 1161.8L1489.7 1163.7L1492.1 1165.7L1494.6 1167.8L1497.1 1169.8L1499.5 1172.2L1502.0 1175.1L1504.5 1178.4L1507.0 1182.3L1507.1 1182.4L1509.9 1186.3L1510.0 1186.4L1512.9 1190.2L1513.0 1190.3L1516.0 1194.0L1516.1 1194.1L1519.2 1197.6L1522.0 1201.0L1524.6 1204.2L1526.9 1207.3L1529.1 1210.4L1529.2 1210.5L1531.5 1213.6L1531.6 1213.7L1534.0 1216.8L1534.1 1216.9L1536.6 1220.0L1536.7 1220.0L1539.4 1223.2L1539.5 1223.3L1542.1 1226.2L1542.3 1226.3L1544.9 1229.0L1545.1 1229.1L1547.7 1231.6L1547.9 1231.7L1550.5 1233.9L1553.0 1236.1L1555.5 1238.7L1558.1 1241.4L1560.6 1244.4L1563.0 1247.3L1565.1 1250.1L1567.0 1252.7L1568.7 1255.2L1570.3 1257.8L1571.7 1260.5L1573.1 1263.3L1574.3 1266.3L1574.4 1266.4L1575.9 1269.9L1575.9 1269.9L1577.7 1273.9L1577.7 1274.0L1579.7 1278.4L1579.7 1278.4L1581.9 1283.3L1582.0 1283.5L1584.3 1288.1L1584.4 1288.3L1586.9 1292.7L1587.0 1292.9L1589.5 1297.1L1589.6 1297.3L1592.3 1301.3L1597.6 1309.3L1600.3 1313.3L1602.9 1317.2L1605.3 1321.0L1607.4 1324.6L1609.4 1328.2L1611.1 1331.6L1612.7 1335.0L1614.2 1338.5L1615.6 1341.9L1616.9 1345.3L1617.9 1348.4L1618.6 1351.2L1619.1 1353.7L1619.4 1356.1L1619.4 1356.4L1620.1 1360.2L1620.1 1360.4L1621.2 1365.4L1621.2 1365.5L1622.7 1371.8L1622.8 1371.9L1624.6 1379.5L1624.7 1379.7L1626.8 1386.7L1626.9 1387.0L1629.3 1393.6L1629.4 1393.8L1631.9 1400.0L1632.1 1400.2L1634.8 1405.7L1637.3 1411.8L1639.6 1418.6L1641.6 1426.1L1643.5 1434.5L1645.1 1442.6L1646.5 1450.5L1647.7 1458.2L1648.6 1465.7L1648.6 1465.7L1649.5 1473.0L1649.5 1473.0L1650.5 1480.1L1650.5 1480.1L1651.4 1487.0L1651.4 1487.0L1652.4 1493.6L1653.3 1500.6L1654.1 1508.0L1654.9 1516.0L1655.6 1524.4L1656.1 1532.1L1656.4 1539.0L1656.3 1545.2L1656.1 1550.6L1655.5 1555.7L1654.7 1560.6L1653.7 1565.3L1652.3 1569.9L1652.2 1570.1L1651.1 1574.8L1651.0 1575.0L1650.1 1579.7L1650.0 1580.0L1649.3 1584.7L1649.3 1584.9L1648.8 1589.6L1648.5 1593.2L1648.2 1595.5L1648.1 1596.7" fill="none" stroke="#EB9BA6" stroke-width="9.6" stroke-linecap="round" stroke-dasharray="0 8.3" stroke-dashoffset="0"/>
<path d="M1438.2 1133.5L1439.4 1131.0L1440.1 1129.7L1440.4 1130.3L1442.0 1133.2L1443.7 1136.5L1444.5 1137.9L1446.7 1141.2L1447.7 1142.5L1450.4 1145.6L1451.4 1146.7L1454.5 1149.6L1455.6 1150.5L1459.1 1153.1L1459.4 1153.3L1462.8 1155.8L1463.2 1156.0L1466.5 1158.2L1466.8 1158.5L1470.1 1160.5L1470.5 1160.7L1473.4 1162.4L1475.9 1163.9L1478.1 1165.4L1480.1 1166.8L1482.1 1168.4L1484.3 1170.2L1486.7 1172.2L1489.2 1174.3L1491.4 1176.1L1493.3 1178.0L1495.4 1180.4L1497.6 1183.3L1500.0 1187.0L1500.3 1187.3L1503.0 1191.2L1503.3 1191.6L1506.2 1195.3L1506.4 1195.7L1509.4 1199.3L1509.7 1199.7L1512.7 1203.1L1515.4 1206.3L1517.9 1209.4L1520.1 1212.3L1522.2 1215.3L1522.4 1215.5L1524.7 1218.7L1524.9 1218.9L1527.4 1222.0L1527.5 1222.2L1530.1 1225.3L1530.3 1225.5L1532.9 1228.7L1533.3 1229.0L1535.9 1231.9L1536.3 1232.3L1539.0 1234.9L1539.4 1235.3L1542.0 1237.8L1542.5 1238.2L1544.9 1240.2L1547.2 1242.3L1549.4 1244.5L1551.8 1247.0L1554.2 1249.8L1556.4 1252.6L1558.4 1255.1L1560.1 1257.6L1561.6 1259.8L1562.9 1262.0L1564.2 1264.4L1565.4 1266.8L1566.6 1269.7L1566.6 1269.8L1568.2 1273.3L1568.2 1273.4L1570.0 1277.4L1570.0 1277.4L1572.0 1281.9L1572.0 1281.9L1574.2 1286.8L1574.5 1287.2L1576.8 1291.9L1577.0 1292.4L1579.5 1296.8L1579.7 1297.3L1582.3 1301.5L1582.6 1302.0L1585.3 1306.0L1590.6 1314.0L1593.3 1318.0L1595.8 1321.8L1598.1 1325.4L1600.1 1328.8L1601.9 1332.1L1603.5 1335.3L1605.0 1338.5L1606.4 1341.8L1607.7 1345.0L1608.9 1348.1L1609.7 1350.8L1610.4 1353.1L1610.7 1355.0L1611.0 1357.0L1611.1 1357.9L1611.8 1361.7L1611.9 1362.2L1613.0 1367.2L1613.0 1367.5L1614.5 1373.8L1614.6 1374.0L1616.4 1381.5L1616.6 1382.1L1618.7 1389.2L1618.9 1389.8L1621.3 1396.4L1621.6 1397.1L1624.2 1403.3L1624.5 1404.0L1627.1 1409.2L1629.4 1414.7L1631.5 1421.0L1633.4 1428.2L1635.2 1436.2L1636.8 1444.2L1638.2 1451.9L1639.3 1459.4L1640.2 1466.7L1640.2 1466.8L1641.2 1474.1L1641.2 1474.2L1642.1 1481.2L1642.1 1481.3L1643.1 1488.1L1643.1 1488.2L1644.0 1494.7L1644.9 1501.6L1645.7 1508.9L1646.5 1516.8L1647.2 1525.1L1647.7 1532.5L1647.9 1539.1L1647.9 1544.9L1647.6 1549.9L1647.1 1554.6L1646.4 1559.0L1645.5 1563.1L1644.2 1567.4L1644.0 1568.0L1642.9 1572.7L1642.7 1573.4L1641.8 1578.1L1641.7 1578.7L1641.0 1583.4L1640.9 1584.1L1640.4 1588.8L1640.0 1592.3L1639.8 1594.7L1639.7 1595.9" fill="none" stroke="#EB9BA6" stroke-width="9.6" stroke-linecap="round" stroke-dasharray="0 8.3" stroke-dashoffset="3.1"/>
<path d="M1439.1 1145.0L1439.7 1145.9L1441.3 1148.0L1444.0 1151.1L1445.7 1152.9L1448.8 1155.7L1450.5 1157.2L1454.1 1159.9L1454.5 1160.2L1458.0 1162.6L1458.5 1163.0L1461.8 1165.2L1462.4 1165.6L1465.6 1167.6L1466.3 1168.0L1469.1 1169.6L1471.4 1171.0L1473.3 1172.3L1475.0 1173.5L1476.8 1174.9L1479.0 1176.8L1481.4 1178.7L1483.9 1180.7L1485.8 1182.3L1487.1 1183.7L1488.8 1185.6L1490.7 1188.1L1493.0 1191.6L1493.4 1192.2L1496.2 1196.1L1496.6 1196.7L1499.5 1200.4L1499.9 1201.0L1502.9 1204.7L1503.4 1205.2L1506.4 1208.6L1508.9 1211.7L1511.3 1214.6L1513.4 1217.3L1515.4 1220.2L1515.7 1220.6L1518.0 1223.7L1518.3 1224.1L1520.8 1227.2L1521.1 1227.6L1523.6 1230.7L1523.9 1231.0L1526.6 1234.1L1527.1 1234.7L1529.8 1237.6L1530.4 1238.2L1533.0 1240.9L1533.7 1241.5L1536.4 1244.0L1537.1 1244.6L1539.4 1246.5L1541.3 1248.3L1543.4 1250.4L1545.5 1252.6L1547.7 1255.2L1549.8 1257.8L1551.6 1260.2L1553.2 1262.3L1554.5 1264.3L1555.6 1266.2L1556.7 1268.2L1557.7 1270.3L1558.9 1273.0L1558.9 1273.1L1560.5 1276.7L1560.5 1276.8L1562.3 1280.8L1562.3 1280.9L1564.3 1285.3L1564.4 1285.4L1566.6 1290.3L1566.9 1291.0L1569.3 1295.7L1569.7 1296.4L1572.1 1300.9L1572.6 1301.6L1575.1 1305.8L1575.6 1306.6L1578.3 1310.6L1583.6 1318.6L1586.3 1322.6L1588.8 1326.4L1590.9 1329.8L1592.8 1333.0L1594.4 1336.0L1595.9 1338.9L1597.3 1342.0L1598.7 1345.0L1599.9 1348.0L1600.9 1350.9L1601.7 1353.1L1602.2 1355.0L1602.4 1356.3L1602.6 1358.0L1602.8 1359.4L1603.5 1363.2L1603.7 1363.9L1604.8 1369.0L1604.8 1369.4L1606.3 1375.7L1606.4 1376.0L1608.3 1383.5L1608.6 1384.5L1610.7 1391.6L1611.0 1392.6L1613.4 1399.2L1613.8 1400.4L1616.4 1406.5L1617.0 1407.8L1619.5 1412.7L1621.5 1417.6L1623.4 1423.5L1625.3 1430.2L1627.0 1438.0L1628.5 1445.7L1629.9 1453.3L1631.0 1460.5L1631.9 1467.8L1631.9 1467.9L1632.8 1475.2L1632.8 1475.3L1633.8 1482.3L1633.8 1482.4L1634.7 1489.3L1634.7 1489.4L1635.7 1495.8L1636.5 1502.6L1637.3 1509.8L1638.1 1517.6L1638.8 1525.7L1639.3 1532.9L1639.5 1539.2L1639.5 1544.7L1639.3 1549.3L1638.8 1553.5L1638.2 1557.4L1637.4 1561.0L1636.2 1565.0L1635.9 1566.0L1634.7 1570.7L1634.5 1571.7L1633.5 1576.4L1633.4 1577.5L1632.6 1582.2L1632.5 1583.2L1632.0 1587.9L1631.7 1591.5L1631.5 1593.8L1631.3 1595.0" fill="none" stroke="#EB9BA6" stroke-width="9.6" stroke-linecap="round" stroke-dasharray="0 8.3" stroke-dashoffset="5.7"/>
<path d="M1214.7 1519.3L1229.1 1483.2L1238.4 1459.9L1238.6 1459.6L1250.2 1436.3L1250.4 1436.0L1264.4 1412.6L1264.5 1412.5L1274.6 1397.3L1272.7 1393.8L1259.8 1404.2L1244.1 1423.2L1235.1 1442.3L1228.3 1462.8L1216.7 1509.2Z" fill="#EB9BA6" stroke="#EB9BA6" stroke-width="7.8" stroke-linejoin="round"/><path d="M1214.7 1519.3L1229.1 1483.2L1238.4 1459.9L1238.6 1459.6L1250.2 1436.3L1250.4 1436.0L1264.4 1412.6L1264.5 1412.5L1274.6 1397.3L1272.7 1393.8L1259.8 1404.2L1244.1 1423.2L1235.1 1442.3L1228.3 1462.8L1216.7 1509.2Z" fill="none" stroke="#EB9BA6" stroke-width="10" stroke-linecap="round" stroke-dasharray="0 7.5"/>
<path d="M1208.8 1129.5L1210.3 1139.0L1219.6 1148.2L1233.8 1150.3L1234.2 1150.3L1234.6 1150.4L1235.0 1150.6L1235.3 1150.8L1235.6 1151.0L1235.9 1151.3L1236.2 1151.5L1236.5 1151.9L1236.7 1152.2L1236.9 1152.5L1237.0 1152.9L1237.1 1153.3L1237.2 1153.7L1237.2 1154.1L1237.2 1154.5L1237.2 1154.9L1235.0 1168.2L1234.9 1168.6L1234.8 1169.0L1234.6 1169.4L1234.4 1169.7L1234.1 1170.1L1233.9 1170.4L1221.5 1182.7L1227.8 1187.8L1241.7 1186.0L1249.5 1170.5L1256.0 1148.8L1260.2 1127.7L1258.3 1119.9L1252.2 1129.7L1252.0 1130.0L1251.7 1130.3L1251.5 1130.5L1251.2 1130.8L1242.3 1137.4L1242.0 1137.7L1241.6 1137.9L1241.3 1138.0L1240.9 1138.1L1240.5 1138.2L1240.1 1138.2L1239.7 1138.2L1239.3 1138.2L1238.9 1138.1L1238.5 1138.0L1238.2 1137.8L1237.8 1137.6L1237.5 1137.4L1237.2 1137.2L1236.9 1136.9L1236.7 1136.6L1236.4 1136.2L1236.3 1135.9L1236.1 1135.5L1236.0 1135.1L1235.9 1134.7L1235.9 1134.3L1235.9 1133.9L1236.0 1133.5L1236.1 1133.1L1239.5 1121.1L1233.0 1118.5L1219.4 1122.4Z" fill="#EB9BA6" stroke="#EB9BA6" stroke-width="8.3" stroke-linejoin="round"/><path d="M1208.8 1129.5L1210.3 1139.0L1219.6 1148.2L1233.8 1150.3L1234.2 1150.3L1234.6 1150.4L1235.0 1150.6L1235.3 1150.8L1235.6 1151.0L1235.9 1151.3L1236.2 1151.5L1236.5 1151.9L1236.7 1152.2L1236.9 1152.5L1237.0 1152.9L1237.1 1153.3L1237.2 1153.7L1237.2 1154.1L1237.2 1154.5L1237.2 1154.9L1235.0 1168.2L1234.9 1168.6L1234.8 1169.0L1234.6 1169.4L1234.4 1169.7L1234.1 1170.1L1233.9 1170.4L1221.5 1182.7L1227.8 1187.8L1241.7 1186.0L1249.5 1170.5L1256.0 1148.8L1260.2 1127.7L1258.3 1119.9L1252.2 1129.7L1252.0 1130.0L1251.7 1130.3L1251.5 1130.5L1251.2 1130.8L1242.3 1137.4L1242.0 1137.7L1241.6 1137.9L1241.3 1138.0L1240.9 1138.1L1240.5 1138.2L1240.1 1138.2L1239.7 1138.2L1239.3 1138.2L1238.9 1138.1L1238.5 1138.0L1238.2 1137.8L1237.8 1137.6L1237.5 1137.4L1237.2 1137.2L1236.9 1136.9L1236.7 1136.6L1236.4 1136.2L1236.3 1135.9L1236.1 1135.5L1236.0 1135.1L1235.9 1134.7L1235.9 1134.3L1235.9 1133.9L1236.0 1133.5L1236.1 1133.1L1239.5 1121.1L1233.0 1118.5L1219.4 1122.4Z" fill="none" stroke="#EB9BA6" stroke-width="10.5" stroke-linecap="round" stroke-dasharray="0 7"/>
<path d="M1208.8 983.3L1226.6 982.6L1248.8 984.6L1266.5 986.2L1281.0 988.2" fill="none" stroke="#EB9BA6" stroke-width="11.4" stroke-linecap="round" stroke-linejoin="round" stroke-dasharray="0 6"/>
<path d="M1219.9 995.5L1222.8 1014.4L1218.2 1027.7L1224.4 1037.7L1219.5 1047.7L1226.6 1054.3L1219.5 1065.4L1224.4 1076.5L1219.9 1087.6L1226.6 1096.5L1222.2 1109.8L1226.6 1118.7" fill="none" stroke="#EB9BA6" stroke-width="11.4" stroke-linecap="round" stroke-linejoin="round" stroke-dasharray="0 8"/>
<path d="M1226.6 997.7L1227.7 1013.3" fill="none" stroke="#EB9BA6" stroke-width="11.4" stroke-linecap="round" stroke-linejoin="round" stroke-dasharray="0 8"/>
<path d="M1215.5 1025.5L1221.0 1035.5L1226.6 1043.2L1229.9 1054.3L1226.6 1065.4L1228.8 1076.5L1226.6 1087.6L1231.0 1094.3L1233.3 1105.4L1234.4 1114.3" fill="none" stroke="#EB9BA6" stroke-width="11.4" stroke-linecap="round" stroke-linejoin="round" stroke-dasharray="0 9"/>
<path d="M1216.6 1083.2L1215.5 1096.5L1216.6 1109.8L1214.4 1120.9" fill="none" stroke="#EB9BA6" stroke-width="11.4" stroke-linecap="round" stroke-linejoin="round" stroke-dasharray="0 10"/>
<path d="M1186.6 1094.3L1193.3 1105.4L1186.6 1114.3L1195.5 1125.4L1187.7 1134.2" fill="none" stroke="#EB9BA6" stroke-width="11.4" stroke-linecap="round" stroke-linejoin="round" stroke-dasharray="0 11"/>
<path d="M1196.6 1083.2L1201.1 1094.3L1203.3 1109.8L1205.5 1118.7" fill="none" stroke="#EB9BA6" stroke-width="11.4" stroke-linecap="round" stroke-linejoin="round" stroke-dasharray="0 12"/>
<path d="M1190.0 1172.0L1197.7 1185.3L1193.3 1194.2L1196.6 1211.9L1200.0 1223.0" fill="none" stroke="#EB9BA6" stroke-width="11.4" stroke-linecap="round" stroke-linejoin="round" stroke-dasharray="0 11"/>
<path d="M1251.0 1015.5L1248.3 1026.6L1244.8 1033.9L1241.2 1042.1" fill="none" stroke="#EB9BA6" stroke-width="11.4" stroke-linecap="round" stroke-linejoin="round" stroke-dasharray="0 8.5"/>
<path d="M1237.7 1059.9L1244.4 1059.9" fill="none" stroke="#EB9BA6" stroke-width="11.4" stroke-linecap="round" stroke-linejoin="round" stroke-dasharray="0 7"/>
<path d="M1238.8 1076.5L1235.5 1088.7L1233.3 1100.9" fill="none" stroke="#EB9BA6" stroke-width="11.4" stroke-linecap="round" stroke-linejoin="round" stroke-dasharray="0 11"/>
<path d="M1249.9 1092.1L1248.8 1105.4L1258.8 1113.2L1260.3 1125.4" fill="none" stroke="#EB9BA6" stroke-width="11.4" stroke-linecap="round" stroke-linejoin="round" stroke-dasharray="0 11"/>
<path d="M1253.2 1172.0L1248.8 1180.9L1233.3 1185.3L1222.2 1192.0L1215.5 1200.8L1224.4 1214.2" fill="none" stroke="#EB9BA6" stroke-width="11.4" stroke-linecap="round" stroke-linejoin="round" stroke-dasharray="0 9"/>
<path d="M1184.4 1083.2L1196.6 1078.7L1193.3 1092.1L1198.2 1105.4L1190.0 1118.7L1202.2 1115.4L1191.1 1132.0" fill="none" stroke="#EB9BA6" stroke-width="11.4" stroke-linecap="round" stroke-linejoin="round" stroke-dasharray="0 10"/>
<path d="M1193.3 1149.8L1196.6 1153.1L1200.0 1165.3L1193.3 1176.4L1202.2 1182.0L1204.4 1192.0L1188.9 1203.1L1206.6 1209.7L1190.0 1223.0L1193.3 1236.3L1202.6 1238.6L1190.0 1251.9" fill="none" stroke="#EB9BA6" stroke-width="11.4" stroke-linecap="round" stroke-linejoin="round" stroke-dasharray="0 11"/>
<path d="M1262.1 1196.4L1257.7 1203.1L1248.8 1207.5" fill="none" stroke="#EB9BA6" stroke-width="11.4" stroke-linecap="round" stroke-linejoin="round" stroke-dasharray="0 9"/>
<g fill="#EB9BA6"><circle cx="1253.2" cy="994.4" r="5.6"/><circle cx="1278.8" cy="1026.6" r="5.6"/><circle cx="1279.9" cy="1035.5" r="5.6"/><circle cx="1297.6" cy="1046.6" r="5.6"/><circle cx="1282.1" cy="1054.3" r="5.6"/><circle cx="1281.0" cy="1059.2" r="5.6"/><circle cx="1313.2" cy="1066.5" r="5.6"/><circle cx="1245.5" cy="1193.1" r="5.6"/><circle cx="1400.8" cy="1072.1" r="5.6"/><circle cx="1411.9" cy="1077.0" r="5.6"/><circle cx="1418.6" cy="1088.7" r="5.6"/><circle cx="1390.9" cy="1092.1" r="5.6"/><circle cx="1406.4" cy="1099.8" r="5.6"/><circle cx="1424.2" cy="1103.2" r="5.6"/><circle cx="1431.9" cy="1103.6" r="5.6"/><circle cx="1377.5" cy="1118.7" r="5.6"/><circle cx="1395.3" cy="1124.3" r="5.6"/><circle cx="1414.2" cy="1123.6" r="5.6"/><circle cx="1346.5" cy="1152.0" r="5.6"/><circle cx="1202.2" cy="1269.6" r="5.6"/><circle cx="1211.1" cy="1301.2" r="5.6"/><circle cx="1200.0" cy="1342.2" r="5.6"/><circle cx="1224.4" cy="1316.3" r="5.6"/><circle cx="1224.8" cy="1327.8" r="5.6"/><circle cx="1219.9" cy="1347.8" r="5.6"/><circle cx="1228.8" cy="1314.0" r="5.6"/><circle cx="1242.1" cy="1309.6" r="5.6"/><circle cx="1237.7" cy="1327.4" r="5.6"/><circle cx="1235.5" cy="1342.9" r="5.6"/><circle cx="1195.5" cy="1260.8" r="5.6"/><circle cx="1186.6" cy="1278.5" r="5.6"/></g>
<path d="M1186.3 1579.2L1195.8 1562.5L1192.2 1545.8L1199.4 1538.7L1186.3 1524.3L1194.6 1510.0L1198.2 1498.1L1193.4 1488.5L1204.2 1481.4L1186.3 1476.6L1207.7 1467.1L1208.9 1457.5L1211.3 1443.2L1217.3 1433.7" fill="none" stroke="#EB9BA6" stroke-width="11.4" stroke-linecap="round" stroke-linejoin="round" stroke-dasharray="0 10.5"/>
<path d="M1222.1 1424.1L1224.4 1405.0L1223.2 1390.7L1231.6 1381.1L1245.9 1378.8L1254.3 1371.6" fill="none" stroke="#EB9BA6" stroke-width="11.4" stroke-linecap="round" stroke-linejoin="round" stroke-dasharray="0 9"/>
<g fill="#EB9BA6"><circle cx="1191.0" cy="1426.5" r="5.6"/><circle cx="1185.1" cy="1399.0" r="5.6"/><circle cx="1199.4" cy="1343.0" r="5.6"/><circle cx="1216.1" cy="1364.4" r="5.6"/><circle cx="1224.4" cy="1354.9" r="5.6"/><circle cx="1219.7" cy="1345.3" r="5.6"/><circle cx="1223.2" cy="1328.6" r="5.6"/><circle cx="1211.3" cy="1303.6" r="5.6"/><circle cx="1229.2" cy="1309.5" r="5.6"/><circle cx="1242.3" cy="1354.9" r="5.6"/><circle cx="1238.8" cy="1340.6" r="5.6"/><circle cx="1243.5" cy="1326.3" r="5.6"/></g>
<path d="M1228.6 1193.4L1235.9 1187.3L1240.8 1198.3L1244.5 1204.4L1240.8 1210.5L1233.5 1204.4Z" fill="#fff" stroke="#fff" stroke-width="2" stroke-linejoin="round"/>
<path d="M1197.5 1201.4L1204.8 1200.8L1205.4 1207.5L1198.7 1208.1Z" fill="#fff" stroke="#fff" stroke-width="2" stroke-linejoin="round"/>
<path d="M1196.3 1216.6L1210.3 1220.3L1221.3 1238.6L1210.3 1248.4L1204.2 1233.7L1195.6 1231.3Z" fill="#fff" stroke="#fff" stroke-width="2" stroke-linejoin="round"/>
<path d="M1272.0 1297.2L1279.9 1302.1L1292.1 1311.9L1290.9 1315.5L1279.9 1309.4Z" fill="#fff" stroke="#fff" stroke-width="2" stroke-linejoin="round"/>
<path d="M1299.4 1316.8L1304.3 1326.5L1297.0 1338.7L1282.3 1349.7L1294.5 1337.5L1301.3 1326.5Z" fill="#fff" stroke="#fff" stroke-width="2" stroke-linejoin="round"/>
<path d="M1284.2 1237.4L1290.3 1238.6L1289.7 1246.5L1286.0 1244.7Z" fill="#fff" stroke="#fff" stroke-width="2" stroke-linejoin="round"/>
<path d="M1290.9 1271.6L1299.4 1253.3L1304.9 1245.9L1301.9 1255.7L1293.3 1274.0Z" fill="#fff" stroke="#fff" stroke-width="2" stroke-linejoin="round"/>
<path d="M1305.5 1278.9L1310.4 1265.5L1319.0 1256.9L1316.5 1267.9L1309.2 1281.3Z" fill="#fff" stroke="#fff" stroke-width="2" stroke-linejoin="round"/>
<path d="M1318.4 1288.7L1327.5 1272.8L1334.8 1270.4L1333.6 1277.7L1321.4 1289.9Z" fill="#fff" stroke="#fff" stroke-width="2" stroke-linejoin="round"/>
<path d="M1328.7 1300.9L1340.9 1294.8L1350.7 1283.8L1348.3 1292.3L1333.6 1302.1Z" fill="#fff" stroke="#fff" stroke-width="2" stroke-linejoin="round"/>
<path d="M1347.7 1312.5L1358.0 1302.1L1366.0 1296.0L1364.1 1300.9L1350.7 1313.7Z" fill="#fff" stroke="#fff" stroke-width="2" stroke-linejoin="round"/>
<path d="M1268.3 1371.7L1273.8 1360.7L1276.2 1359.5L1272.6 1370.5Z" fill="#fff" stroke="#fff" stroke-width="2" stroke-linejoin="round"/>
<path d="M1287.2 1350.9L1297.0 1348.5L1295.8 1393.7L1288.4 1387.6Z" fill="#fff" stroke="#fff" stroke-width="2" stroke-linejoin="round"/>
<path d="M1288.9 1343.0L1299.6 1347.7L1298.4 1378.8L1288.9 1390.7L1284.1 1378.8L1286.5 1359.7Z" fill="#fff" stroke="#fff" stroke-width="2" stroke-linejoin="round"/>
<path d="M1260.2 1378.8L1266.2 1371.6L1268.6 1378.8L1262.6 1395.5L1243.5 1424.1L1238.8 1433.7L1241.1 1419.3L1255.5 1397.9Z" fill="#fff" stroke="#fff" stroke-width="2" stroke-linejoin="round"/>
<path d="M1238.8 1328.6L1254.3 1314.3L1255.5 1321.5L1243.5 1333.4Z" fill="#fff" stroke="#fff" stroke-width="2" stroke-linejoin="round"/>
<path d="M1331.8 1445.6L1346.2 1443.2L1362.9 1455.1L1350.9 1452.7L1336.6 1450.4Z" fill="#fff" stroke="#fff" stroke-width="2" stroke-linejoin="round"/>
<path d="M1327.1 1481.4L1336.6 1467.1L1339.0 1476.6L1331.8 1486.2Z" fill="#fff" stroke="#fff" stroke-width="2" stroke-linejoin="round"/>
<path d="M1293.7 1426.5L1305.6 1421.7L1300.8 1436.0L1296.0 1433.7Z" fill="#fff" stroke="#fff" stroke-width="2" stroke-linejoin="round"/>
<path d="M1624.5 1623.6L1630.2 1625.5L1635.8 1638.7L1628.3 1634.9Z" fill="#fff" stroke="#fff" stroke-width="2" stroke-linejoin="round"/>
<path d="M1649.1 1612.3L1652.8 1613.0L1658.5 1627.4L1652.8 1625.5Z" fill="#fff" stroke="#fff" stroke-width="2" stroke-linejoin="round"/>
<path d="M1250.7 1428.9L1272.2 1412.2" fill="none" stroke="#fff" stroke-width="2.88" stroke-linecap="round" stroke-linejoin="round"/>
<path d="M1288.9 1464.7L1308.0 1448.0" fill="none" stroke="#fff" stroke-width="2.88" stroke-linecap="round" stroke-linejoin="round"/>
<path d="M1272.2 1467.1L1279.3 1462.3" fill="none" stroke="#fff" stroke-width="2.16" stroke-linecap="round" stroke-linejoin="round"/>
<path d="M1255.5 1510.0L1272.2 1493.3" fill="none" stroke="#fff" stroke-width="2.52" stroke-linecap="round" stroke-linejoin="round"/>
<path d="M1322.3 1517.2L1336.6 1507.6" fill="none" stroke="#fff" stroke-width="2.52" stroke-linecap="round" stroke-linejoin="round"/>
<path d="M1273.4 1526.7L1278.1 1536.3" fill="none" stroke="#fff" stroke-width="2.16" stroke-linecap="round" stroke-linejoin="round"/>
<path d="M1350.9 1351.3L1382.0 1339.4" fill="none" stroke="#fff" stroke-width="1.7999999999999998" stroke-linecap="round" stroke-linejoin="round"/>
<path d="M1362.9 1364.4L1379.6 1356.8" fill="none" stroke="#fff" stroke-width="1.7999999999999998" stroke-linecap="round" stroke-linejoin="round"/>
<path d="M1355.7 1390.7L1367.6 1378.8" fill="none" stroke="#fff" stroke-width="2.16" stroke-linecap="round" stroke-linejoin="round"/>
<path d="M1360.5 1410.3L1372.4 1400.2" fill="none" stroke="#fff" stroke-width="2.16" stroke-linecap="round" stroke-linejoin="round"/>
<path d="M1389.1 1386.4L1401.1 1381.9" fill="none" stroke="#fff" stroke-width="1.7999999999999998" stroke-linecap="round" stroke-linejoin="round"/>
<path d="M1403.4 1414.1L1413.0 1416.5" fill="none" stroke="#fff" stroke-width="1.7999999999999998" stroke-linecap="round" stroke-linejoin="round"/>
<path d="M1346.2 1418.9L1355.7 1423.6" fill="none" stroke="#fff" stroke-width="1.7999999999999998" stroke-linecap="round" stroke-linejoin="round"/>
<path d="M1350.9 1307.6L1365.3 1300.0" fill="none" stroke="#fff" stroke-width="1.7999999999999998" stroke-linecap="round" stroke-linejoin="round"/>
<path d="M1336.6 1323.9L1348.5 1318.6" fill="none" stroke="#fff" stroke-width="1.7999999999999998" stroke-linecap="round" stroke-linejoin="round"/>
<path d="M1308.0 1481.4L1315.1 1490.9" fill="none" stroke="#fff" stroke-width="1.7999999999999998" stroke-linecap="round" stroke-linejoin="round"/>
<path d="M1293.7 1490.9L1303.2 1483.8" fill="none" stroke="#fff" stroke-width="1.7999999999999998" stroke-linecap="round" stroke-linejoin="round"/>
<path d="M1308.0 1538.7L1315.1 1531.5" fill="none" stroke="#fff" stroke-width="1.7999999999999998" stroke-linecap="round" stroke-linejoin="round"/>
<path d="M1265.0 1548.2L1269.8 1543.4" fill="none" stroke="#fff" stroke-width="1.7999999999999998" stroke-linecap="round" stroke-linejoin="round"/>
<path d="M1284.1 1557.8L1288.9 1562.5" fill="none" stroke="#fff" stroke-width="1.7999999999999998" stroke-linecap="round" stroke-linejoin="round"/>
<path d="M1370.0 1505.3L1374.8 1500.5" fill="none" stroke="#fff" stroke-width="1.44" stroke-linecap="round" stroke-linejoin="round"/>
<path d="M1346.2 1498.1L1350.9 1493.3" fill="none" stroke="#fff" stroke-width="1.7999999999999998" stroke-linecap="round" stroke-linejoin="round"/>
<path d="M1248.1 1289.9L1253.0 1314.3" fill="none" stroke="#fff" stroke-width="3" stroke-linecap="round" stroke-linejoin="round"/>
<path d="M1266.5 1315.5L1271.3 1329.0" fill="none" stroke="#fff" stroke-width="2.5" stroke-linecap="round" stroke-linejoin="round"/>
<path d="M1328.7 1314.3L1338.5 1311.9" fill="none" stroke="#fff" stroke-width="2.5" stroke-linecap="round" stroke-linejoin="round"/>
<path d="M1338.5 1325.3L1345.8 1322.9" fill="none" stroke="#fff" stroke-width="2.5" stroke-linecap="round" stroke-linejoin="round"/>
<path d="M1355.6 1324.1L1370.0 1314.3" fill="none" stroke="#fff" stroke-width="2.5" stroke-linecap="round" stroke-linejoin="round"/>
<path d="M1344.6 1336.3L1350.7 1335.7" fill="none" stroke="#fff" stroke-width="3" stroke-linecap="round" stroke-linejoin="round"/>
<path d="M1350.7 1350.9L1361.7 1348.5" fill="none" stroke="#fff" stroke-width="3.5" stroke-linecap="round" stroke-linejoin="round"/>
<path d="M1360.5 1363.2L1370.0 1365.6" fill="none" stroke="#fff" stroke-width="3" stroke-linecap="round" stroke-linejoin="round"/>
<path d="M1333.0 1344.8L1336.1 1360.7" fill="none" stroke="#fff" stroke-width="2.5" stroke-linecap="round" stroke-linejoin="round"/>
<path d="M1304.9 1355.8L1308.0 1363.2" fill="none" stroke="#fff" stroke-width="3" stroke-linecap="round" stroke-linejoin="round"/>
<path d="M1320.2 1355.8L1322.6 1365.6" fill="none" stroke="#fff" stroke-width="2.5" stroke-linecap="round" stroke-linejoin="round"/>
<path d="M1333.6 1370.5L1337.3 1375.4" fill="none" stroke="#fff" stroke-width="3" stroke-linecap="round" stroke-linejoin="round"/>
<path d="M1355.6 1390.0L1361.7 1385.1" fill="none" stroke="#fff" stroke-width="3.5" stroke-linecap="round" stroke-linejoin="round"/>
<path d="M1243.3 1228.8L1250.6 1226.4" fill="none" stroke="#fff" stroke-width="3.5" stroke-linecap="round" stroke-linejoin="round"/>
<path d="M1248.1 1254.5L1254.2 1252.0" fill="none" stroke="#fff" stroke-width="3" stroke-linecap="round" stroke-linejoin="round"/>
<path d="M1223.7 1274.0L1228.6 1274.6" fill="none" stroke="#fff" stroke-width="3" stroke-linecap="round" stroke-linejoin="round"/>
<path d="M1235.9 1277.7L1243.3 1275.2" fill="none" stroke="#fff" stroke-width="3" stroke-linecap="round" stroke-linejoin="round"/>
<path d="M1255.5 1272.8L1257.9 1273.4" fill="none" stroke="#fff" stroke-width="3" stroke-linecap="round" stroke-linejoin="round"/>
<path d="M1262.8 1287.4L1267.7 1285.0" fill="none" stroke="#fff" stroke-width="3" stroke-linecap="round" stroke-linejoin="round"/>
<path d="M1228.6 1289.3L1237.2 1294.8" fill="none" stroke="#fff" stroke-width="3" stroke-linecap="round" stroke-linejoin="round"/>
<path d="M1238.4 1243.5L1240.8 1244.7" fill="none" stroke="#fff" stroke-width="3" stroke-linecap="round" stroke-linejoin="round"/>
<path d="M1272.0 1245.9L1273.8 1250.8" fill="none" stroke="#fff" stroke-width="2" stroke-linecap="round" stroke-linejoin="round"/>
<path d="M1279.9 1265.5L1281.1 1285.0" fill="none" stroke="#fff" stroke-width="1.6" stroke-linecap="round" stroke-linejoin="round"/>
<path d="M1262.8 1224.0L1264.0 1231.3" fill="none" stroke="#fff" stroke-width="2" stroke-linecap="round" stroke-linejoin="round"/>
<path d="M1666.0 1650.0L1677.4 1645.5" fill="none" stroke="#fff" stroke-width="2.2" stroke-linecap="round" stroke-linejoin="round"/>
<path d="M1695.1 1608.5L1695.5 1616.0" fill="none" stroke="#fff" stroke-width="3" stroke-linecap="round" stroke-linejoin="round"/>
<path d="M1692.5 1668.9L1694.3 1691.5" fill="none" stroke="#fff" stroke-width="2.5" stroke-linecap="round" stroke-linejoin="round"/>
<path d="M1643.4 1699.8L1650.9 1692.3" fill="none" stroke="#fff" stroke-width="2.5" stroke-linecap="round" stroke-linejoin="round"/>
<path d="M1678.9 1706.6L1679.6 1720.6" fill="none" stroke="#fff" stroke-width="2.5" stroke-linecap="round" stroke-linejoin="round"/>
<path d="M1293.2 1276.3L1302.1 1256.3L1305.4 1247.9" fill="none" stroke="#fff" stroke-width="3.5" stroke-linecap="round" stroke-linejoin="round"/>
<path d="M1307.6 1270.8L1319.8 1259.0" fill="none" stroke="#fff" stroke-width="3.5" stroke-linecap="round" stroke-linejoin="round"/>
<path d="M1320.9 1297.4L1335.4 1270.8" fill="none" stroke="#fff" stroke-width="4" stroke-linecap="round" stroke-linejoin="round"/>
<path d="M1338.7 1297.4L1350.9 1283.4" fill="none" stroke="#fff" stroke-width="3.5" stroke-linecap="round" stroke-linejoin="round"/>
<path d="M1352.0 1314.5L1364.2 1296.7" fill="none" stroke="#fff" stroke-width="3.5" stroke-linecap="round" stroke-linejoin="round"/>
<path d="M1276.5 1304.1L1283.2 1314.0" fill="none" stroke="#fff" stroke-width="3" stroke-linecap="round" stroke-linejoin="round"/>
<path d="M1267.0 1315.1L1270.5 1330.7" fill="none" stroke="#fff" stroke-width="2.5" stroke-linecap="round" stroke-linejoin="round"/>
<path d="M1360.9 1325.1L1377.5 1314.5" fill="none" stroke="#fff" stroke-width="3" stroke-linecap="round" stroke-linejoin="round"/>
<path d="M1246.6 1293.0L1252.1 1310.7" fill="none" stroke="#fff" stroke-width="4" stroke-linecap="round" stroke-linejoin="round"/>
<path d="M1280.5 1402.1L1264.2 1430.1L1247.5 1459.8L1237.9 1483.7L1228.4 1507.6L1218.8 1531.5L1219.8 1531.7L1231.2 1508.8L1242.6 1486.1L1253.9 1463.3L1272.3 1434.8L1290.4 1406.8Z" fill="#fff"/>
<path d="M1224.0 1391.7L1222.2 1412.6L1218.1 1429.0L1213.5 1442.9L1208.8 1460.4L1206.5 1470.9L1204.7 1481.4L1201.2 1496.6" fill="none" stroke="#EB9BA6" stroke-width="11.4" stroke-linecap="round" stroke-linejoin="round" stroke-dasharray="0 9.5"/>
<path d="M1210.0 1508.2L1208.8 1524.5L1205.5 1535.0L1204.7 1552.5L1205.5 1568.8" fill="none" stroke="#EB9BA6" stroke-width="11.4" stroke-linecap="round" stroke-linejoin="round" stroke-dasharray="0 9"/>
<g fill="#EB9BA6"><circle cx="1184.9" cy="1399.2" r="5.7"/><circle cx="1191.9" cy="1427.8" r="5.7"/><circle cx="1186.1" cy="1476.7" r="5.7"/><circle cx="1192.5" cy="1489.0" r="5.7"/><circle cx="1200.1" cy="1498.9" r="5.7"/><circle cx="1196.0" cy="1509.4" r="5.7"/><circle cx="1189.0" cy="1524.5" r="5.7"/><circle cx="1199.5" cy="1539.7" r="5.7"/><circle cx="1192.5" cy="1545.5" r="5.7"/><circle cx="1195.4" cy="1563.6" r="5.7"/><circle cx="1187.2" cy="1578.1" r="5.7"/><circle cx="1190.2" cy="1420.8" r="5.7"/><circle cx="1226.3" cy="1387.0" r="5.7"/><circle cx="1235.6" cy="1384.7" r="5.7"/><circle cx="1244.9" cy="1385.8" r="5.7"/></g>
<path d="M1438.6 1205.2L1447.5 1226.5L1458.2 1240.7L1468.8 1253.1L1486.6 1269.1L1500.8 1292.2L1515.0 1313.5L1532.8 1338.4L1545.2 1359.7" fill="none" stroke="#fff" stroke-width="1.4" stroke-dasharray="2.5 7" stroke-linecap="round" stroke-opacity="0.8"/>
<path d="M1181.0 1721.2L1181.0 1595.9L1182.6 1594.2L1184.0 1592.4L1185.0 1590.1L1188.7 1590.7L1187.9 1586.5L1191.0 1586.4L1192.5 1584.5L1195.2 1583.6L1193.9 1579.6L1196.9 1578.9L1198.2 1576.8L1200.8 1575.8L1201.9 1572.2L1205.1 1571.9L1207.7 1570.9L1209.7 1573.1L1212.6 1573.7L1214.4 1576.2L1217.3 1576.8L1219.2 1579.0L1219.3 1581.4L1220.3 1583.7L1219.2 1586.4L1219.7 1588.8L1222.7 1589.5L1224.6 1587.2L1227.3 1587.0L1229.0 1584.5L1231.6 1584.0L1234.3 1584.1L1235.8 1580.7L1238.5 1580.5L1241.1 1580.4L1243.3 1581.9L1245.6 1582.8L1248.4 1582.4L1251.2 1581.8L1253.4 1583.2L1255.8 1583.7L1258.1 1584.8L1260.2 1586.4L1262.9 1587.1L1264.7 1584.0L1267.8 1586.2L1270.2 1585.6L1271.7 1581.6L1274.4 1582.3L1276.9 1582.2L1279.3 1581.6L1281.1 1579.0L1284.0 1579.8L1287.0 1581.0L1288.4 1577.1L1291.4 1578.3L1293.2 1575.6L1296.1 1576.7L1298.4 1575.7L1300.2 1578.2L1303.7 1576.5L1306.4 1576.7L1308.6 1578.0L1310.3 1580.8L1312.7 1581.6L1315.0 1579.4L1317.4 1579.5L1319.9 1581.0L1322.4 1582.6L1324.6 1580.3L1327.1 1580.4L1329.6 1581.0L1331.6 1583.0L1334.9 1581.8L1336.5 1584.7L1339.5 1584.1L1341.4 1586.4L1343.2 1588.0L1344.6 1590.5L1348.6 1588.4L1349.6 1591.4L1351.6 1592.8L1354.6 1592.3L1356.5 1593.9L1358.1 1595.9L1358.3 1599.1L1360.0 1600.8L1364.3 1599.9L1364.3 1603.4L1365.3 1605.8L1369.1 1605.4L1370.0 1607.9L1371.5 1609.7L1374.8 1609.4L1375.8 1611.9L1376.7 1614.4L1378.7 1615.6L1380.0 1617.7L1383.7 1617.0L1384.3 1619.8L1386.1 1621.6L1385.4 1624.7L1387.6 1626.2L1389.3 1628.1L1390.7 1630.0L1389.7 1633.4L1392.4 1634.6L1393.9 1636.5L1396.8 1637.7L1394.9 1641.3L1397.7 1642.6L1398.4 1644.9L1400.3 1646.6L1400.5 1649.1L1402.0 1651.0L1403.9 1652.7L1403.4 1655.6L1404.0 1658.2L1407.0 1659.7L1405.4 1663.2L1409.4 1664.4L1407.5 1668.0L1408.4 1670.4L1410.6 1672.3L1411.1 1674.7L1410.6 1677.3L1413.0 1679.3L1411.4 1682.0L1413.1 1684.2L1414.4 1686.4L1411.8 1689.4L1414.2 1691.4L1415.3 1693.7L1416.1 1696.0L1414.9 1699.0L1417.6 1700.8L1417.8 1703.3L1415.5 1704.6L1415.2 1707.9L1411.4 1707.7L1410.6 1710.5L1407.0 1721.2Z" fill="#1E8CFF"/>
<path d="M1181.0 1603.6L1195.8 1605.0L1202.5 1609.3L1193.4 1607.9L1181.0 1608.4Z" fill="#fff"/>
<path d="M1181.0 1630.5L1191.0 1628.9L1197.7 1636.0L1189.8 1633.7L1181.0 1636.0Z" fill="#fff"/>
<path d="M1181.0 1666.3L1188.2 1668.3L1192.5 1673.7L1186.3 1671.4L1181.0 1671.4Z" fill="#fff"/>
<g fill="#EB9BA6"><circle cx="1186.3" cy="1579.2" r="5.6"/></g></g>
<rect x="1180.5" y="969.2" width="751.3" height="751.4" fill="none" stroke="#7a7a7a" stroke-width="2.4"/>
<text x="1179.0" y="1759.5" text-anchor="middle">0</text>
<text x="1366.8" y="1759.5" text-anchor="middle">50000</text>
<text x="1554.7" y="1759.5" text-anchor="middle">100000</text>
<text x="1742.5" y="1759.5" text-anchor="middle">150000</text>
<text x="1930.3" y="1759.5" text-anchor="middle">200000</text>
<text x="1157.5" y="1730.4" text-anchor="end">0</text>
<text x="1157.5" y="1636.3" text-anchor="end">25000</text>
<text x="1157.5" y="1542.3" text-anchor="end">50000</text>
<text x="1157.5" y="1448.2" text-anchor="end">75000</text>
<text x="1157.5" y="1354.2" text-anchor="end">100000</text>
<text x="1157.5" y="1260.1" text-anchor="end">125000</text>
<text x="1157.5" y="1166.1" text-anchor="end">150000</text>
<text x="1157.5" y="1072.0" text-anchor="end">175000</text>
<text x="1157.5" y="979.0" text-anchor="end">200000</text>
<path d="M1180.5 1720.6v13.8M1180.5 969.2v-13.8M1368.3 1720.6v13.8M1368.3 969.2v-13.8M1556.2 1720.6v13.8M1556.2 969.2v-13.8M1744.0 1720.6v13.8M1744.0 969.2v-13.8M1931.8 1720.6v13.8M1931.8 969.2v-13.8M1180.5 1720.6h-13.8M1931.8 1720.6h13.8M1180.5 1626.5h-13.8M1931.8 1626.5h13.8M1180.5 1532.5h-13.8M1931.8 1532.5h13.8M1180.5 1438.4h-13.8M1931.8 1438.4h13.8M1180.5 1344.4h-13.8M1931.8 1344.4h13.8M1180.5 1250.3h-13.8M1931.8 1250.3h13.8M1180.5 1156.3h-13.8M1931.8 1156.3h13.8M1180.5 1062.2h-13.8M1931.8 1062.2h13.8M1180.5 969.2h-13.8M1931.8 969.2h13.8" fill="none" stroke="#7a7a7a" stroke-width="2.4"/>
<text x="1554.7" y="1794.5" text-anchor="middle">x (km)</text>
<text transform="translate(1039.5,1344.9) rotate(-90)" text-anchor="middle">y (km)</text>
</g>
</svg>
</body></html>
